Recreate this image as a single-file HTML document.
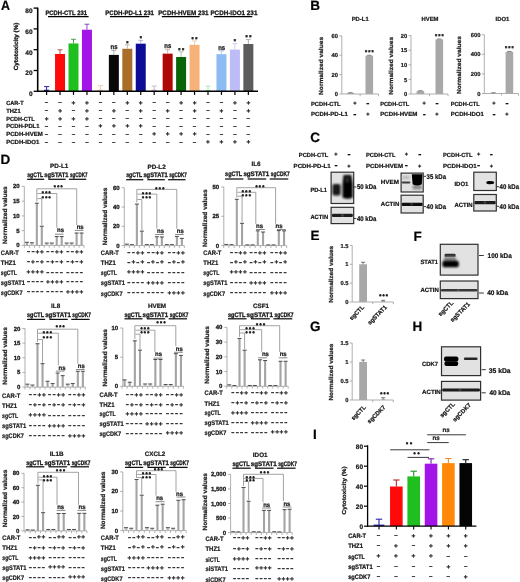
<!DOCTYPE html>
<html><head><meta charset="utf-8"><title>Figure</title>
<style>html,body{margin:0;padding:0;background:#fff;}svg{display:block;filter:blur(0.3px);}text{stroke:#1a1a1a;stroke-width:0.22px;}</style>
</head><body>
<svg width="520" height="582" viewBox="0 0 520 582" font-family="'Liberation Sans', Arial, sans-serif" font-weight="bold" fill="#1a1a1a" text-rendering="geometricPrecision">
<text x="0.96" y="9.80" font-size="13.5" fill="#000" textLength="9.00" lengthAdjust="spacingAndGlyphs">A</text>
<text x="310.30" y="9.80" font-size="13.5" fill="#000">B</text>
<text x="310.30" y="141.70" font-size="13.5" fill="#000">C</text>
<text x="0.60" y="164.30" font-size="13.5" fill="#000">D</text>
<text x="310.50" y="240.30" font-size="13.5" fill="#000">E</text>
<text x="413.50" y="240.50" font-size="13.5" fill="#000">F</text>
<text x="310.05" y="331.20" font-size="13.5" fill="#000">G</text>
<text x="412.40" y="331.00" font-size="13.5" fill="#000">H</text>
<text x="312.90" y="438.50" font-size="13.5" fill="#000">I</text>
<line x1="37.70" y1="7.60" x2="37.70" y2="92.00" stroke="#000" stroke-width="1.6"/>
<line x1="33.60" y1="91.30" x2="37.70" y2="91.30" stroke="#000" stroke-width="1.3"/>
<text x="32.60" y="96.20" font-size="6.5" text-anchor="end" fill="#111">0</text>
<line x1="33.60" y1="70.50" x2="37.70" y2="70.50" stroke="#000" stroke-width="1.3"/>
<text x="32.60" y="75.40" font-size="6.5" text-anchor="end" fill="#111">20</text>
<line x1="33.60" y1="49.70" x2="37.70" y2="49.70" stroke="#000" stroke-width="1.3"/>
<text x="32.60" y="54.60" font-size="6.5" text-anchor="end" fill="#111">40</text>
<line x1="33.60" y1="28.90" x2="37.70" y2="28.90" stroke="#000" stroke-width="1.3"/>
<text x="32.60" y="33.80" font-size="6.5" text-anchor="end" fill="#111">60</text>
<line x1="33.60" y1="8.10" x2="37.70" y2="8.10" stroke="#000" stroke-width="1.3"/>
<text x="32.60" y="13.00" font-size="6.5" text-anchor="end" fill="#111">80</text>
<text x="18.50" y="46.40" font-size="6.0" text-anchor="middle" fill="#111" textLength="47.60" lengthAdjust="spacingAndGlyphs" transform="rotate(-90 18.50 46.40)" style="stroke-width:0.28px">Cytotoxicity (%)</text>
<line x1="46.60" y1="86.62" x2="46.60" y2="91.30" stroke="#2a2aa0" stroke-width="1.0"/>
<line x1="44.00" y1="86.62" x2="49.20" y2="86.62" stroke="#2a2aa0" stroke-width="1.0"/>
<rect x="44.00" y="89.70" width="5.20" height="1.60" fill="#2a2aa0"/>
<line x1="46.60" y1="91.30" x2="46.60" y2="94.90" stroke="#000" stroke-width="1.2"/>
<rect x="55.05" y="53.96" width="10.00" height="37.34" fill="#ff0a0a"/>
<line x1="60.05" y1="49.80" x2="60.05" y2="53.96" stroke="#b83a3a" stroke-width="0.9"/>
<line x1="57.65" y1="49.80" x2="62.45" y2="49.80" stroke="#b83a3a" stroke-width="0.9"/>
<line x1="60.05" y1="91.30" x2="60.05" y2="94.90" stroke="#000" stroke-width="1.2"/>
<rect x="68.50" y="43.46" width="10.00" height="47.84" fill="#1fbf1f"/>
<line x1="73.50" y1="39.30" x2="73.50" y2="43.46" stroke="#3a9a3a" stroke-width="0.9"/>
<line x1="71.10" y1="39.30" x2="75.90" y2="39.30" stroke="#3a9a3a" stroke-width="0.9"/>
<line x1="73.50" y1="91.30" x2="73.50" y2="94.90" stroke="#000" stroke-width="1.2"/>
<rect x="81.95" y="29.73" width="10.00" height="61.57" fill="#a214e8"/>
<line x1="86.95" y1="24.22" x2="86.95" y2="29.73" stroke="#7a3ab8" stroke-width="0.9"/>
<line x1="84.55" y1="24.22" x2="89.35" y2="24.22" stroke="#7a3ab8" stroke-width="0.9"/>
<line x1="86.95" y1="91.30" x2="86.95" y2="94.90" stroke="#000" stroke-width="1.2"/>
<line x1="100.40" y1="85.68" x2="100.40" y2="91.30" stroke="#f0cdb4" stroke-width="1.0"/>
<line x1="97.80" y1="85.68" x2="103.00" y2="85.68" stroke="#f0cdb4" stroke-width="1.0"/>
<rect x="97.80" y="89.70" width="5.20" height="1.60" fill="#f0cdb4"/>
<line x1="100.40" y1="91.30" x2="100.40" y2="94.90" stroke="#000" stroke-width="1.2"/>
<rect x="108.85" y="54.90" width="10.00" height="36.40" fill="#080808"/>
<line x1="113.85" y1="50.43" x2="113.85" y2="54.90" stroke="#a8a8a8" stroke-width="0.9"/>
<line x1="111.45" y1="50.43" x2="116.25" y2="50.43" stroke="#a8a8a8" stroke-width="0.9"/>
<line x1="113.85" y1="91.30" x2="113.85" y2="94.90" stroke="#000" stroke-width="1.2"/>
<text x="114.05" y="48.93" font-size="6.9" text-anchor="middle" fill="#111" textLength="7.00" lengthAdjust="spacingAndGlyphs" style="stroke-width:0.25px">ns</text>
<rect x="122.30" y="48.76" width="10.00" height="42.54" fill="#a86e2a"/>
<line x1="127.30" y1="44.81" x2="127.30" y2="48.76" stroke="#c0b0a0" stroke-width="0.9"/>
<line x1="124.90" y1="44.81" x2="129.70" y2="44.81" stroke="#c0b0a0" stroke-width="0.9"/>
<line x1="127.30" y1="91.30" x2="127.30" y2="94.90" stroke="#000" stroke-width="1.2"/>
<text x="127.30" y="44.61" font-size="5.6" text-anchor="middle" style="stroke-width:0.42px">*</text>
<rect x="135.75" y="43.67" width="10.00" height="47.63" fill="#0c0c96"/>
<line x1="140.75" y1="40.34" x2="140.75" y2="43.67" stroke="#a8a8c8" stroke-width="0.9"/>
<line x1="138.35" y1="40.34" x2="143.15" y2="40.34" stroke="#a8a8c8" stroke-width="0.9"/>
<line x1="140.75" y1="91.30" x2="140.75" y2="94.90" stroke="#000" stroke-width="1.2"/>
<text x="140.75" y="40.14" font-size="5.6" text-anchor="middle" style="stroke-width:0.42px">*</text>
<line x1="154.20" y1="86.10" x2="154.20" y2="91.30" stroke="#cbbcc8" stroke-width="1.0"/>
<line x1="151.60" y1="86.10" x2="156.80" y2="86.10" stroke="#cbbcc8" stroke-width="1.0"/>
<rect x="151.60" y="89.70" width="5.20" height="1.60" fill="#cbbcc8"/>
<line x1="154.20" y1="91.30" x2="154.20" y2="94.90" stroke="#000" stroke-width="1.2"/>
<rect x="162.65" y="53.65" width="10.00" height="37.65" fill="#b00606"/>
<line x1="167.65" y1="49.70" x2="167.65" y2="53.65" stroke="#c8a8a8" stroke-width="0.9"/>
<line x1="165.25" y1="49.70" x2="170.05" y2="49.70" stroke="#c8a8a8" stroke-width="0.9"/>
<line x1="167.65" y1="91.30" x2="167.65" y2="94.90" stroke="#000" stroke-width="1.2"/>
<text x="167.85" y="48.20" font-size="6.9" text-anchor="middle" fill="#111" textLength="7.00" lengthAdjust="spacingAndGlyphs" style="stroke-width:0.25px">ns</text>
<rect x="176.10" y="56.98" width="10.00" height="34.32" fill="#0a640a"/>
<line x1="181.10" y1="51.78" x2="181.10" y2="56.98" stroke="#a8c0a8" stroke-width="0.9"/>
<line x1="178.70" y1="51.78" x2="183.50" y2="51.78" stroke="#a8c0a8" stroke-width="0.9"/>
<line x1="181.10" y1="91.30" x2="181.10" y2="94.90" stroke="#000" stroke-width="1.2"/>
<text x="181.10" y="51.58" font-size="5.6" text-anchor="middle" textLength="5.93" lengthAdjust="spacing" style="stroke-width:0.42px">**</text>
<rect x="189.55" y="44.81" width="10.00" height="46.49" fill="#f6b278"/>
<line x1="194.55" y1="40.96" x2="194.55" y2="44.81" stroke="#e8c8b0" stroke-width="0.9"/>
<line x1="192.15" y1="40.96" x2="196.95" y2="40.96" stroke="#e8c8b0" stroke-width="0.9"/>
<line x1="194.55" y1="91.30" x2="194.55" y2="94.90" stroke="#000" stroke-width="1.2"/>
<text x="194.55" y="40.76" font-size="5.6" text-anchor="middle" textLength="5.93" lengthAdjust="spacing" style="stroke-width:0.42px">**</text>
<line x1="208.00" y1="86.10" x2="208.00" y2="91.30" stroke="#b4e6b4" stroke-width="1.0"/>
<line x1="205.40" y1="86.10" x2="210.60" y2="86.10" stroke="#b4e6b4" stroke-width="1.0"/>
<rect x="205.40" y="89.70" width="5.20" height="1.60" fill="#b4e6b4"/>
<line x1="208.00" y1="91.30" x2="208.00" y2="94.90" stroke="#000" stroke-width="1.2"/>
<rect x="216.45" y="54.17" width="10.00" height="37.13" fill="#8cbcf2"/>
<line x1="221.45" y1="51.05" x2="221.45" y2="54.17" stroke="#b8c8e8" stroke-width="0.9"/>
<line x1="219.05" y1="51.05" x2="223.85" y2="51.05" stroke="#b8c8e8" stroke-width="0.9"/>
<line x1="221.45" y1="91.30" x2="221.45" y2="94.90" stroke="#000" stroke-width="1.2"/>
<text x="221.65" y="49.55" font-size="6.9" text-anchor="middle" fill="#111" textLength="7.00" lengthAdjust="spacingAndGlyphs" style="stroke-width:0.25px">ns</text>
<rect x="229.90" y="49.60" width="10.00" height="41.70" fill="#bcbcf6"/>
<line x1="234.90" y1="43.67" x2="234.90" y2="49.60" stroke="#c8c8f0" stroke-width="0.9"/>
<line x1="232.50" y1="43.67" x2="237.30" y2="43.67" stroke="#c8c8f0" stroke-width="0.9"/>
<line x1="234.90" y1="91.30" x2="234.90" y2="94.90" stroke="#000" stroke-width="1.2"/>
<text x="234.90" y="43.47" font-size="5.6" text-anchor="middle" style="stroke-width:0.42px">*</text>
<rect x="243.35" y="43.98" width="10.00" height="47.32" fill="#5c5c5c"/>
<line x1="248.35" y1="39.40" x2="248.35" y2="43.98" stroke="#a8a8a8" stroke-width="0.9"/>
<line x1="245.95" y1="39.40" x2="250.75" y2="39.40" stroke="#a8a8a8" stroke-width="0.9"/>
<line x1="248.35" y1="91.30" x2="248.35" y2="94.90" stroke="#000" stroke-width="1.2"/>
<text x="248.35" y="39.20" font-size="5.6" text-anchor="middle" textLength="5.93" lengthAdjust="spacing" style="stroke-width:0.42px">**</text>
<line x1="37.00" y1="91.30" x2="258.00" y2="91.30" stroke="#000" stroke-width="1.4"/>
<text x="45.40" y="14.60" font-size="6.4" fill="#111" textLength="41.60" lengthAdjust="spacingAndGlyphs" style="stroke-width:0.26px">PCDH-CTL 231</text>
<line x1="48.00" y1="16.70" x2="88.60" y2="16.70" stroke="#000" stroke-width="1.2"/>
<text x="105.20" y="14.60" font-size="6.4" fill="#111" textLength="48.80" lengthAdjust="spacingAndGlyphs" style="stroke-width:0.26px">PCDH-PD-L1 231</text>
<line x1="110.00" y1="16.70" x2="149.20" y2="16.70" stroke="#000" stroke-width="1.2"/>
<text x="158.20" y="14.60" font-size="6.4" fill="#111" textLength="50.20" lengthAdjust="spacingAndGlyphs" style="stroke-width:0.26px">PCDH-HVEM 231</text>
<line x1="161.80" y1="16.70" x2="199.60" y2="16.70" stroke="#000" stroke-width="1.2"/>
<text x="210.40" y="14.60" font-size="6.4" fill="#111" textLength="47.00" lengthAdjust="spacingAndGlyphs" style="stroke-width:0.26px">PCDH-IDO1 231</text>
<line x1="213.80" y1="16.70" x2="252.30" y2="16.70" stroke="#000" stroke-width="1.2"/>
<text x="6.20" y="105.00" font-size="5.9" fill="#111" textLength="17.40" lengthAdjust="spacingAndGlyphs">CAR-T</text>
<text x="46.60" y="104.45" font-size="6.2" text-anchor="middle" fill="#111">–</text>
<text x="60.05" y="104.45" font-size="6.2" text-anchor="middle" fill="#111">–</text>
<text x="73.50" y="105.00" font-size="6.5" text-anchor="middle" fill="#111">+</text>
<text x="86.95" y="105.00" font-size="6.5" text-anchor="middle" fill="#111">+</text>
<text x="100.40" y="104.45" font-size="6.2" text-anchor="middle" fill="#111">–</text>
<text x="113.85" y="104.45" font-size="6.2" text-anchor="middle" fill="#111">–</text>
<text x="127.30" y="105.00" font-size="6.5" text-anchor="middle" fill="#111">+</text>
<text x="140.75" y="105.00" font-size="6.5" text-anchor="middle" fill="#111">+</text>
<text x="154.20" y="104.45" font-size="6.2" text-anchor="middle" fill="#111">–</text>
<text x="167.65" y="104.45" font-size="6.2" text-anchor="middle" fill="#111">–</text>
<text x="181.10" y="105.00" font-size="6.5" text-anchor="middle" fill="#111">+</text>
<text x="194.55" y="105.00" font-size="6.5" text-anchor="middle" fill="#111">+</text>
<text x="208.00" y="104.45" font-size="6.2" text-anchor="middle" fill="#111">–</text>
<text x="221.45" y="104.45" font-size="6.2" text-anchor="middle" fill="#111">–</text>
<text x="234.90" y="105.00" font-size="6.5" text-anchor="middle" fill="#111">+</text>
<text x="248.35" y="105.00" font-size="6.5" text-anchor="middle" fill="#111">+</text>
<text x="6.20" y="112.82" font-size="5.9" fill="#111" textLength="14.40" lengthAdjust="spacingAndGlyphs">THZ1</text>
<text x="46.60" y="112.27" font-size="6.2" text-anchor="middle" fill="#111">–</text>
<text x="60.05" y="112.82" font-size="6.5" text-anchor="middle" fill="#111">+</text>
<text x="73.50" y="112.27" font-size="6.2" text-anchor="middle" fill="#111">–</text>
<text x="86.95" y="112.82" font-size="6.5" text-anchor="middle" fill="#111">+</text>
<text x="100.40" y="112.27" font-size="6.2" text-anchor="middle" fill="#111">–</text>
<text x="113.85" y="112.82" font-size="6.5" text-anchor="middle" fill="#111">+</text>
<text x="127.30" y="112.27" font-size="6.2" text-anchor="middle" fill="#111">–</text>
<text x="140.75" y="112.82" font-size="6.5" text-anchor="middle" fill="#111">+</text>
<text x="154.20" y="112.27" font-size="6.2" text-anchor="middle" fill="#111">–</text>
<text x="167.65" y="112.82" font-size="6.5" text-anchor="middle" fill="#111">+</text>
<text x="181.10" y="112.27" font-size="6.2" text-anchor="middle" fill="#111">–</text>
<text x="194.55" y="112.82" font-size="6.5" text-anchor="middle" fill="#111">+</text>
<text x="208.00" y="112.27" font-size="6.2" text-anchor="middle" fill="#111">–</text>
<text x="221.45" y="112.82" font-size="6.5" text-anchor="middle" fill="#111">+</text>
<text x="234.90" y="112.27" font-size="6.2" text-anchor="middle" fill="#111">–</text>
<text x="248.35" y="112.82" font-size="6.5" text-anchor="middle" fill="#111">+</text>
<text x="6.20" y="120.64" font-size="5.9" fill="#111" textLength="28.40" lengthAdjust="spacingAndGlyphs">PCDH-CTL</text>
<text x="46.60" y="120.64" font-size="6.5" text-anchor="middle" fill="#111">+</text>
<text x="60.05" y="120.64" font-size="6.5" text-anchor="middle" fill="#111">+</text>
<text x="73.50" y="120.64" font-size="6.5" text-anchor="middle" fill="#111">+</text>
<text x="86.95" y="120.64" font-size="6.5" text-anchor="middle" fill="#111">+</text>
<text x="100.40" y="120.09" font-size="6.2" text-anchor="middle" fill="#111">–</text>
<text x="113.85" y="120.09" font-size="6.2" text-anchor="middle" fill="#111">–</text>
<text x="127.30" y="120.09" font-size="6.2" text-anchor="middle" fill="#111">–</text>
<text x="140.75" y="120.09" font-size="6.2" text-anchor="middle" fill="#111">–</text>
<text x="154.20" y="120.09" font-size="6.2" text-anchor="middle" fill="#111">–</text>
<text x="167.65" y="120.09" font-size="6.2" text-anchor="middle" fill="#111">–</text>
<text x="181.10" y="120.09" font-size="6.2" text-anchor="middle" fill="#111">–</text>
<text x="194.55" y="120.09" font-size="6.2" text-anchor="middle" fill="#111">–</text>
<text x="208.00" y="120.09" font-size="6.2" text-anchor="middle" fill="#111">–</text>
<text x="221.45" y="120.09" font-size="6.2" text-anchor="middle" fill="#111">–</text>
<text x="234.90" y="120.09" font-size="6.2" text-anchor="middle" fill="#111">–</text>
<text x="248.35" y="120.09" font-size="6.2" text-anchor="middle" fill="#111">–</text>
<text x="6.20" y="128.46" font-size="5.9" fill="#111" textLength="33.20" lengthAdjust="spacingAndGlyphs">PCDH-PDL1</text>
<text x="46.60" y="127.91" font-size="6.2" text-anchor="middle" fill="#111">–</text>
<text x="60.05" y="127.91" font-size="6.2" text-anchor="middle" fill="#111">–</text>
<text x="73.50" y="127.91" font-size="6.2" text-anchor="middle" fill="#111">–</text>
<text x="86.95" y="127.91" font-size="6.2" text-anchor="middle" fill="#111">–</text>
<text x="100.40" y="128.46" font-size="6.5" text-anchor="middle" fill="#111">+</text>
<text x="113.85" y="128.46" font-size="6.5" text-anchor="middle" fill="#111">+</text>
<text x="127.30" y="128.46" font-size="6.5" text-anchor="middle" fill="#111">+</text>
<text x="140.75" y="128.46" font-size="6.5" text-anchor="middle" fill="#111">+</text>
<text x="154.20" y="127.91" font-size="6.2" text-anchor="middle" fill="#111">–</text>
<text x="167.65" y="127.91" font-size="6.2" text-anchor="middle" fill="#111">–</text>
<text x="181.10" y="127.91" font-size="6.2" text-anchor="middle" fill="#111">–</text>
<text x="194.55" y="127.91" font-size="6.2" text-anchor="middle" fill="#111">–</text>
<text x="208.00" y="127.91" font-size="6.2" text-anchor="middle" fill="#111">–</text>
<text x="221.45" y="127.91" font-size="6.2" text-anchor="middle" fill="#111">–</text>
<text x="234.90" y="127.91" font-size="6.2" text-anchor="middle" fill="#111">–</text>
<text x="248.35" y="127.91" font-size="6.2" text-anchor="middle" fill="#111">–</text>
<text x="6.20" y="136.28" font-size="5.9" fill="#111" textLength="36.60" lengthAdjust="spacingAndGlyphs">PCDH-HVEM</text>
<text x="46.60" y="135.73" font-size="6.2" text-anchor="middle" fill="#111">–</text>
<text x="60.05" y="135.73" font-size="6.2" text-anchor="middle" fill="#111">–</text>
<text x="73.50" y="135.73" font-size="6.2" text-anchor="middle" fill="#111">–</text>
<text x="86.95" y="135.73" font-size="6.2" text-anchor="middle" fill="#111">–</text>
<text x="100.40" y="135.73" font-size="6.2" text-anchor="middle" fill="#111">–</text>
<text x="113.85" y="135.73" font-size="6.2" text-anchor="middle" fill="#111">–</text>
<text x="127.30" y="135.73" font-size="6.2" text-anchor="middle" fill="#111">–</text>
<text x="140.75" y="135.73" font-size="6.2" text-anchor="middle" fill="#111">–</text>
<text x="154.20" y="136.28" font-size="6.5" text-anchor="middle" fill="#111">+</text>
<text x="167.65" y="136.28" font-size="6.5" text-anchor="middle" fill="#111">+</text>
<text x="181.10" y="136.28" font-size="6.5" text-anchor="middle" fill="#111">+</text>
<text x="194.55" y="136.28" font-size="6.5" text-anchor="middle" fill="#111">+</text>
<text x="208.00" y="135.73" font-size="6.2" text-anchor="middle" fill="#111">–</text>
<text x="221.45" y="135.73" font-size="6.2" text-anchor="middle" fill="#111">–</text>
<text x="234.90" y="135.73" font-size="6.2" text-anchor="middle" fill="#111">–</text>
<text x="248.35" y="135.73" font-size="6.2" text-anchor="middle" fill="#111">–</text>
<text x="6.20" y="144.10" font-size="5.9" fill="#111" textLength="33.20" lengthAdjust="spacingAndGlyphs">PCDH-IDO1</text>
<text x="46.60" y="143.55" font-size="6.2" text-anchor="middle" fill="#111">–</text>
<text x="60.05" y="143.55" font-size="6.2" text-anchor="middle" fill="#111">–</text>
<text x="73.50" y="143.55" font-size="6.2" text-anchor="middle" fill="#111">–</text>
<text x="86.95" y="143.55" font-size="6.2" text-anchor="middle" fill="#111">–</text>
<text x="100.40" y="143.55" font-size="6.2" text-anchor="middle" fill="#111">–</text>
<text x="113.85" y="143.55" font-size="6.2" text-anchor="middle" fill="#111">–</text>
<text x="127.30" y="143.55" font-size="6.2" text-anchor="middle" fill="#111">–</text>
<text x="140.75" y="143.55" font-size="6.2" text-anchor="middle" fill="#111">–</text>
<text x="154.20" y="143.55" font-size="6.2" text-anchor="middle" fill="#111">–</text>
<text x="167.65" y="143.55" font-size="6.2" text-anchor="middle" fill="#111">–</text>
<text x="181.10" y="143.55" font-size="6.2" text-anchor="middle" fill="#111">–</text>
<text x="194.55" y="143.55" font-size="6.2" text-anchor="middle" fill="#111">–</text>
<text x="208.00" y="144.10" font-size="6.5" text-anchor="middle" fill="#111">+</text>
<text x="221.45" y="144.10" font-size="6.5" text-anchor="middle" fill="#111">+</text>
<text x="234.90" y="144.10" font-size="6.5" text-anchor="middle" fill="#111">+</text>
<text x="248.35" y="144.10" font-size="6.5" text-anchor="middle" fill="#111">+</text>
<line x1="341.80" y1="35.80" x2="341.80" y2="94.00" stroke="#9a9a9a" stroke-width="0.8"/>
<line x1="339.40" y1="94.00" x2="341.80" y2="94.00" stroke="#9a9a9a" stroke-width="0.8"/>
<text x="338.00" y="96.10" font-size="5.8" text-anchor="end" fill="#222">0</text>
<line x1="339.40" y1="74.60" x2="341.80" y2="74.60" stroke="#9a9a9a" stroke-width="0.8"/>
<text x="338.00" y="76.70" font-size="5.8" text-anchor="end" fill="#222">20</text>
<line x1="339.40" y1="55.20" x2="341.80" y2="55.20" stroke="#9a9a9a" stroke-width="0.8"/>
<text x="338.00" y="57.30" font-size="5.8" text-anchor="end" fill="#222">40</text>
<line x1="339.40" y1="35.80" x2="341.80" y2="35.80" stroke="#9a9a9a" stroke-width="0.8"/>
<text x="338.00" y="37.90" font-size="5.8" text-anchor="end" fill="#222">60</text>
<line x1="341.80" y1="94.00" x2="378.50" y2="94.00" stroke="#9a9a9a" stroke-width="0.8"/>
<line x1="360.15" y1="94.00" x2="360.15" y2="96.20" stroke="#9a9a9a" stroke-width="0.8"/>
<line x1="378.50" y1="94.00" x2="378.50" y2="96.20" stroke="#9a9a9a" stroke-width="0.8"/>
<rect x="346.70" y="93.03" width="7.60" height="0.97" fill="#a8a8a8"/>
<line x1="348.30" y1="92.63" x2="352.70" y2="92.63" stroke="#666" stroke-width="0.8"/>
<rect x="365.50" y="55.68" width="7.60" height="38.32" fill="#a8a8a8"/>
<line x1="367.10" y1="55.28" x2="371.50" y2="55.28" stroke="#666" stroke-width="0.8"/>
<text x="369.30" y="53.88" font-size="5.6" text-anchor="middle" textLength="8.78" lengthAdjust="spacing" style="stroke-width:0.35px">***</text>
<text x="360.20" y="20.80" font-size="5.9" text-anchor="middle" fill="#222">PD-L1</text>
<text x="323.20" y="65.90" font-size="5.9" text-anchor="middle" fill="#222" textLength="58.00" lengthAdjust="spacingAndGlyphs" transform="rotate(-90 323.20 65.90)">Normalized values</text>
<text x="311.00" y="105.60" font-size="5.9" fill="#111" textLength="29.60" lengthAdjust="spacingAndGlyphs">PCDH-CTL</text>
<text x="311.00" y="116.30" font-size="5.9" fill="#111" textLength="36.80" lengthAdjust="spacingAndGlyphs">PCDH-PD-L1</text>
<text x="354.80" y="105.45" font-size="5.6" text-anchor="middle" fill="#111">+</text>
<text x="367.80" y="106.05" font-size="9.4" text-anchor="middle" fill="#111">-</text>
<text x="354.80" y="116.85" font-size="9.4" text-anchor="middle" fill="#111">-</text>
<text x="367.80" y="116.25" font-size="5.6" text-anchor="middle" fill="#111">+</text>
<line x1="411.00" y1="35.60" x2="411.00" y2="94.00" stroke="#9a9a9a" stroke-width="0.8"/>
<line x1="408.60" y1="94.00" x2="411.00" y2="94.00" stroke="#9a9a9a" stroke-width="0.8"/>
<text x="407.20" y="96.10" font-size="5.8" text-anchor="end" fill="#222">0</text>
<line x1="408.60" y1="79.40" x2="411.00" y2="79.40" stroke="#9a9a9a" stroke-width="0.8"/>
<text x="407.20" y="81.50" font-size="5.8" text-anchor="end" fill="#222">5</text>
<line x1="408.60" y1="64.80" x2="411.00" y2="64.80" stroke="#9a9a9a" stroke-width="0.8"/>
<text x="407.20" y="66.90" font-size="5.8" text-anchor="end" fill="#222">10</text>
<line x1="408.60" y1="50.20" x2="411.00" y2="50.20" stroke="#9a9a9a" stroke-width="0.8"/>
<text x="407.20" y="52.30" font-size="5.8" text-anchor="end" fill="#222">15</text>
<line x1="408.60" y1="35.60" x2="411.00" y2="35.60" stroke="#9a9a9a" stroke-width="0.8"/>
<text x="407.20" y="37.70" font-size="5.8" text-anchor="end" fill="#222">20</text>
<line x1="411.00" y1="94.00" x2="448.00" y2="94.00" stroke="#9a9a9a" stroke-width="0.8"/>
<line x1="429.50" y1="94.00" x2="429.50" y2="96.20" stroke="#9a9a9a" stroke-width="0.8"/>
<line x1="448.00" y1="94.00" x2="448.00" y2="96.20" stroke="#9a9a9a" stroke-width="0.8"/>
<rect x="416.60" y="91.08" width="7.60" height="2.92" fill="#a8a8a8"/>
<line x1="418.20" y1="90.68" x2="422.60" y2="90.68" stroke="#666" stroke-width="0.8"/>
<rect x="435.50" y="39.40" width="7.60" height="54.60" fill="#a8a8a8"/>
<line x1="437.10" y1="39.00" x2="441.50" y2="39.00" stroke="#666" stroke-width="0.8"/>
<text x="439.30" y="37.60" font-size="5.6" text-anchor="middle" textLength="8.78" lengthAdjust="spacing" style="stroke-width:0.35px">***</text>
<text x="430.00" y="20.80" font-size="5.9" text-anchor="middle" fill="#222">HVEM</text>
<text x="392.60" y="65.80" font-size="5.9" text-anchor="middle" fill="#222" textLength="58.00" lengthAdjust="spacingAndGlyphs" transform="rotate(-90 392.60 65.80)">Normalized values</text>
<text x="380.20" y="105.60" font-size="5.9" fill="#111" textLength="29.00" lengthAdjust="spacingAndGlyphs">PCDH-CTL</text>
<text x="380.20" y="116.30" font-size="5.9" fill="#111" textLength="37.20" lengthAdjust="spacingAndGlyphs">PCDH-HVEM</text>
<text x="424.20" y="105.45" font-size="5.6" text-anchor="middle" fill="#111">+</text>
<text x="437.00" y="106.05" font-size="9.4" text-anchor="middle" fill="#111">-</text>
<text x="424.20" y="116.85" font-size="9.4" text-anchor="middle" fill="#111">-</text>
<text x="437.00" y="116.25" font-size="5.6" text-anchor="middle" fill="#111">+</text>
<line x1="484.30" y1="34.70" x2="484.30" y2="93.50" stroke="#9a9a9a" stroke-width="0.8"/>
<line x1="481.90" y1="93.50" x2="484.30" y2="93.50" stroke="#9a9a9a" stroke-width="0.8"/>
<text x="480.50" y="95.60" font-size="5.8" text-anchor="end" fill="#222">0</text>
<line x1="481.90" y1="73.90" x2="484.30" y2="73.90" stroke="#9a9a9a" stroke-width="0.8"/>
<text x="480.50" y="76.00" font-size="5.8" text-anchor="end" fill="#222">200</text>
<line x1="481.90" y1="54.30" x2="484.30" y2="54.30" stroke="#9a9a9a" stroke-width="0.8"/>
<text x="480.50" y="56.40" font-size="5.8" text-anchor="end" fill="#222">400</text>
<line x1="481.90" y1="34.70" x2="484.30" y2="34.70" stroke="#9a9a9a" stroke-width="0.8"/>
<text x="480.50" y="36.80" font-size="5.8" text-anchor="end" fill="#222">600</text>
<line x1="484.30" y1="93.50" x2="518.50" y2="93.50" stroke="#9a9a9a" stroke-width="0.8"/>
<line x1="501.40" y1="93.50" x2="501.40" y2="95.70" stroke="#9a9a9a" stroke-width="0.8"/>
<line x1="518.50" y1="93.50" x2="518.50" y2="95.70" stroke="#9a9a9a" stroke-width="0.8"/>
<rect x="489.70" y="93.11" width="7.60" height="0.39" fill="#a8a8a8"/>
<line x1="491.30" y1="92.71" x2="495.70" y2="92.71" stroke="#666" stroke-width="0.8"/>
<rect x="505.60" y="51.85" width="7.60" height="41.65" fill="#a8a8a8"/>
<line x1="507.20" y1="51.45" x2="511.60" y2="51.45" stroke="#666" stroke-width="0.8"/>
<text x="509.40" y="50.05" font-size="5.6" text-anchor="middle" textLength="8.78" lengthAdjust="spacing" style="stroke-width:0.35px">***</text>
<text x="502.40" y="20.80" font-size="5.9" text-anchor="middle" fill="#222">IDO1</text>
<text x="461.00" y="65.10" font-size="5.9" text-anchor="middle" fill="#222" textLength="58.00" lengthAdjust="spacingAndGlyphs" transform="rotate(-90 461.00 65.10)">Normalized values</text>
<text x="450.80" y="105.60" font-size="5.9" fill="#111" textLength="28.80" lengthAdjust="spacingAndGlyphs">PCDH-CTL</text>
<text x="450.80" y="116.30" font-size="5.9" fill="#111" textLength="33.00" lengthAdjust="spacingAndGlyphs">PCDH-IDO1</text>
<text x="494.00" y="105.45" font-size="5.6" text-anchor="middle" fill="#111">+</text>
<text x="507.00" y="106.05" font-size="9.4" text-anchor="middle" fill="#111">-</text>
<text x="494.00" y="116.85" font-size="9.4" text-anchor="middle" fill="#111">-</text>
<text x="507.00" y="116.25" font-size="5.6" text-anchor="middle" fill="#111">+</text>
<text x="298.80" y="156.80" font-size="5.9" fill="#111" textLength="29.40" lengthAdjust="spacingAndGlyphs">PCDH-CTL</text>
<text x="293.60" y="168.20" font-size="5.9" fill="#111" textLength="37.00" lengthAdjust="spacingAndGlyphs">PCDH-PD-L1</text>
<text x="336.00" y="156.45" font-size="5.6" text-anchor="middle" fill="#111">+</text>
<text x="349.00" y="157.05" font-size="9.4" text-anchor="middle" fill="#111">-</text>
<text x="336.00" y="168.45" font-size="9.4" text-anchor="middle" fill="#111">-</text>
<text x="349.00" y="167.85" font-size="5.6" text-anchor="middle" fill="#111">+</text>
<text x="366.00" y="156.80" font-size="5.9" fill="#111" textLength="29.40" lengthAdjust="spacingAndGlyphs">PCDH-CTL</text>
<text x="366.00" y="168.20" font-size="5.9" fill="#111" textLength="37.00" lengthAdjust="spacingAndGlyphs">PCDH-HVEM</text>
<text x="406.40" y="156.45" font-size="5.6" text-anchor="middle" fill="#111">+</text>
<text x="419.70" y="157.05" font-size="9.4" text-anchor="middle" fill="#111">-</text>
<text x="406.40" y="168.45" font-size="9.4" text-anchor="middle" fill="#111">-</text>
<text x="419.70" y="167.85" font-size="5.6" text-anchor="middle" fill="#111">+</text>
<text x="443.00" y="156.80" font-size="5.9" fill="#111" textLength="29.40" lengthAdjust="spacingAndGlyphs">PCDH-CTL</text>
<text x="443.00" y="168.20" font-size="5.9" fill="#111" textLength="33.60" lengthAdjust="spacingAndGlyphs">PCDH-IDO1</text>
<text x="478.60" y="156.45" font-size="5.6" text-anchor="middle" fill="#111">+</text>
<text x="491.40" y="157.05" font-size="9.4" text-anchor="middle" fill="#111">-</text>
<text x="478.60" y="168.45" font-size="9.4" text-anchor="middle" fill="#111">-</text>
<text x="491.40" y="167.85" font-size="5.6" text-anchor="middle" fill="#111">+</text>
<defs>
<filter id="bl1" x="-40%" y="-40%" width="180%" height="180%"><feGaussianBlur stdDeviation="0.8"/></filter>
<filter id="bl2" x="-40%" y="-40%" width="180%" height="180%"><feGaussianBlur stdDeviation="0.75"/></filter>
<filter id="bl3" x="-40%" y="-40%" width="180%" height="180%"><feGaussianBlur stdDeviation="1.2"/></filter>
</defs>
<rect x="331.10" y="172.20" width="22.60" height="31.30" fill="#e2e2e2" stroke="#303030" stroke-width="1.2"/>
<rect x="332.40" y="184.00" width="8.20" height="11.40" rx="1.8" fill="#121212" filter="url(#bl1)"/>
<path d="M343.6,175.0 L351.2,175.0 L352.7,184 L352.7,197.4 Q347.6,200.0 342.5,197.4 L342.5,184 Z" fill="#060606" filter="url(#bl1)"/>
<ellipse cx="347.4" cy="179.5" rx="2.4" ry="3.6" fill="#5a5a5a" opacity="0.45" filter="url(#bl1)"/>
<text x="310.40" y="192.40" font-size="6.2" fill="#111" textLength="16.60" lengthAdjust="spacingAndGlyphs">PD-L1</text>
<line x1="354.00" y1="187.00" x2="356.40" y2="187.00" stroke="#222" stroke-width="0.9"/>
<text x="357.00" y="189.30" font-size="6.8" fill="#111" textLength="19.40" lengthAdjust="spacingAndGlyphs">50 kDa</text>
<rect x="331.10" y="207.30" width="22.60" height="16.30" fill="#e2e2e2" stroke="#303030" stroke-width="1.2"/>
<rect x="332.00" y="213.70" width="20.80" height="3.40" rx="1.0" fill="#1c1c1c" filter="url(#bl2)"/>
<ellipse cx="342.40" cy="215.40" rx="1.4" ry="1.53" fill="#d8d8d8" opacity="0.18" filter="url(#bl2)"/>
<text x="310.40" y="218.60" font-size="6.2" fill="#111" textLength="17.80" lengthAdjust="spacingAndGlyphs">ACTIN</text>
<line x1="354.00" y1="218.50" x2="356.40" y2="218.50" stroke="#222" stroke-width="0.9"/>
<text x="357.00" y="220.80" font-size="6.8" fill="#111" textLength="19.40" lengthAdjust="spacingAndGlyphs">40 kDa</text>
<rect x="401.10" y="173.10" width="22.10" height="18.90" fill="#e2e2e2" stroke="#303030" stroke-width="1.2"/>
<rect x="402.20" y="176.00" width="7.60" height="3.00" rx="1.0" fill="#b8b8b8" filter="url(#bl3)"/>
<rect x="401.90" y="181.50" width="8.40" height="2.10" rx="0.8" fill="#3c3c3c" filter="url(#bl2)"/>
<rect x="412.60" y="185.00" width="9.20" height="4.60" rx="1.2" fill="#8a8a8a" filter="url(#bl3)"/>
<path d="M411.8,174.2 L422.4,174.2 L421.8,184.2 Q417.2,187.0 412.6,184.2 Z" fill="#000" filter="url(#bl2)"/>
<text x="380.80" y="184.20" font-size="6.2" fill="#111" textLength="18.20" lengthAdjust="spacingAndGlyphs">HVEM</text>
<line x1="423.60" y1="176.30" x2="426.00" y2="176.30" stroke="#222" stroke-width="0.9"/>
<text x="426.60" y="178.60" font-size="6.8" fill="#111" textLength="19.40" lengthAdjust="spacingAndGlyphs">35 kDa</text>
<rect x="401.10" y="195.20" width="22.10" height="17.80" fill="#e2e2e2" stroke="#303030" stroke-width="1.2"/>
<rect x="401.80" y="202.70" width="20.80" height="3.30" rx="1.0" fill="#111" filter="url(#bl2)"/>
<ellipse cx="411.60" cy="204.35" rx="1.4" ry="1.48" fill="#d8d8d8" opacity="0.18" filter="url(#bl2)"/>
<text x="380.80" y="206.40" font-size="6.2" fill="#111" textLength="18.60" lengthAdjust="spacingAndGlyphs">ACTIN</text>
<line x1="423.60" y1="206.60" x2="426.00" y2="206.60" stroke="#222" stroke-width="0.9"/>
<text x="426.60" y="208.90" font-size="6.8" fill="#111" textLength="19.40" lengthAdjust="spacingAndGlyphs">40 kDa</text>
<rect x="473.80" y="172.20" width="22.50" height="18.30" fill="#e2e2e2" stroke="#303030" stroke-width="1.2"/>
<path d="M486.2,182.6 Q486.2,180.8 489.0,180.9 L492.6,181.2 Q494.2,181.6 494.2,182.6 Q494.2,183.8 492.6,184.0 L489.0,184.2 Q486.2,184.3 486.2,182.6 Z" fill="#000" filter="url(#bl2)"/>
<text x="454.40" y="185.80" font-size="6.2" fill="#111" textLength="14.00" lengthAdjust="spacingAndGlyphs">IDO1</text>
<line x1="496.60" y1="186.70" x2="499.00" y2="186.70" stroke="#222" stroke-width="0.9"/>
<text x="499.60" y="189.00" font-size="6.8" fill="#111" textLength="19.40" lengthAdjust="spacingAndGlyphs">40 kDa</text>
<rect x="473.80" y="194.50" width="22.50" height="16.50" fill="#e2e2e2" stroke="#303030" stroke-width="1.2"/>
<rect x="474.50" y="200.90" width="21.10" height="3.30" rx="1.0" fill="#1a1a1a" filter="url(#bl2)"/>
<ellipse cx="484.90" cy="202.55" rx="1.4" ry="1.48" fill="#d8d8d8" opacity="0.18" filter="url(#bl2)"/>
<text x="454.40" y="207.20" font-size="6.2" fill="#111" textLength="18.20" lengthAdjust="spacingAndGlyphs">ACTIN</text>
<line x1="496.60" y1="206.30" x2="499.00" y2="206.30" stroke="#222" stroke-width="0.9"/>
<text x="499.60" y="208.60" font-size="6.8" fill="#111" textLength="19.40" lengthAdjust="spacingAndGlyphs">40 kDa</text>
<line x1="352.20" y1="245.40" x2="352.20" y2="302.00" stroke="#9a9a9a" stroke-width="0.8"/>
<line x1="349.80" y1="302.00" x2="352.20" y2="302.00" stroke="#9a9a9a" stroke-width="0.8"/>
<text x="348.60" y="304.10" font-size="5.8" text-anchor="end" fill="#222">0</text>
<line x1="349.80" y1="283.13" x2="352.20" y2="283.13" stroke="#9a9a9a" stroke-width="0.8"/>
<text x="348.60" y="285.23" font-size="5.8" text-anchor="end" fill="#222">0.5</text>
<line x1="349.80" y1="264.27" x2="352.20" y2="264.27" stroke="#9a9a9a" stroke-width="0.8"/>
<text x="348.60" y="266.37" font-size="5.8" text-anchor="end" fill="#222">1</text>
<line x1="349.80" y1="245.40" x2="352.20" y2="245.40" stroke="#9a9a9a" stroke-width="0.8"/>
<text x="348.60" y="247.50" font-size="5.8" text-anchor="end" fill="#222">1.5</text>
<line x1="352.20" y1="302.00" x2="393.30" y2="302.00" stroke="#9a9a9a" stroke-width="0.8"/>
<line x1="372.80" y1="302.00" x2="372.80" y2="304.20" stroke="#9a9a9a" stroke-width="0.8"/>
<line x1="393.30" y1="302.00" x2="393.30" y2="304.20" stroke="#9a9a9a" stroke-width="0.8"/>
<rect x="359.20" y="264.27" width="7.80" height="37.73" fill="#a8a8a8"/>
<line x1="363.10" y1="262.27" x2="363.10" y2="264.27" stroke="#555" stroke-width="0.8"/>
<line x1="361.10" y1="262.27" x2="365.10" y2="262.27" stroke="#555" stroke-width="0.8"/>
<rect x="381.20" y="300.87" width="4.00" height="1.13" fill="#a8a8a8"/>
<line x1="383.20" y1="300.30" x2="383.20" y2="300.87" stroke="#555" stroke-width="0.8"/>
<line x1="381.20" y1="300.30" x2="385.20" y2="300.30" stroke="#555" stroke-width="0.8"/>
<text x="383.60" y="298.30" font-size="5.4" text-anchor="middle" textLength="8.70" lengthAdjust="spacing" style="stroke-width:0.4px">***</text>
<text x="333.10" y="274.30" font-size="5.9" text-anchor="middle" fill="#222" textLength="57.00" lengthAdjust="spacingAndGlyphs" transform="rotate(-90 333.10 274.30)">Normalized values</text>
<text x="364.60" y="307.60" font-size="5.9" text-anchor="end" fill="#111" transform="rotate(-45 364.60 307.60)">sgCTL</text>
<text x="387.40" y="307.60" font-size="5.9" text-anchor="end" fill="#111" transform="rotate(-45 387.40 307.60)">sgSTAT1</text>
<line x1="352.20" y1="343.00" x2="352.20" y2="400.00" stroke="#9a9a9a" stroke-width="0.8"/>
<line x1="349.80" y1="400.00" x2="352.20" y2="400.00" stroke="#9a9a9a" stroke-width="0.8"/>
<text x="348.60" y="402.10" font-size="5.8" text-anchor="end" fill="#222">0</text>
<line x1="349.80" y1="381.00" x2="352.20" y2="381.00" stroke="#9a9a9a" stroke-width="0.8"/>
<text x="348.60" y="383.10" font-size="5.8" text-anchor="end" fill="#222">0.5</text>
<line x1="349.80" y1="362.00" x2="352.20" y2="362.00" stroke="#9a9a9a" stroke-width="0.8"/>
<text x="348.60" y="364.10" font-size="5.8" text-anchor="end" fill="#222">1</text>
<line x1="349.80" y1="343.00" x2="352.20" y2="343.00" stroke="#9a9a9a" stroke-width="0.8"/>
<text x="348.60" y="345.10" font-size="5.8" text-anchor="end" fill="#222">1.5</text>
<line x1="352.20" y1="400.00" x2="393.30" y2="400.00" stroke="#9a9a9a" stroke-width="0.8"/>
<line x1="372.80" y1="400.00" x2="372.80" y2="402.20" stroke="#9a9a9a" stroke-width="0.8"/>
<line x1="393.30" y1="400.00" x2="393.30" y2="402.20" stroke="#9a9a9a" stroke-width="0.8"/>
<rect x="359.20" y="362.00" width="7.80" height="38.00" fill="#a8a8a8"/>
<line x1="363.10" y1="360.00" x2="363.10" y2="362.00" stroke="#555" stroke-width="0.8"/>
<line x1="361.10" y1="360.00" x2="365.10" y2="360.00" stroke="#555" stroke-width="0.8"/>
<rect x="381.20" y="399.24" width="4.00" height="0.76" fill="#a8a8a8"/>
<line x1="383.20" y1="397.72" x2="383.20" y2="399.24" stroke="#555" stroke-width="0.8"/>
<line x1="381.20" y1="397.72" x2="385.20" y2="397.72" stroke="#555" stroke-width="0.8"/>
<text x="384.60" y="395.50" font-size="5.4" text-anchor="middle" textLength="8.70" lengthAdjust="spacing" style="stroke-width:0.4px">***</text>
<text x="333.10" y="372.10" font-size="5.9" text-anchor="middle" fill="#222" textLength="57.00" lengthAdjust="spacingAndGlyphs" transform="rotate(-90 333.10 372.10)">Normalized values</text>
<text x="366.40" y="407.60" font-size="5.9" text-anchor="end" fill="#111" transform="rotate(-45 366.40 407.60)">sgCTL</text>
<text x="385.80" y="407.60" font-size="5.9" text-anchor="end" fill="#111" transform="rotate(-45 385.80 407.60)">sgCDK7</text>
<rect x="440.30" y="244.30" width="37.70" height="30.80" fill="#e2e2e2" stroke="#303030" stroke-width="1.2"/>
<rect x="444.60" y="253.80" width="11.00" height="3.20" rx="1.2" fill="#2a2a2a" filter="url(#bl2)"/>
<rect x="444.00" y="256.50" width="12.00" height="4.50" rx="1.2" fill="#8c8c8c" filter="url(#bl3)"/>
<rect x="442.40" y="260.50" width="16.40" height="6.80" rx="2.6" fill="#000" filter="url(#bl1)"/>
<text x="420.40" y="264.40" font-size="6.2" fill="#111" textLength="17.60" lengthAdjust="spacingAndGlyphs">STAT1</text>
<line x1="479.00" y1="255.50" x2="483.80" y2="255.50" stroke="#222" stroke-width="0.9"/>
<text x="487.60" y="257.70" font-size="6.8" fill="#111" textLength="24.20" lengthAdjust="spacingAndGlyphs">100 kDa</text>
<rect x="440.30" y="281.00" width="37.70" height="17.60" fill="#e2e2e2" stroke="#303030" stroke-width="1.2"/>
<rect x="441.00" y="289.10" width="36.30" height="2.50" rx="1.0" fill="#383838" filter="url(#bl2)"/>
<ellipse cx="458.30" cy="290.35" rx="1.4" ry="1.12" fill="#d8d8d8" opacity="0.18" filter="url(#bl2)"/>
<text x="420.40" y="291.80" font-size="6.2" fill="#111" textLength="18.40" lengthAdjust="spacingAndGlyphs">ACTIN</text>
<line x1="479.00" y1="293.00" x2="483.80" y2="293.00" stroke="#222" stroke-width="0.9"/>
<text x="487.20" y="295.40" font-size="6.8" fill="#111" textLength="21.00" lengthAdjust="spacingAndGlyphs">40 kDa</text>
<text x="453.80" y="303.40" font-size="6.0" text-anchor="end" fill="#111" transform="rotate(-45 453.80 303.40)">sgCTL</text>
<text x="470.40" y="304.60" font-size="6.0" text-anchor="end" fill="#111" transform="rotate(-45 470.40 304.60)">sgSTAT1</text>
<rect x="441.50" y="346.80" width="39.10" height="28.80" fill="#e2e2e2" stroke="#303030" stroke-width="1.2"/>
<rect x="444.00" y="356.60" width="14.40" height="4.80" rx="2.0" fill="#050505" filter="url(#bl2)"/>
<rect x="444.40" y="361.20" width="13.80" height="4.90" rx="2.0" fill="#050505" filter="url(#bl2)"/>
<rect x="463.90" y="357.60" width="13.70" height="2.40" rx="1.1" fill="#262626" filter="url(#bl2)"/>
<text x="422.00" y="365.60" font-size="6.2" fill="#111" textLength="16.00" lengthAdjust="spacingAndGlyphs">CDK7</text>
<line x1="481.60" y1="369.70" x2="485.80" y2="369.70" stroke="#222" stroke-width="0.9"/>
<text x="488.80" y="372.60" font-size="6.8" fill="#111" textLength="21.80" lengthAdjust="spacingAndGlyphs">35 kDa</text>
<rect x="441.50" y="381.40" width="39.10" height="18.70" fill="#e2e2e2" stroke="#303030" stroke-width="1.2"/>
<rect x="442.20" y="388.60" width="37.70" height="3.00" rx="1.0" fill="#1a1a1a" filter="url(#bl2)"/>
<ellipse cx="460.00" cy="390.10" rx="1.4" ry="1.35" fill="#d8d8d8" opacity="0.18" filter="url(#bl2)"/>
<text x="422.00" y="394.40" font-size="6.2" fill="#111" textLength="18.80" lengthAdjust="spacingAndGlyphs">ACTIN</text>
<line x1="481.60" y1="392.80" x2="485.80" y2="392.80" stroke="#222" stroke-width="0.9"/>
<text x="489.40" y="395.40" font-size="6.8" fill="#111" textLength="20.80" lengthAdjust="spacingAndGlyphs">40 kDa</text>
<text x="455.40" y="404.60" font-size="6.0" text-anchor="end" fill="#111" transform="rotate(-45 455.40 404.60)">sgCTL</text>
<text x="471.40" y="405.40" font-size="6.0" text-anchor="end" fill="#111" transform="rotate(-45 471.40 405.40)">sgCDK7</text>
<line x1="367.60" y1="445.20" x2="367.60" y2="526.80" stroke="#000" stroke-width="1.3"/>
<line x1="364.00" y1="526.20" x2="367.60" y2="526.20" stroke="#000" stroke-width="1.2"/>
<text x="363.00" y="528.70" font-size="6.5" text-anchor="end" fill="#111">0</text>
<line x1="364.00" y1="506.20" x2="367.60" y2="506.20" stroke="#000" stroke-width="1.2"/>
<text x="363.00" y="508.70" font-size="6.5" text-anchor="end" fill="#111">20</text>
<line x1="364.00" y1="486.20" x2="367.60" y2="486.20" stroke="#000" stroke-width="1.2"/>
<text x="363.00" y="488.70" font-size="6.5" text-anchor="end" fill="#111">40</text>
<line x1="364.00" y1="466.20" x2="367.60" y2="466.20" stroke="#000" stroke-width="1.2"/>
<text x="363.00" y="468.70" font-size="6.5" text-anchor="end" fill="#111">60</text>
<line x1="364.00" y1="446.20" x2="367.60" y2="446.20" stroke="#000" stroke-width="1.2"/>
<text x="363.00" y="448.70" font-size="6.5" text-anchor="end" fill="#111">80</text>
<text x="346.00" y="490.40" font-size="5.8" text-anchor="middle" fill="#111" textLength="48.00" lengthAdjust="spacingAndGlyphs" transform="rotate(-90 346.00 490.40)">Cytotoxicity (%)</text>
<line x1="379.00" y1="519.20" x2="379.00" y2="526.20" stroke="#2626b0" stroke-width="1.1"/>
<line x1="375.80" y1="519.20" x2="382.20" y2="519.20" stroke="#2626b0" stroke-width="1.1"/>
<rect x="373.60" y="524.60" width="10.80" height="1.60" fill="#2626b0"/>
<line x1="379.00" y1="526.20" x2="379.00" y2="529.60" stroke="#000" stroke-width="1.1"/>
<rect x="390.05" y="486.50" width="12.60" height="39.70" fill="#ff0a0a"/>
<line x1="396.35" y1="480.00" x2="396.35" y2="486.50" stroke="#c02424" stroke-width="1.1"/>
<line x1="393.15" y1="480.00" x2="399.55" y2="480.00" stroke="#c02424" stroke-width="1.1"/>
<line x1="396.35" y1="526.20" x2="396.35" y2="529.60" stroke="#000" stroke-width="1.1"/>
<rect x="407.40" y="476.40" width="12.60" height="49.80" fill="#1fbf1f"/>
<line x1="413.70" y1="471.20" x2="413.70" y2="476.40" stroke="#229222" stroke-width="1.1"/>
<line x1="410.50" y1="471.20" x2="416.90" y2="471.20" stroke="#229222" stroke-width="1.1"/>
<line x1="413.70" y1="526.20" x2="413.70" y2="529.60" stroke="#000" stroke-width="1.1"/>
<rect x="424.75" y="463.70" width="12.60" height="62.50" fill="#a214e8"/>
<line x1="431.05" y1="458.80" x2="431.05" y2="463.70" stroke="#7424b4" stroke-width="1.1"/>
<line x1="427.85" y1="458.80" x2="434.25" y2="458.80" stroke="#7424b4" stroke-width="1.1"/>
<line x1="431.05" y1="526.20" x2="431.05" y2="529.60" stroke="#000" stroke-width="1.1"/>
<rect x="442.10" y="463.10" width="12.60" height="63.10" fill="#ff8a0a"/>
<line x1="448.40" y1="458.50" x2="448.40" y2="463.10" stroke="#e88c3c" stroke-width="1.1"/>
<line x1="445.20" y1="458.50" x2="451.60" y2="458.50" stroke="#e88c3c" stroke-width="1.1"/>
<line x1="448.40" y1="526.20" x2="448.40" y2="529.60" stroke="#000" stroke-width="1.1"/>
<rect x="459.45" y="463.10" width="12.60" height="63.10" fill="#050505"/>
<line x1="465.75" y1="459.70" x2="465.75" y2="463.10" stroke="#1a1a1a" stroke-width="1.1"/>
<line x1="462.55" y1="459.70" x2="468.95" y2="459.70" stroke="#1a1a1a" stroke-width="1.1"/>
<line x1="465.75" y1="526.20" x2="465.75" y2="529.60" stroke="#000" stroke-width="1.1"/>
<line x1="367.00" y1="526.20" x2="476.40" y2="526.20" stroke="#000" stroke-width="1.3"/>
<line x1="390.20" y1="449.80" x2="429.40" y2="449.80" stroke="#222" stroke-width="0.9"/>
<text x="409.10" y="446.10" font-size="5.4" text-anchor="middle" textLength="6.20" lengthAdjust="spacing" style="stroke-width:0.4px">**</text>
<line x1="407.50" y1="457.40" x2="429.00" y2="457.40" stroke="#222" stroke-width="0.9"/>
<text x="416.50" y="455.90" font-size="5.4" text-anchor="middle" textLength="6.20" lengthAdjust="spacing" style="stroke-width:0.4px">**</text>
<line x1="427.20" y1="442.60" x2="448.70" y2="442.60" stroke="#222" stroke-width="0.9"/>
<text x="436.00" y="439.70" font-size="6.6" text-anchor="middle" textLength="7.20" lengthAdjust="spacingAndGlyphs" style="stroke-width:0.22px">ns</text>
<line x1="427.20" y1="434.80" x2="465.90" y2="434.80" stroke="#222" stroke-width="0.9"/>
<text x="446.00" y="432.40" font-size="6.6" text-anchor="middle" textLength="7.20" lengthAdjust="spacingAndGlyphs" style="stroke-width:0.22px">ns</text>
<text x="348.20" y="538.00" font-size="6.4" fill="#111" textLength="17.80" lengthAdjust="spacingAndGlyphs">CAR-T</text>
<text x="378.50" y="537.05" font-size="6.2" text-anchor="middle" fill="#111">–</text>
<text x="395.95" y="537.05" font-size="6.2" text-anchor="middle" fill="#111">–</text>
<text x="413.40" y="537.60" font-size="6.5" text-anchor="middle" fill="#111">+</text>
<text x="430.85" y="537.60" font-size="6.5" text-anchor="middle" fill="#111">+</text>
<text x="448.30" y="537.60" font-size="6.5" text-anchor="middle" fill="#111">+</text>
<text x="465.75" y="537.60" font-size="6.5" text-anchor="middle" fill="#111">+</text>
<text x="348.20" y="548.35" font-size="6.4" fill="#111" textLength="14.80" lengthAdjust="spacingAndGlyphs">THZ1</text>
<text x="378.50" y="547.40" font-size="6.2" text-anchor="middle" fill="#111">–</text>
<text x="395.95" y="547.95" font-size="6.5" text-anchor="middle" fill="#111">+</text>
<text x="413.40" y="547.40" font-size="6.2" text-anchor="middle" fill="#111">–</text>
<text x="430.85" y="547.95" font-size="6.5" text-anchor="middle" fill="#111">+</text>
<text x="448.30" y="547.95" font-size="6.5" text-anchor="middle" fill="#111">+</text>
<text x="465.75" y="547.95" font-size="6.5" text-anchor="middle" fill="#111">+</text>
<text x="348.20" y="558.70" font-size="6.4" fill="#111" textLength="16.60" lengthAdjust="spacingAndGlyphs">sgCTL</text>
<text x="378.50" y="558.30" font-size="6.5" text-anchor="middle" fill="#111">+</text>
<text x="395.95" y="558.30" font-size="6.5" text-anchor="middle" fill="#111">+</text>
<text x="413.40" y="558.30" font-size="6.5" text-anchor="middle" fill="#111">+</text>
<text x="430.85" y="558.30" font-size="6.5" text-anchor="middle" fill="#111">+</text>
<text x="448.30" y="557.75" font-size="6.2" text-anchor="middle" fill="#111">–</text>
<text x="465.75" y="557.75" font-size="6.2" text-anchor="middle" fill="#111">–</text>
<text x="348.20" y="569.05" font-size="6.4" fill="#111" textLength="24.50" lengthAdjust="spacingAndGlyphs">sgSTAT1</text>
<text x="378.50" y="568.10" font-size="6.2" text-anchor="middle" fill="#111">–</text>
<text x="395.95" y="568.10" font-size="6.2" text-anchor="middle" fill="#111">–</text>
<text x="413.40" y="568.10" font-size="6.2" text-anchor="middle" fill="#111">–</text>
<text x="430.85" y="568.10" font-size="6.2" text-anchor="middle" fill="#111">–</text>
<text x="448.30" y="568.65" font-size="6.5" text-anchor="middle" fill="#111">+</text>
<text x="465.75" y="568.10" font-size="6.2" text-anchor="middle" fill="#111">–</text>
<text x="348.20" y="579.40" font-size="6.4" fill="#111" textLength="22.10" lengthAdjust="spacingAndGlyphs">sgCDK7</text>
<text x="378.50" y="578.45" font-size="6.2" text-anchor="middle" fill="#111">–</text>
<text x="395.95" y="578.45" font-size="6.2" text-anchor="middle" fill="#111">–</text>
<text x="413.40" y="578.45" font-size="6.2" text-anchor="middle" fill="#111">–</text>
<text x="430.85" y="578.45" font-size="6.2" text-anchor="middle" fill="#111">–</text>
<text x="448.30" y="578.45" font-size="6.2" text-anchor="middle" fill="#111">–</text>
<text x="465.75" y="579.00" font-size="6.5" text-anchor="middle" fill="#111">+</text>
<line x1="24.30" y1="186.40" x2="24.30" y2="245.40" stroke="#9a9a9a" stroke-width="0.8"/>
<line x1="21.70" y1="245.40" x2="24.30" y2="245.40" stroke="#9a9a9a" stroke-width="0.8"/>
<text x="19.70" y="247.40" font-size="6.0" text-anchor="end" fill="#1c1c1c" style="stroke-width:0.3px">0</text>
<line x1="21.70" y1="230.65" x2="24.30" y2="230.65" stroke="#9a9a9a" stroke-width="0.8"/>
<text x="19.70" y="232.65" font-size="6.0" text-anchor="end" fill="#1c1c1c" style="stroke-width:0.3px">5</text>
<line x1="21.70" y1="215.90" x2="24.30" y2="215.90" stroke="#9a9a9a" stroke-width="0.8"/>
<text x="19.70" y="217.90" font-size="6.0" text-anchor="end" fill="#1c1c1c" style="stroke-width:0.3px">10</text>
<line x1="21.70" y1="201.15" x2="24.30" y2="201.15" stroke="#9a9a9a" stroke-width="0.8"/>
<text x="19.70" y="203.15" font-size="6.0" text-anchor="end" fill="#1c1c1c" style="stroke-width:0.3px">15</text>
<line x1="21.70" y1="186.40" x2="24.30" y2="186.40" stroke="#9a9a9a" stroke-width="0.8"/>
<text x="19.70" y="188.40" font-size="6.0" text-anchor="end" fill="#1c1c1c" style="stroke-width:0.3px">20</text>
<line x1="24.30" y1="245.40" x2="84.05" y2="245.40" stroke="#9a9a9a" stroke-width="0.8"/>
<line x1="24.42" y1="245.40" x2="24.42" y2="247.80" stroke="#9a9a9a" stroke-width="0.7"/>
<line x1="29.39" y1="245.40" x2="29.39" y2="247.80" stroke="#9a9a9a" stroke-width="0.7"/>
<line x1="34.36" y1="245.40" x2="34.36" y2="247.80" stroke="#9a9a9a" stroke-width="0.7"/>
<line x1="39.33" y1="245.40" x2="39.33" y2="247.80" stroke="#9a9a9a" stroke-width="0.7"/>
<line x1="44.30" y1="245.40" x2="44.30" y2="247.80" stroke="#9a9a9a" stroke-width="0.7"/>
<line x1="49.27" y1="245.40" x2="49.27" y2="247.80" stroke="#9a9a9a" stroke-width="0.7"/>
<line x1="54.23" y1="245.40" x2="54.23" y2="247.80" stroke="#9a9a9a" stroke-width="0.7"/>
<line x1="59.20" y1="245.40" x2="59.20" y2="247.80" stroke="#9a9a9a" stroke-width="0.7"/>
<line x1="64.17" y1="245.40" x2="64.17" y2="247.80" stroke="#9a9a9a" stroke-width="0.7"/>
<line x1="69.14" y1="245.40" x2="69.14" y2="247.80" stroke="#9a9a9a" stroke-width="0.7"/>
<line x1="74.11" y1="245.40" x2="74.11" y2="247.80" stroke="#9a9a9a" stroke-width="0.7"/>
<line x1="79.08" y1="245.40" x2="79.08" y2="247.80" stroke="#9a9a9a" stroke-width="0.7"/>
<line x1="84.06" y1="245.40" x2="84.06" y2="247.80" stroke="#9a9a9a" stroke-width="0.7"/>
<rect x="25.85" y="242.30" width="2.10" height="3.10" fill="#a4a4a4"/>
<line x1="24.90" y1="242.30" x2="28.90" y2="242.30" stroke="#3a3a3a" stroke-width="0.9"/>
<rect x="30.27" y="243.15" width="3.20" height="2.26" fill="#cfcfcf"/>
<line x1="31.87" y1="242.75" x2="31.87" y2="245.40" stroke="#a4a4a4" stroke-width="0.8"/>
<line x1="29.87" y1="242.75" x2="33.87" y2="242.75" stroke="#3a3a3a" stroke-width="0.9"/>
<rect x="35.79" y="203.22" width="2.10" height="42.19" fill="#a4a4a4"/>
<line x1="34.84" y1="203.22" x2="38.84" y2="203.22" stroke="#3a3a3a" stroke-width="0.9"/>
<rect x="40.76" y="226.22" width="2.10" height="19.18" fill="#a4a4a4"/>
<line x1="39.81" y1="226.22" x2="43.81" y2="226.22" stroke="#3a3a3a" stroke-width="0.9"/>
<rect x="45.18" y="243.44" width="3.20" height="1.96" fill="#cfcfcf"/>
<line x1="46.78" y1="243.04" x2="46.78" y2="245.40" stroke="#a4a4a4" stroke-width="0.8"/>
<line x1="44.78" y1="243.04" x2="48.78" y2="243.04" stroke="#3a3a3a" stroke-width="0.9"/>
<rect x="50.15" y="243.44" width="3.20" height="1.96" fill="#cfcfcf"/>
<line x1="51.75" y1="243.04" x2="51.75" y2="245.40" stroke="#a4a4a4" stroke-width="0.8"/>
<line x1="49.75" y1="243.04" x2="53.75" y2="243.04" stroke="#3a3a3a" stroke-width="0.9"/>
<rect x="55.67" y="236.55" width="2.10" height="8.85" fill="#a4a4a4"/>
<line x1="54.72" y1="236.55" x2="58.72" y2="236.55" stroke="#3a3a3a" stroke-width="0.9"/>
<rect x="60.64" y="236.55" width="2.10" height="8.85" fill="#a4a4a4"/>
<line x1="59.69" y1="236.55" x2="63.69" y2="236.55" stroke="#3a3a3a" stroke-width="0.9"/>
<rect x="65.06" y="243.44" width="3.20" height="1.96" fill="#cfcfcf"/>
<line x1="66.66" y1="243.04" x2="66.66" y2="245.40" stroke="#a4a4a4" stroke-width="0.8"/>
<line x1="64.66" y1="243.04" x2="68.66" y2="243.04" stroke="#3a3a3a" stroke-width="0.9"/>
<rect x="70.03" y="243.44" width="3.20" height="1.96" fill="#cfcfcf"/>
<line x1="71.63" y1="243.04" x2="71.63" y2="245.40" stroke="#a4a4a4" stroke-width="0.8"/>
<line x1="69.63" y1="243.04" x2="73.63" y2="243.04" stroke="#3a3a3a" stroke-width="0.9"/>
<rect x="75.55" y="233.01" width="2.10" height="12.39" fill="#a4a4a4"/>
<line x1="74.60" y1="233.01" x2="78.60" y2="233.01" stroke="#3a3a3a" stroke-width="0.9"/>
<rect x="80.52" y="233.01" width="2.10" height="12.39" fill="#a4a4a4"/>
<line x1="79.57" y1="233.01" x2="83.57" y2="233.01" stroke="#3a3a3a" stroke-width="0.9"/>
<polyline points="36.84,201.62 36.84,188.80 76.70,188.80 76.70,225.00" fill="none" stroke="#8a8a8a" stroke-width="0.8"/>
<polyline points="37.44,193.50 56.80,193.50 56.80,227.90" fill="none" stroke="#8a8a8a" stroke-width="0.8"/>
<polyline points="37.44,198.60 41.81,198.60 41.81,225.22" fill="none" stroke="#8a8a8a" stroke-width="0.8"/>
<text x="46.21" y="199.80" font-size="5.4" text-anchor="middle" textLength="9.00" lengthAdjust="spacing" style="stroke-width:0.4px">***</text>
<text x="46.21" y="194.60" font-size="5.4" text-anchor="middle" textLength="9.00" lengthAdjust="spacing" style="stroke-width:0.4px">***</text>
<text x="58.21" y="189.20" font-size="5.4" text-anchor="middle" textLength="9.00" lengthAdjust="spacing" style="stroke-width:0.4px">***</text>
<text x="60.50" y="232.30" font-size="6.5" text-anchor="middle" fill="#1a1a1a" textLength="7.00" lengthAdjust="spacingAndGlyphs" style="stroke-width:0.24px">ns</text>
<line x1="54.92" y1="234.20" x2="63.49" y2="234.20" stroke="#555" stroke-width="0.7"/>
<text x="80.20" y="229.40" font-size="6.5" text-anchor="middle" fill="#1a1a1a" textLength="7.00" lengthAdjust="spacingAndGlyphs" style="stroke-width:0.24px">ns</text>
<line x1="74.80" y1="230.40" x2="83.37" y2="230.40" stroke="#555" stroke-width="0.7"/>
<text x="59.15" y="167.50" font-size="6.3" text-anchor="middle" fill="#1a1a1a">PD-L1</text>
<text x="27.20" y="176.70" font-size="6.6" fill="#111" textLength="15.96" lengthAdjust="spacingAndGlyphs" style="stroke-width:0.3px">sgCTL</text>
<line x1="27.14" y1="179.30" x2="44.26" y2="179.30" stroke="#111" stroke-width="1.25"/>
<text x="44.31" y="176.70" font-size="6.6" fill="#111" textLength="24.19" lengthAdjust="spacingAndGlyphs" style="stroke-width:0.3px">sgSTAT1</text>
<line x1="48.34" y1="179.30" x2="65.63" y2="179.30" stroke="#111" stroke-width="1.25"/>
<text x="70.01" y="176.70" font-size="6.6" fill="#111" textLength="17.49" lengthAdjust="spacingAndGlyphs" style="stroke-width:0.3px">sgCDK7</text>
<line x1="68.92" y1="179.30" x2="86.28" y2="179.30" stroke="#111" stroke-width="1.25"/>
<text x="6.70" y="215.10" font-size="6.2" text-anchor="middle" fill="#1a1a1a" textLength="57.60" lengthAdjust="spacingAndGlyphs" transform="rotate(-90 6.70 215.10)">Normalized values</text>
<text x="0.80" y="254.60" font-size="6.6" fill="#1a1a1a" textLength="18.10" lengthAdjust="spacingAndGlyphs">CAR-T</text>
<text x="28.50" y="253.25" font-size="4.8" text-anchor="middle" fill="#1a1a1a" style="stroke-width:0.5px">–</text>
<text x="32.97" y="253.25" font-size="4.8" text-anchor="middle" fill="#1a1a1a" style="stroke-width:0.5px">–</text>
<text x="37.44" y="254.05" font-size="6.5" text-anchor="middle" fill="#1a1a1a">+</text>
<text x="41.91" y="254.05" font-size="6.5" text-anchor="middle" fill="#1a1a1a">+</text>
<text x="47.90" y="253.25" font-size="4.8" text-anchor="middle" fill="#1a1a1a" style="stroke-width:0.5px">–</text>
<text x="52.37" y="253.25" font-size="4.8" text-anchor="middle" fill="#1a1a1a" style="stroke-width:0.5px">–</text>
<text x="56.84" y="254.05" font-size="6.5" text-anchor="middle" fill="#1a1a1a">+</text>
<text x="61.31" y="254.05" font-size="6.5" text-anchor="middle" fill="#1a1a1a">+</text>
<text x="67.90" y="253.25" font-size="4.8" text-anchor="middle" fill="#1a1a1a" style="stroke-width:0.5px">–</text>
<text x="72.37" y="253.25" font-size="4.8" text-anchor="middle" fill="#1a1a1a" style="stroke-width:0.5px">–</text>
<text x="76.84" y="254.05" font-size="6.5" text-anchor="middle" fill="#1a1a1a">+</text>
<text x="81.31" y="254.05" font-size="6.5" text-anchor="middle" fill="#1a1a1a">+</text>
<text x="0.80" y="264.80" font-size="6.6" fill="#1a1a1a" textLength="15.00" lengthAdjust="spacingAndGlyphs">THZ1</text>
<text x="28.50" y="263.45" font-size="4.8" text-anchor="middle" fill="#1a1a1a" style="stroke-width:0.5px">–</text>
<text x="32.97" y="264.25" font-size="6.5" text-anchor="middle" fill="#1a1a1a">+</text>
<text x="37.44" y="263.45" font-size="4.8" text-anchor="middle" fill="#1a1a1a" style="stroke-width:0.5px">–</text>
<text x="41.91" y="264.25" font-size="6.5" text-anchor="middle" fill="#1a1a1a">+</text>
<text x="47.90" y="263.45" font-size="4.8" text-anchor="middle" fill="#1a1a1a" style="stroke-width:0.5px">–</text>
<text x="52.37" y="264.25" font-size="6.5" text-anchor="middle" fill="#1a1a1a">+</text>
<text x="56.84" y="263.45" font-size="4.8" text-anchor="middle" fill="#1a1a1a" style="stroke-width:0.5px">–</text>
<text x="61.31" y="264.25" font-size="6.5" text-anchor="middle" fill="#1a1a1a">+</text>
<text x="67.90" y="263.45" font-size="4.8" text-anchor="middle" fill="#1a1a1a" style="stroke-width:0.5px">–</text>
<text x="72.37" y="264.25" font-size="6.5" text-anchor="middle" fill="#1a1a1a">+</text>
<text x="76.84" y="263.45" font-size="4.8" text-anchor="middle" fill="#1a1a1a" style="stroke-width:0.5px">–</text>
<text x="81.31" y="264.25" font-size="6.5" text-anchor="middle" fill="#1a1a1a">+</text>
<text x="0.80" y="275.00" font-size="6.6" fill="#1a1a1a" textLength="16.10" lengthAdjust="spacingAndGlyphs">sgCTL</text>
<text x="28.50" y="274.45" font-size="6.5" text-anchor="middle" fill="#1a1a1a">+</text>
<text x="32.97" y="274.45" font-size="6.5" text-anchor="middle" fill="#1a1a1a">+</text>
<text x="37.44" y="274.45" font-size="6.5" text-anchor="middle" fill="#1a1a1a">+</text>
<text x="41.91" y="274.45" font-size="6.5" text-anchor="middle" fill="#1a1a1a">+</text>
<text x="47.90" y="273.65" font-size="4.8" text-anchor="middle" fill="#1a1a1a" style="stroke-width:0.5px">–</text>
<text x="52.37" y="273.65" font-size="4.8" text-anchor="middle" fill="#1a1a1a" style="stroke-width:0.5px">–</text>
<text x="56.84" y="273.65" font-size="4.8" text-anchor="middle" fill="#1a1a1a" style="stroke-width:0.5px">–</text>
<text x="61.31" y="273.65" font-size="4.8" text-anchor="middle" fill="#1a1a1a" style="stroke-width:0.5px">–</text>
<text x="67.90" y="273.65" font-size="4.8" text-anchor="middle" fill="#1a1a1a" style="stroke-width:0.5px">–</text>
<text x="72.37" y="273.65" font-size="4.8" text-anchor="middle" fill="#1a1a1a" style="stroke-width:0.5px">–</text>
<text x="76.84" y="273.65" font-size="4.8" text-anchor="middle" fill="#1a1a1a" style="stroke-width:0.5px">–</text>
<text x="81.31" y="273.65" font-size="4.8" text-anchor="middle" fill="#1a1a1a" style="stroke-width:0.5px">–</text>
<text x="0.80" y="284.60" font-size="6.6" fill="#1a1a1a" textLength="24.20" lengthAdjust="spacingAndGlyphs">sgSTAT1</text>
<text x="28.50" y="283.25" font-size="4.8" text-anchor="middle" fill="#1a1a1a" style="stroke-width:0.5px">–</text>
<text x="32.97" y="283.25" font-size="4.8" text-anchor="middle" fill="#1a1a1a" style="stroke-width:0.5px">–</text>
<text x="37.44" y="283.25" font-size="4.8" text-anchor="middle" fill="#1a1a1a" style="stroke-width:0.5px">–</text>
<text x="41.91" y="283.25" font-size="4.8" text-anchor="middle" fill="#1a1a1a" style="stroke-width:0.5px">–</text>
<text x="47.90" y="284.05" font-size="6.5" text-anchor="middle" fill="#1a1a1a">+</text>
<text x="52.37" y="284.05" font-size="6.5" text-anchor="middle" fill="#1a1a1a">+</text>
<text x="56.84" y="284.05" font-size="6.5" text-anchor="middle" fill="#1a1a1a">+</text>
<text x="61.31" y="284.05" font-size="6.5" text-anchor="middle" fill="#1a1a1a">+</text>
<text x="67.90" y="283.25" font-size="4.8" text-anchor="middle" fill="#1a1a1a" style="stroke-width:0.5px">–</text>
<text x="72.37" y="283.25" font-size="4.8" text-anchor="middle" fill="#1a1a1a" style="stroke-width:0.5px">–</text>
<text x="76.84" y="283.25" font-size="4.8" text-anchor="middle" fill="#1a1a1a" style="stroke-width:0.5px">–</text>
<text x="81.31" y="283.25" font-size="4.8" text-anchor="middle" fill="#1a1a1a" style="stroke-width:0.5px">–</text>
<text x="0.80" y="294.60" font-size="6.6" fill="#1a1a1a" textLength="21.70" lengthAdjust="spacingAndGlyphs">sgCDK7</text>
<text x="28.50" y="293.25" font-size="4.8" text-anchor="middle" fill="#1a1a1a" style="stroke-width:0.5px">–</text>
<text x="32.97" y="293.25" font-size="4.8" text-anchor="middle" fill="#1a1a1a" style="stroke-width:0.5px">–</text>
<text x="37.44" y="293.25" font-size="4.8" text-anchor="middle" fill="#1a1a1a" style="stroke-width:0.5px">–</text>
<text x="41.91" y="293.25" font-size="4.8" text-anchor="middle" fill="#1a1a1a" style="stroke-width:0.5px">–</text>
<text x="47.90" y="293.25" font-size="4.8" text-anchor="middle" fill="#1a1a1a" style="stroke-width:0.5px">–</text>
<text x="52.37" y="293.25" font-size="4.8" text-anchor="middle" fill="#1a1a1a" style="stroke-width:0.5px">–</text>
<text x="56.84" y="293.25" font-size="4.8" text-anchor="middle" fill="#1a1a1a" style="stroke-width:0.5px">–</text>
<text x="61.31" y="293.25" font-size="4.8" text-anchor="middle" fill="#1a1a1a" style="stroke-width:0.5px">–</text>
<text x="67.90" y="294.05" font-size="6.5" text-anchor="middle" fill="#1a1a1a">+</text>
<text x="72.37" y="294.05" font-size="6.5" text-anchor="middle" fill="#1a1a1a">+</text>
<text x="76.84" y="294.05" font-size="6.5" text-anchor="middle" fill="#1a1a1a">+</text>
<text x="81.31" y="294.05" font-size="6.5" text-anchor="middle" fill="#1a1a1a">+</text>
<line x1="124.30" y1="187.70" x2="124.30" y2="245.60" stroke="#9a9a9a" stroke-width="0.8"/>
<line x1="121.70" y1="245.60" x2="124.30" y2="245.60" stroke="#9a9a9a" stroke-width="0.8"/>
<text x="119.70" y="247.60" font-size="6.0" text-anchor="end" fill="#1c1c1c" style="stroke-width:0.3px">0</text>
<line x1="121.70" y1="226.30" x2="124.30" y2="226.30" stroke="#9a9a9a" stroke-width="0.8"/>
<text x="119.70" y="228.30" font-size="6.0" text-anchor="end" fill="#1c1c1c" style="stroke-width:0.3px">20</text>
<line x1="121.70" y1="207.00" x2="124.30" y2="207.00" stroke="#9a9a9a" stroke-width="0.8"/>
<text x="119.70" y="209.00" font-size="6.0" text-anchor="end" fill="#1c1c1c" style="stroke-width:0.3px">40</text>
<line x1="121.70" y1="187.70" x2="124.30" y2="187.70" stroke="#9a9a9a" stroke-width="0.8"/>
<text x="119.70" y="189.70" font-size="6.0" text-anchor="end" fill="#1c1c1c" style="stroke-width:0.3px">60</text>
<line x1="124.30" y1="245.60" x2="184.36" y2="245.60" stroke="#9a9a9a" stroke-width="0.8"/>
<line x1="124.36" y1="245.60" x2="124.36" y2="248.00" stroke="#9a9a9a" stroke-width="0.7"/>
<line x1="129.36" y1="245.60" x2="129.36" y2="248.00" stroke="#9a9a9a" stroke-width="0.7"/>
<line x1="134.36" y1="245.60" x2="134.36" y2="248.00" stroke="#9a9a9a" stroke-width="0.7"/>
<line x1="139.36" y1="245.60" x2="139.36" y2="248.00" stroke="#9a9a9a" stroke-width="0.7"/>
<line x1="144.36" y1="245.60" x2="144.36" y2="248.00" stroke="#9a9a9a" stroke-width="0.7"/>
<line x1="149.36" y1="245.60" x2="149.36" y2="248.00" stroke="#9a9a9a" stroke-width="0.7"/>
<line x1="154.36" y1="245.60" x2="154.36" y2="248.00" stroke="#9a9a9a" stroke-width="0.7"/>
<line x1="159.36" y1="245.60" x2="159.36" y2="248.00" stroke="#9a9a9a" stroke-width="0.7"/>
<line x1="164.36" y1="245.60" x2="164.36" y2="248.00" stroke="#9a9a9a" stroke-width="0.7"/>
<line x1="169.36" y1="245.60" x2="169.36" y2="248.00" stroke="#9a9a9a" stroke-width="0.7"/>
<line x1="174.36" y1="245.60" x2="174.36" y2="248.00" stroke="#9a9a9a" stroke-width="0.7"/>
<line x1="179.36" y1="245.60" x2="179.36" y2="248.00" stroke="#9a9a9a" stroke-width="0.7"/>
<line x1="184.36" y1="245.60" x2="184.36" y2="248.00" stroke="#9a9a9a" stroke-width="0.7"/>
<rect x="125.26" y="244.55" width="3.20" height="1.05" fill="#cfcfcf"/>
<line x1="126.86" y1="244.15" x2="126.86" y2="245.60" stroke="#a4a4a4" stroke-width="0.8"/>
<line x1="124.86" y1="244.15" x2="128.86" y2="244.15" stroke="#3a3a3a" stroke-width="0.9"/>
<rect x="130.26" y="245.03" width="3.20" height="0.57" fill="#cfcfcf"/>
<line x1="131.86" y1="244.63" x2="131.86" y2="245.60" stroke="#a4a4a4" stroke-width="0.8"/>
<line x1="129.86" y1="244.63" x2="133.86" y2="244.63" stroke="#3a3a3a" stroke-width="0.9"/>
<rect x="135.81" y="204.10" width="2.10" height="41.50" fill="#a4a4a4"/>
<line x1="134.86" y1="204.10" x2="138.86" y2="204.10" stroke="#3a3a3a" stroke-width="0.9"/>
<rect x="140.81" y="231.12" width="2.10" height="14.47" fill="#a4a4a4"/>
<line x1="139.86" y1="231.12" x2="143.86" y2="231.12" stroke="#3a3a3a" stroke-width="0.9"/>
<rect x="145.26" y="245.03" width="3.20" height="0.57" fill="#cfcfcf"/>
<line x1="146.86" y1="244.63" x2="146.86" y2="245.60" stroke="#a4a4a4" stroke-width="0.8"/>
<line x1="144.86" y1="244.63" x2="148.86" y2="244.63" stroke="#3a3a3a" stroke-width="0.9"/>
<rect x="150.26" y="245.03" width="3.20" height="0.57" fill="#cfcfcf"/>
<line x1="151.86" y1="244.63" x2="151.86" y2="245.60" stroke="#a4a4a4" stroke-width="0.8"/>
<line x1="149.86" y1="244.63" x2="153.86" y2="244.63" stroke="#3a3a3a" stroke-width="0.9"/>
<rect x="155.81" y="236.72" width="2.10" height="8.88" fill="#a4a4a4"/>
<line x1="154.86" y1="236.72" x2="158.86" y2="236.72" stroke="#3a3a3a" stroke-width="0.9"/>
<rect x="160.81" y="236.91" width="2.10" height="8.69" fill="#a4a4a4"/>
<line x1="159.86" y1="236.91" x2="163.86" y2="236.91" stroke="#3a3a3a" stroke-width="0.9"/>
<rect x="165.26" y="245.03" width="3.20" height="0.57" fill="#cfcfcf"/>
<line x1="166.86" y1="244.63" x2="166.86" y2="245.60" stroke="#a4a4a4" stroke-width="0.8"/>
<line x1="164.86" y1="244.63" x2="168.86" y2="244.63" stroke="#3a3a3a" stroke-width="0.9"/>
<rect x="170.26" y="245.03" width="3.20" height="0.57" fill="#cfcfcf"/>
<line x1="171.86" y1="244.63" x2="171.86" y2="245.60" stroke="#a4a4a4" stroke-width="0.8"/>
<line x1="169.86" y1="244.63" x2="173.86" y2="244.63" stroke="#3a3a3a" stroke-width="0.9"/>
<rect x="175.81" y="236.43" width="2.10" height="9.17" fill="#a4a4a4"/>
<line x1="174.86" y1="236.43" x2="178.86" y2="236.43" stroke="#3a3a3a" stroke-width="0.9"/>
<rect x="180.81" y="238.36" width="2.10" height="7.24" fill="#a4a4a4"/>
<line x1="179.86" y1="238.36" x2="183.86" y2="238.36" stroke="#3a3a3a" stroke-width="0.9"/>
<polyline points="136.86,202.50 136.86,189.40 176.80,189.40 176.80,228.80" fill="none" stroke="#8a8a8a" stroke-width="0.8"/>
<polyline points="137.46,194.10 156.80,194.10 156.80,228.80" fill="none" stroke="#8a8a8a" stroke-width="0.8"/>
<polyline points="137.46,199.50 141.86,199.50 141.86,230.12" fill="none" stroke="#8a8a8a" stroke-width="0.8"/>
<text x="146.46" y="199.90" font-size="5.4" text-anchor="middle" textLength="9.00" lengthAdjust="spacing" style="stroke-width:0.4px">***</text>
<text x="146.46" y="195.50" font-size="5.4" text-anchor="middle" textLength="9.00" lengthAdjust="spacing" style="stroke-width:0.4px">***</text>
<text x="159.86" y="191.00" font-size="5.4" text-anchor="middle" textLength="9.00" lengthAdjust="spacing" style="stroke-width:0.4px">***</text>
<text x="160.50" y="233.20" font-size="6.5" text-anchor="middle" fill="#1a1a1a" textLength="7.00" lengthAdjust="spacingAndGlyphs" style="stroke-width:0.24px">ns</text>
<line x1="155.06" y1="234.50" x2="163.66" y2="234.50" stroke="#555" stroke-width="0.7"/>
<text x="180.30" y="233.20" font-size="6.5" text-anchor="middle" fill="#1a1a1a" textLength="7.00" lengthAdjust="spacingAndGlyphs" style="stroke-width:0.24px">ns</text>
<line x1="175.06" y1="234.50" x2="183.66" y2="234.50" stroke="#555" stroke-width="0.7"/>
<text x="156.60" y="169.40" font-size="6.3" text-anchor="middle" fill="#1a1a1a">PD-L2</text>
<text x="126.20" y="177.20" font-size="6.6" fill="#111" textLength="16.05" lengthAdjust="spacingAndGlyphs" style="stroke-width:0.3px">sgCTL</text>
<line x1="126.14" y1="179.70" x2="143.34" y2="179.70" stroke="#111" stroke-width="1.25"/>
<text x="143.40" y="177.20" font-size="6.6" fill="#111" textLength="24.31" lengthAdjust="spacingAndGlyphs" style="stroke-width:0.3px">sgSTAT1</text>
<line x1="147.44" y1="179.70" x2="164.82" y2="179.70" stroke="#111" stroke-width="1.25"/>
<text x="169.22" y="177.20" font-size="6.6" fill="#111" textLength="17.58" lengthAdjust="spacingAndGlyphs" style="stroke-width:0.3px">sgCDK7</text>
<line x1="168.13" y1="179.70" x2="185.57" y2="179.70" stroke="#111" stroke-width="1.25"/>
<text x="107.00" y="216.40" font-size="6.2" text-anchor="middle" fill="#1a1a1a" textLength="57.60" lengthAdjust="spacingAndGlyphs" transform="rotate(-90 107.00 216.40)">Normalized values</text>
<text x="100.80" y="255.20" font-size="6.6" fill="#1a1a1a" textLength="18.10" lengthAdjust="spacingAndGlyphs">CAR-T</text>
<text x="128.90" y="253.85" font-size="4.8" text-anchor="middle" fill="#1a1a1a" style="stroke-width:0.5px">–</text>
<text x="133.40" y="253.85" font-size="4.8" text-anchor="middle" fill="#1a1a1a" style="stroke-width:0.5px">–</text>
<text x="137.90" y="254.65" font-size="6.5" text-anchor="middle" fill="#1a1a1a">+</text>
<text x="142.40" y="254.65" font-size="6.5" text-anchor="middle" fill="#1a1a1a">+</text>
<text x="148.50" y="253.85" font-size="4.8" text-anchor="middle" fill="#1a1a1a" style="stroke-width:0.5px">–</text>
<text x="153.00" y="253.85" font-size="4.8" text-anchor="middle" fill="#1a1a1a" style="stroke-width:0.5px">–</text>
<text x="157.50" y="254.65" font-size="6.5" text-anchor="middle" fill="#1a1a1a">+</text>
<text x="162.00" y="254.65" font-size="6.5" text-anchor="middle" fill="#1a1a1a">+</text>
<text x="169.30" y="253.85" font-size="4.8" text-anchor="middle" fill="#1a1a1a" style="stroke-width:0.5px">–</text>
<text x="173.80" y="253.85" font-size="4.8" text-anchor="middle" fill="#1a1a1a" style="stroke-width:0.5px">–</text>
<text x="178.30" y="254.65" font-size="6.5" text-anchor="middle" fill="#1a1a1a">+</text>
<text x="182.80" y="254.65" font-size="6.5" text-anchor="middle" fill="#1a1a1a">+</text>
<text x="100.80" y="264.90" font-size="6.6" fill="#1a1a1a" textLength="15.00" lengthAdjust="spacingAndGlyphs">THZ1</text>
<text x="128.90" y="263.55" font-size="4.8" text-anchor="middle" fill="#1a1a1a" style="stroke-width:0.5px">–</text>
<text x="133.40" y="264.35" font-size="6.5" text-anchor="middle" fill="#1a1a1a">+</text>
<text x="137.90" y="263.55" font-size="4.8" text-anchor="middle" fill="#1a1a1a" style="stroke-width:0.5px">–</text>
<text x="142.40" y="264.35" font-size="6.5" text-anchor="middle" fill="#1a1a1a">+</text>
<text x="148.50" y="263.55" font-size="4.8" text-anchor="middle" fill="#1a1a1a" style="stroke-width:0.5px">–</text>
<text x="153.00" y="264.35" font-size="6.5" text-anchor="middle" fill="#1a1a1a">+</text>
<text x="157.50" y="263.55" font-size="4.8" text-anchor="middle" fill="#1a1a1a" style="stroke-width:0.5px">–</text>
<text x="162.00" y="264.35" font-size="6.5" text-anchor="middle" fill="#1a1a1a">+</text>
<text x="169.30" y="263.55" font-size="4.8" text-anchor="middle" fill="#1a1a1a" style="stroke-width:0.5px">–</text>
<text x="173.80" y="264.35" font-size="6.5" text-anchor="middle" fill="#1a1a1a">+</text>
<text x="178.30" y="263.55" font-size="4.8" text-anchor="middle" fill="#1a1a1a" style="stroke-width:0.5px">–</text>
<text x="182.80" y="264.35" font-size="6.5" text-anchor="middle" fill="#1a1a1a">+</text>
<text x="100.80" y="275.00" font-size="6.6" fill="#1a1a1a" textLength="16.10" lengthAdjust="spacingAndGlyphs">sgCTL</text>
<text x="128.90" y="274.45" font-size="6.5" text-anchor="middle" fill="#1a1a1a">+</text>
<text x="133.40" y="274.45" font-size="6.5" text-anchor="middle" fill="#1a1a1a">+</text>
<text x="137.90" y="274.45" font-size="6.5" text-anchor="middle" fill="#1a1a1a">+</text>
<text x="142.40" y="274.45" font-size="6.5" text-anchor="middle" fill="#1a1a1a">+</text>
<text x="148.50" y="273.65" font-size="4.8" text-anchor="middle" fill="#1a1a1a" style="stroke-width:0.5px">–</text>
<text x="153.00" y="273.65" font-size="4.8" text-anchor="middle" fill="#1a1a1a" style="stroke-width:0.5px">–</text>
<text x="157.50" y="273.65" font-size="4.8" text-anchor="middle" fill="#1a1a1a" style="stroke-width:0.5px">–</text>
<text x="162.00" y="273.65" font-size="4.8" text-anchor="middle" fill="#1a1a1a" style="stroke-width:0.5px">–</text>
<text x="169.30" y="273.65" font-size="4.8" text-anchor="middle" fill="#1a1a1a" style="stroke-width:0.5px">–</text>
<text x="173.80" y="273.65" font-size="4.8" text-anchor="middle" fill="#1a1a1a" style="stroke-width:0.5px">–</text>
<text x="178.30" y="273.65" font-size="4.8" text-anchor="middle" fill="#1a1a1a" style="stroke-width:0.5px">–</text>
<text x="182.80" y="273.65" font-size="4.8" text-anchor="middle" fill="#1a1a1a" style="stroke-width:0.5px">–</text>
<text x="100.80" y="285.10" font-size="6.6" fill="#1a1a1a" textLength="24.20" lengthAdjust="spacingAndGlyphs">sgSTAT1</text>
<text x="128.90" y="283.75" font-size="4.8" text-anchor="middle" fill="#1a1a1a" style="stroke-width:0.5px">–</text>
<text x="133.40" y="283.75" font-size="4.8" text-anchor="middle" fill="#1a1a1a" style="stroke-width:0.5px">–</text>
<text x="137.90" y="283.75" font-size="4.8" text-anchor="middle" fill="#1a1a1a" style="stroke-width:0.5px">–</text>
<text x="142.40" y="283.75" font-size="4.8" text-anchor="middle" fill="#1a1a1a" style="stroke-width:0.5px">–</text>
<text x="148.50" y="284.55" font-size="6.5" text-anchor="middle" fill="#1a1a1a">+</text>
<text x="153.00" y="284.55" font-size="6.5" text-anchor="middle" fill="#1a1a1a">+</text>
<text x="157.50" y="284.55" font-size="6.5" text-anchor="middle" fill="#1a1a1a">+</text>
<text x="162.00" y="284.55" font-size="6.5" text-anchor="middle" fill="#1a1a1a">+</text>
<text x="169.30" y="283.75" font-size="4.8" text-anchor="middle" fill="#1a1a1a" style="stroke-width:0.5px">–</text>
<text x="173.80" y="283.75" font-size="4.8" text-anchor="middle" fill="#1a1a1a" style="stroke-width:0.5px">–</text>
<text x="178.30" y="283.75" font-size="4.8" text-anchor="middle" fill="#1a1a1a" style="stroke-width:0.5px">–</text>
<text x="182.80" y="283.75" font-size="4.8" text-anchor="middle" fill="#1a1a1a" style="stroke-width:0.5px">–</text>
<text x="100.80" y="295.60" font-size="6.6" fill="#1a1a1a" textLength="21.70" lengthAdjust="spacingAndGlyphs">sgCDK7</text>
<text x="128.90" y="294.25" font-size="4.8" text-anchor="middle" fill="#1a1a1a" style="stroke-width:0.5px">–</text>
<text x="133.40" y="294.25" font-size="4.8" text-anchor="middle" fill="#1a1a1a" style="stroke-width:0.5px">–</text>
<text x="137.90" y="294.25" font-size="4.8" text-anchor="middle" fill="#1a1a1a" style="stroke-width:0.5px">–</text>
<text x="142.40" y="294.25" font-size="4.8" text-anchor="middle" fill="#1a1a1a" style="stroke-width:0.5px">–</text>
<text x="148.50" y="294.25" font-size="4.8" text-anchor="middle" fill="#1a1a1a" style="stroke-width:0.5px">–</text>
<text x="153.00" y="294.25" font-size="4.8" text-anchor="middle" fill="#1a1a1a" style="stroke-width:0.5px">–</text>
<text x="157.50" y="294.25" font-size="4.8" text-anchor="middle" fill="#1a1a1a" style="stroke-width:0.5px">–</text>
<text x="162.00" y="294.25" font-size="4.8" text-anchor="middle" fill="#1a1a1a" style="stroke-width:0.5px">–</text>
<text x="169.30" y="295.05" font-size="6.5" text-anchor="middle" fill="#1a1a1a">+</text>
<text x="173.80" y="295.05" font-size="6.5" text-anchor="middle" fill="#1a1a1a">+</text>
<text x="178.30" y="295.05" font-size="6.5" text-anchor="middle" fill="#1a1a1a">+</text>
<text x="182.80" y="295.05" font-size="6.5" text-anchor="middle" fill="#1a1a1a">+</text>
<line x1="223.80" y1="187.00" x2="223.80" y2="245.60" stroke="#9a9a9a" stroke-width="0.8"/>
<line x1="221.20" y1="245.60" x2="223.80" y2="245.60" stroke="#9a9a9a" stroke-width="0.8"/>
<text x="219.20" y="247.60" font-size="6.0" text-anchor="end" fill="#1c1c1c" style="stroke-width:0.3px">0</text>
<line x1="221.20" y1="216.30" x2="223.80" y2="216.30" stroke="#9a9a9a" stroke-width="0.8"/>
<text x="219.20" y="218.30" font-size="6.0" text-anchor="end" fill="#1c1c1c" style="stroke-width:0.3px">25</text>
<line x1="221.20" y1="187.00" x2="223.80" y2="187.00" stroke="#9a9a9a" stroke-width="0.8"/>
<text x="219.20" y="189.00" font-size="6.0" text-anchor="end" fill="#1c1c1c" style="stroke-width:0.3px">50</text>
<line x1="223.80" y1="245.60" x2="286.68" y2="245.60" stroke="#9a9a9a" stroke-width="0.8"/>
<line x1="223.68" y1="245.60" x2="223.68" y2="248.00" stroke="#9a9a9a" stroke-width="0.7"/>
<line x1="228.93" y1="245.60" x2="228.93" y2="248.00" stroke="#9a9a9a" stroke-width="0.7"/>
<line x1="234.18" y1="245.60" x2="234.18" y2="248.00" stroke="#9a9a9a" stroke-width="0.7"/>
<line x1="239.43" y1="245.60" x2="239.43" y2="248.00" stroke="#9a9a9a" stroke-width="0.7"/>
<line x1="244.68" y1="245.60" x2="244.68" y2="248.00" stroke="#9a9a9a" stroke-width="0.7"/>
<line x1="249.93" y1="245.60" x2="249.93" y2="248.00" stroke="#9a9a9a" stroke-width="0.7"/>
<line x1="255.18" y1="245.60" x2="255.18" y2="248.00" stroke="#9a9a9a" stroke-width="0.7"/>
<line x1="260.43" y1="245.60" x2="260.43" y2="248.00" stroke="#9a9a9a" stroke-width="0.7"/>
<line x1="265.68" y1="245.60" x2="265.68" y2="248.00" stroke="#9a9a9a" stroke-width="0.7"/>
<line x1="270.93" y1="245.60" x2="270.93" y2="248.00" stroke="#9a9a9a" stroke-width="0.7"/>
<line x1="276.18" y1="245.60" x2="276.18" y2="248.00" stroke="#9a9a9a" stroke-width="0.7"/>
<line x1="281.43" y1="245.60" x2="281.43" y2="248.00" stroke="#9a9a9a" stroke-width="0.7"/>
<line x1="286.68" y1="245.60" x2="286.68" y2="248.00" stroke="#9a9a9a" stroke-width="0.7"/>
<rect x="224.70" y="244.83" width="3.20" height="0.77" fill="#cfcfcf"/>
<line x1="226.30" y1="244.43" x2="226.30" y2="245.60" stroke="#a4a4a4" stroke-width="0.8"/>
<line x1="224.30" y1="244.43" x2="228.30" y2="244.43" stroke="#3a3a3a" stroke-width="0.9"/>
<rect x="229.95" y="245.06" width="3.20" height="0.54" fill="#cfcfcf"/>
<line x1="231.55" y1="244.66" x2="231.55" y2="245.60" stroke="#a4a4a4" stroke-width="0.8"/>
<line x1="229.55" y1="244.66" x2="233.55" y2="244.66" stroke="#3a3a3a" stroke-width="0.9"/>
<rect x="235.75" y="199.31" width="2.10" height="46.29" fill="#a4a4a4"/>
<line x1="234.80" y1="199.31" x2="238.80" y2="199.31" stroke="#3a3a3a" stroke-width="0.9"/>
<rect x="241.00" y="223.33" width="2.10" height="22.27" fill="#a4a4a4"/>
<line x1="240.05" y1="223.33" x2="244.05" y2="223.33" stroke="#3a3a3a" stroke-width="0.9"/>
<rect x="245.70" y="245.30" width="3.20" height="0.30" fill="#cfcfcf"/>
<line x1="247.30" y1="244.90" x2="247.30" y2="245.60" stroke="#a4a4a4" stroke-width="0.8"/>
<line x1="245.30" y1="244.90" x2="249.30" y2="244.90" stroke="#3a3a3a" stroke-width="0.9"/>
<rect x="250.95" y="245.30" width="3.20" height="0.30" fill="#cfcfcf"/>
<line x1="252.55" y1="244.90" x2="252.55" y2="245.60" stroke="#a4a4a4" stroke-width="0.8"/>
<line x1="250.55" y1="244.90" x2="254.55" y2="244.90" stroke="#3a3a3a" stroke-width="0.9"/>
<rect x="256.75" y="230.83" width="2.10" height="14.77" fill="#a4a4a4"/>
<line x1="255.80" y1="230.83" x2="259.80" y2="230.83" stroke="#3a3a3a" stroke-width="0.9"/>
<rect x="262.00" y="232.00" width="2.10" height="13.60" fill="#a4a4a4"/>
<line x1="261.05" y1="232.00" x2="265.05" y2="232.00" stroke="#3a3a3a" stroke-width="0.9"/>
<rect x="266.70" y="245.30" width="3.20" height="0.30" fill="#cfcfcf"/>
<line x1="268.30" y1="244.90" x2="268.30" y2="245.60" stroke="#a4a4a4" stroke-width="0.8"/>
<line x1="266.30" y1="244.90" x2="270.30" y2="244.90" stroke="#3a3a3a" stroke-width="0.9"/>
<rect x="271.95" y="245.30" width="3.20" height="0.30" fill="#cfcfcf"/>
<line x1="273.55" y1="244.90" x2="273.55" y2="245.60" stroke="#a4a4a4" stroke-width="0.8"/>
<line x1="271.55" y1="244.90" x2="275.55" y2="244.90" stroke="#3a3a3a" stroke-width="0.9"/>
<rect x="277.75" y="230.60" width="2.10" height="15.00" fill="#a4a4a4"/>
<line x1="276.80" y1="230.60" x2="280.80" y2="230.60" stroke="#3a3a3a" stroke-width="0.9"/>
<rect x="283.00" y="230.83" width="2.10" height="14.77" fill="#a4a4a4"/>
<line x1="282.05" y1="230.83" x2="286.05" y2="230.83" stroke="#3a3a3a" stroke-width="0.9"/>
<polyline points="236.80,197.71 236.80,187.70 275.60,187.70 275.60,223.80" fill="none" stroke="#8a8a8a" stroke-width="0.8"/>
<polyline points="237.40,192.30 255.80,192.30 255.80,223.80" fill="none" stroke="#8a8a8a" stroke-width="0.8"/>
<polyline points="237.40,196.20 242.05,196.20 242.05,222.33" fill="none" stroke="#8a8a8a" stroke-width="0.8"/>
<text x="246.25" y="197.70" font-size="5.4" text-anchor="middle" textLength="9.00" lengthAdjust="spacing" style="stroke-width:0.4px">***</text>
<text x="246.25" y="193.60" font-size="5.4" text-anchor="middle" textLength="9.00" lengthAdjust="spacing" style="stroke-width:0.4px">***</text>
<text x="259.90" y="189.00" font-size="5.4" text-anchor="middle" textLength="9.00" lengthAdjust="spacing" style="stroke-width:0.4px">***</text>
<text x="259.50" y="228.20" font-size="6.5" text-anchor="middle" fill="#1a1a1a" textLength="7.00" lengthAdjust="spacingAndGlyphs" style="stroke-width:0.24px">ns</text>
<line x1="256.00" y1="229.50" x2="264.85" y2="229.50" stroke="#555" stroke-width="0.7"/>
<text x="279.10" y="228.20" font-size="6.5" text-anchor="middle" fill="#1a1a1a" textLength="7.00" lengthAdjust="spacingAndGlyphs" style="stroke-width:0.24px">ns</text>
<line x1="277.00" y1="229.50" x2="285.85" y2="229.50" stroke="#555" stroke-width="0.7"/>
<text x="256.00" y="165.70" font-size="6.3" text-anchor="middle" fill="#1a1a1a">IL6</text>
<text x="225.10" y="176.00" font-size="6.6" fill="#111" textLength="17.11" lengthAdjust="spacingAndGlyphs" style="stroke-width:0.3px">sgCTL</text>
<line x1="225.06" y1="179.00" x2="243.35" y2="179.00" stroke="#111" stroke-width="1.25"/>
<text x="243.39" y="176.00" font-size="6.6" fill="#111" textLength="25.90" lengthAdjust="spacingAndGlyphs" style="stroke-width:0.3px">sgSTAT1</text>
<line x1="247.72" y1="179.00" x2="266.20" y2="179.00" stroke="#111" stroke-width="1.25"/>
<text x="270.87" y="176.00" font-size="6.6" fill="#111" textLength="18.73" lengthAdjust="spacingAndGlyphs" style="stroke-width:0.3px">sgCDK7</text>
<line x1="269.72" y1="179.00" x2="288.27" y2="179.00" stroke="#111" stroke-width="1.25"/>
<text x="206.60" y="218.20" font-size="6.2" text-anchor="middle" fill="#1a1a1a" textLength="57.60" lengthAdjust="spacingAndGlyphs" transform="rotate(-90 206.60 218.20)">Normalized values</text>
<text x="203.30" y="255.20" font-size="6.6" fill="#1a1a1a" textLength="18.10" lengthAdjust="spacingAndGlyphs">CAR-T</text>
<text x="231.60" y="253.85" font-size="4.8" text-anchor="middle" fill="#1a1a1a" style="stroke-width:0.5px">–</text>
<text x="236.00" y="253.85" font-size="4.8" text-anchor="middle" fill="#1a1a1a" style="stroke-width:0.5px">–</text>
<text x="240.40" y="254.65" font-size="6.5" text-anchor="middle" fill="#1a1a1a">+</text>
<text x="244.80" y="254.65" font-size="6.5" text-anchor="middle" fill="#1a1a1a">+</text>
<text x="251.10" y="253.85" font-size="4.8" text-anchor="middle" fill="#1a1a1a" style="stroke-width:0.5px">–</text>
<text x="255.50" y="253.85" font-size="4.8" text-anchor="middle" fill="#1a1a1a" style="stroke-width:0.5px">–</text>
<text x="259.90" y="254.65" font-size="6.5" text-anchor="middle" fill="#1a1a1a">+</text>
<text x="264.30" y="254.65" font-size="6.5" text-anchor="middle" fill="#1a1a1a">+</text>
<text x="271.90" y="253.85" font-size="4.8" text-anchor="middle" fill="#1a1a1a" style="stroke-width:0.5px">–</text>
<text x="276.30" y="253.85" font-size="4.8" text-anchor="middle" fill="#1a1a1a" style="stroke-width:0.5px">–</text>
<text x="280.70" y="254.65" font-size="6.5" text-anchor="middle" fill="#1a1a1a">+</text>
<text x="285.10" y="254.65" font-size="6.5" text-anchor="middle" fill="#1a1a1a">+</text>
<text x="203.30" y="264.90" font-size="6.6" fill="#1a1a1a" textLength="15.00" lengthAdjust="spacingAndGlyphs">THZ1</text>
<text x="231.60" y="263.55" font-size="4.8" text-anchor="middle" fill="#1a1a1a" style="stroke-width:0.5px">–</text>
<text x="236.00" y="264.35" font-size="6.5" text-anchor="middle" fill="#1a1a1a">+</text>
<text x="240.40" y="263.55" font-size="4.8" text-anchor="middle" fill="#1a1a1a" style="stroke-width:0.5px">–</text>
<text x="244.80" y="264.35" font-size="6.5" text-anchor="middle" fill="#1a1a1a">+</text>
<text x="251.10" y="263.55" font-size="4.8" text-anchor="middle" fill="#1a1a1a" style="stroke-width:0.5px">–</text>
<text x="255.50" y="264.35" font-size="6.5" text-anchor="middle" fill="#1a1a1a">+</text>
<text x="259.90" y="263.55" font-size="4.8" text-anchor="middle" fill="#1a1a1a" style="stroke-width:0.5px">–</text>
<text x="264.30" y="264.35" font-size="6.5" text-anchor="middle" fill="#1a1a1a">+</text>
<text x="271.90" y="263.55" font-size="4.8" text-anchor="middle" fill="#1a1a1a" style="stroke-width:0.5px">–</text>
<text x="276.30" y="264.35" font-size="6.5" text-anchor="middle" fill="#1a1a1a">+</text>
<text x="280.70" y="263.55" font-size="4.8" text-anchor="middle" fill="#1a1a1a" style="stroke-width:0.5px">–</text>
<text x="285.10" y="264.35" font-size="6.5" text-anchor="middle" fill="#1a1a1a">+</text>
<text x="203.30" y="275.00" font-size="6.6" fill="#1a1a1a" textLength="16.10" lengthAdjust="spacingAndGlyphs">sgCTL</text>
<text x="231.60" y="274.45" font-size="6.5" text-anchor="middle" fill="#1a1a1a">+</text>
<text x="236.00" y="274.45" font-size="6.5" text-anchor="middle" fill="#1a1a1a">+</text>
<text x="240.40" y="274.45" font-size="6.5" text-anchor="middle" fill="#1a1a1a">+</text>
<text x="244.80" y="274.45" font-size="6.5" text-anchor="middle" fill="#1a1a1a">+</text>
<text x="251.10" y="273.65" font-size="4.8" text-anchor="middle" fill="#1a1a1a" style="stroke-width:0.5px">–</text>
<text x="255.50" y="273.65" font-size="4.8" text-anchor="middle" fill="#1a1a1a" style="stroke-width:0.5px">–</text>
<text x="259.90" y="273.65" font-size="4.8" text-anchor="middle" fill="#1a1a1a" style="stroke-width:0.5px">–</text>
<text x="264.30" y="273.65" font-size="4.8" text-anchor="middle" fill="#1a1a1a" style="stroke-width:0.5px">–</text>
<text x="271.90" y="273.65" font-size="4.8" text-anchor="middle" fill="#1a1a1a" style="stroke-width:0.5px">–</text>
<text x="276.30" y="273.65" font-size="4.8" text-anchor="middle" fill="#1a1a1a" style="stroke-width:0.5px">–</text>
<text x="280.70" y="273.65" font-size="4.8" text-anchor="middle" fill="#1a1a1a" style="stroke-width:0.5px">–</text>
<text x="285.10" y="273.65" font-size="4.8" text-anchor="middle" fill="#1a1a1a" style="stroke-width:0.5px">–</text>
<text x="203.30" y="285.10" font-size="6.6" fill="#1a1a1a" textLength="24.20" lengthAdjust="spacingAndGlyphs">sgSTAT1</text>
<text x="231.60" y="283.75" font-size="4.8" text-anchor="middle" fill="#1a1a1a" style="stroke-width:0.5px">–</text>
<text x="236.00" y="283.75" font-size="4.8" text-anchor="middle" fill="#1a1a1a" style="stroke-width:0.5px">–</text>
<text x="240.40" y="283.75" font-size="4.8" text-anchor="middle" fill="#1a1a1a" style="stroke-width:0.5px">–</text>
<text x="244.80" y="283.75" font-size="4.8" text-anchor="middle" fill="#1a1a1a" style="stroke-width:0.5px">–</text>
<text x="251.10" y="284.55" font-size="6.5" text-anchor="middle" fill="#1a1a1a">+</text>
<text x="255.50" y="284.55" font-size="6.5" text-anchor="middle" fill="#1a1a1a">+</text>
<text x="259.90" y="284.55" font-size="6.5" text-anchor="middle" fill="#1a1a1a">+</text>
<text x="264.30" y="284.55" font-size="6.5" text-anchor="middle" fill="#1a1a1a">+</text>
<text x="271.90" y="283.75" font-size="4.8" text-anchor="middle" fill="#1a1a1a" style="stroke-width:0.5px">–</text>
<text x="276.30" y="283.75" font-size="4.8" text-anchor="middle" fill="#1a1a1a" style="stroke-width:0.5px">–</text>
<text x="280.70" y="283.75" font-size="4.8" text-anchor="middle" fill="#1a1a1a" style="stroke-width:0.5px">–</text>
<text x="285.10" y="283.75" font-size="4.8" text-anchor="middle" fill="#1a1a1a" style="stroke-width:0.5px">–</text>
<text x="203.30" y="295.60" font-size="6.6" fill="#1a1a1a" textLength="21.70" lengthAdjust="spacingAndGlyphs">sgCDK7</text>
<text x="231.60" y="294.25" font-size="4.8" text-anchor="middle" fill="#1a1a1a" style="stroke-width:0.5px">–</text>
<text x="236.00" y="294.25" font-size="4.8" text-anchor="middle" fill="#1a1a1a" style="stroke-width:0.5px">–</text>
<text x="240.40" y="294.25" font-size="4.8" text-anchor="middle" fill="#1a1a1a" style="stroke-width:0.5px">–</text>
<text x="244.80" y="294.25" font-size="4.8" text-anchor="middle" fill="#1a1a1a" style="stroke-width:0.5px">–</text>
<text x="251.10" y="294.25" font-size="4.8" text-anchor="middle" fill="#1a1a1a" style="stroke-width:0.5px">–</text>
<text x="255.50" y="294.25" font-size="4.8" text-anchor="middle" fill="#1a1a1a" style="stroke-width:0.5px">–</text>
<text x="259.90" y="294.25" font-size="4.8" text-anchor="middle" fill="#1a1a1a" style="stroke-width:0.5px">–</text>
<text x="264.30" y="294.25" font-size="4.8" text-anchor="middle" fill="#1a1a1a" style="stroke-width:0.5px">–</text>
<text x="271.90" y="295.05" font-size="6.5" text-anchor="middle" fill="#1a1a1a">+</text>
<text x="276.30" y="295.05" font-size="6.5" text-anchor="middle" fill="#1a1a1a">+</text>
<text x="280.70" y="295.05" font-size="6.5" text-anchor="middle" fill="#1a1a1a">+</text>
<text x="285.10" y="295.05" font-size="6.5" text-anchor="middle" fill="#1a1a1a">+</text>
<line x1="25.00" y1="328.50" x2="25.00" y2="387.10" stroke="#9a9a9a" stroke-width="0.8"/>
<line x1="22.40" y1="387.10" x2="25.00" y2="387.10" stroke="#9a9a9a" stroke-width="0.8"/>
<text x="20.40" y="389.10" font-size="6.0" text-anchor="end" fill="#1c1c1c" style="stroke-width:0.3px">0</text>
<line x1="22.40" y1="372.45" x2="25.00" y2="372.45" stroke="#9a9a9a" stroke-width="0.8"/>
<text x="20.40" y="374.45" font-size="6.0" text-anchor="end" fill="#1c1c1c" style="stroke-width:0.3px">5</text>
<line x1="22.40" y1="357.80" x2="25.00" y2="357.80" stroke="#9a9a9a" stroke-width="0.8"/>
<text x="20.40" y="359.80" font-size="6.0" text-anchor="end" fill="#1c1c1c" style="stroke-width:0.3px">10</text>
<line x1="22.40" y1="343.15" x2="25.00" y2="343.15" stroke="#9a9a9a" stroke-width="0.8"/>
<text x="20.40" y="345.15" font-size="6.0" text-anchor="end" fill="#1c1c1c" style="stroke-width:0.3px">15</text>
<line x1="22.40" y1="328.50" x2="25.00" y2="328.50" stroke="#9a9a9a" stroke-width="0.8"/>
<text x="20.40" y="330.50" font-size="6.0" text-anchor="end" fill="#1c1c1c" style="stroke-width:0.3px">20</text>
<line x1="25.00" y1="387.10" x2="85.38" y2="387.10" stroke="#9a9a9a" stroke-width="0.8"/>
<line x1="24.90" y1="387.10" x2="24.90" y2="389.50" stroke="#9a9a9a" stroke-width="0.7"/>
<line x1="29.94" y1="387.10" x2="29.94" y2="389.50" stroke="#9a9a9a" stroke-width="0.7"/>
<line x1="34.98" y1="387.10" x2="34.98" y2="389.50" stroke="#9a9a9a" stroke-width="0.7"/>
<line x1="40.02" y1="387.10" x2="40.02" y2="389.50" stroke="#9a9a9a" stroke-width="0.7"/>
<line x1="45.06" y1="387.10" x2="45.06" y2="389.50" stroke="#9a9a9a" stroke-width="0.7"/>
<line x1="50.10" y1="387.10" x2="50.10" y2="389.50" stroke="#9a9a9a" stroke-width="0.7"/>
<line x1="55.14" y1="387.10" x2="55.14" y2="389.50" stroke="#9a9a9a" stroke-width="0.7"/>
<line x1="60.18" y1="387.10" x2="60.18" y2="389.50" stroke="#9a9a9a" stroke-width="0.7"/>
<line x1="65.22" y1="387.10" x2="65.22" y2="389.50" stroke="#9a9a9a" stroke-width="0.7"/>
<line x1="70.26" y1="387.10" x2="70.26" y2="389.50" stroke="#9a9a9a" stroke-width="0.7"/>
<line x1="75.30" y1="387.10" x2="75.30" y2="389.50" stroke="#9a9a9a" stroke-width="0.7"/>
<line x1="80.34" y1="387.10" x2="80.34" y2="389.50" stroke="#9a9a9a" stroke-width="0.7"/>
<line x1="85.38" y1="387.10" x2="85.38" y2="389.50" stroke="#9a9a9a" stroke-width="0.7"/>
<rect x="25.82" y="384.57" width="3.20" height="2.53" fill="#cfcfcf"/>
<line x1="27.42" y1="384.17" x2="27.42" y2="387.10" stroke="#a4a4a4" stroke-width="0.8"/>
<line x1="25.42" y1="384.17" x2="29.42" y2="384.17" stroke="#3a3a3a" stroke-width="0.9"/>
<rect x="30.86" y="385.45" width="3.20" height="1.65" fill="#cfcfcf"/>
<line x1="32.46" y1="385.05" x2="32.46" y2="387.10" stroke="#a4a4a4" stroke-width="0.8"/>
<line x1="30.46" y1="385.05" x2="34.46" y2="385.05" stroke="#3a3a3a" stroke-width="0.9"/>
<rect x="36.45" y="343.74" width="2.10" height="43.36" fill="#a4a4a4"/>
<line x1="35.50" y1="343.74" x2="39.50" y2="343.74" stroke="#3a3a3a" stroke-width="0.9"/>
<rect x="41.49" y="363.66" width="2.10" height="23.44" fill="#a4a4a4"/>
<line x1="40.54" y1="363.66" x2="44.54" y2="363.66" stroke="#3a3a3a" stroke-width="0.9"/>
<rect x="46.53" y="381.24" width="2.10" height="5.86" fill="#a4a4a4"/>
<line x1="45.58" y1="381.24" x2="49.58" y2="381.24" stroke="#3a3a3a" stroke-width="0.9"/>
<rect x="51.57" y="383.58" width="2.10" height="3.52" fill="#a4a4a4"/>
<line x1="50.62" y1="383.58" x2="54.62" y2="383.58" stroke="#3a3a3a" stroke-width="0.9"/>
<rect x="56.61" y="373.04" width="2.10" height="14.06" fill="#a4a4a4"/>
<line x1="55.66" y1="373.04" x2="59.66" y2="373.04" stroke="#3a3a3a" stroke-width="0.9"/>
<rect x="61.65" y="375.67" width="2.10" height="11.43" fill="#a4a4a4"/>
<line x1="60.70" y1="375.67" x2="64.70" y2="375.67" stroke="#3a3a3a" stroke-width="0.9"/>
<rect x="66.14" y="384.57" width="3.20" height="2.53" fill="#cfcfcf"/>
<line x1="67.74" y1="384.17" x2="67.74" y2="387.10" stroke="#a4a4a4" stroke-width="0.8"/>
<line x1="65.74" y1="384.17" x2="69.74" y2="384.17" stroke="#3a3a3a" stroke-width="0.9"/>
<rect x="71.73" y="383.58" width="2.10" height="3.52" fill="#a4a4a4"/>
<line x1="70.78" y1="383.58" x2="74.78" y2="383.58" stroke="#3a3a3a" stroke-width="0.9"/>
<rect x="76.77" y="371.28" width="2.10" height="15.82" fill="#a4a4a4"/>
<line x1="75.82" y1="371.28" x2="79.82" y2="371.28" stroke="#3a3a3a" stroke-width="0.9"/>
<rect x="81.81" y="371.28" width="2.10" height="15.82" fill="#a4a4a4"/>
<line x1="80.86" y1="371.28" x2="84.86" y2="371.28" stroke="#3a3a3a" stroke-width="0.9"/>
<polyline points="37.50,342.14 37.50,329.20 77.80,329.20 77.80,363.80" fill="none" stroke="#8a8a8a" stroke-width="0.8"/>
<polyline points="38.10,333.20 58.30,333.20 58.30,365.20" fill="none" stroke="#8a8a8a" stroke-width="0.8"/>
<polyline points="38.10,339.50 42.54,339.50 42.54,362.66" fill="none" stroke="#8a8a8a" stroke-width="0.8"/>
<text x="47.34" y="339.50" font-size="5.4" text-anchor="middle" textLength="9.00" lengthAdjust="spacing" style="stroke-width:0.4px">***</text>
<text x="47.34" y="334.50" font-size="5.4" text-anchor="middle" textLength="9.00" lengthAdjust="spacing" style="stroke-width:0.4px">***</text>
<text x="60.18" y="329.40" font-size="5.4" text-anchor="middle" textLength="9.00" lengthAdjust="spacing" style="stroke-width:0.4px">***</text>
<text x="62.00" y="369.60" font-size="6.5" text-anchor="middle" fill="#1a1a1a" textLength="7.00" lengthAdjust="spacingAndGlyphs" style="stroke-width:0.24px">ns</text>
<line x1="55.86" y1="371.10" x2="64.50" y2="371.10" stroke="#555" stroke-width="0.7"/>
<text x="81.30" y="368.20" font-size="6.5" text-anchor="middle" fill="#1a1a1a" textLength="7.00" lengthAdjust="spacingAndGlyphs" style="stroke-width:0.24px">ns</text>
<line x1="76.02" y1="369.50" x2="84.66" y2="369.50" stroke="#555" stroke-width="0.7"/>
<text x="55.60" y="308.00" font-size="6.3" text-anchor="middle" fill="#1a1a1a">IL8</text>
<text x="27.10" y="317.20" font-size="6.6" fill="#111" textLength="16.92" lengthAdjust="spacingAndGlyphs" style="stroke-width:0.3px">sgCTL</text>
<line x1="27.06" y1="319.40" x2="45.15" y2="319.40" stroke="#111" stroke-width="1.25"/>
<text x="45.20" y="317.20" font-size="6.6" fill="#111" textLength="25.61" lengthAdjust="spacingAndGlyphs" style="stroke-width:0.3px">sgSTAT1</text>
<line x1="49.47" y1="319.40" x2="67.76" y2="319.40" stroke="#111" stroke-width="1.25"/>
<text x="72.37" y="317.20" font-size="6.6" fill="#111" textLength="18.53" lengthAdjust="spacingAndGlyphs" style="stroke-width:0.3px">sgCDK7</text>
<line x1="71.24" y1="319.40" x2="89.59" y2="319.40" stroke="#111" stroke-width="1.25"/>
<text x="7.00" y="356.00" font-size="6.2" text-anchor="middle" fill="#1a1a1a" textLength="57.60" lengthAdjust="spacingAndGlyphs" transform="rotate(-90 7.00 356.00)">Normalized values</text>
<text x="2.10" y="397.70" font-size="6.6" fill="#1a1a1a" textLength="18.10" lengthAdjust="spacingAndGlyphs">CAR-T</text>
<text x="30.40" y="396.35" font-size="4.8" text-anchor="middle" fill="#1a1a1a" style="stroke-width:0.5px">–</text>
<text x="34.90" y="396.35" font-size="4.8" text-anchor="middle" fill="#1a1a1a" style="stroke-width:0.5px">–</text>
<text x="39.40" y="397.15" font-size="6.5" text-anchor="middle" fill="#1a1a1a">+</text>
<text x="43.90" y="397.15" font-size="6.5" text-anchor="middle" fill="#1a1a1a">+</text>
<text x="49.60" y="396.35" font-size="4.8" text-anchor="middle" fill="#1a1a1a" style="stroke-width:0.5px">–</text>
<text x="54.10" y="396.35" font-size="4.8" text-anchor="middle" fill="#1a1a1a" style="stroke-width:0.5px">–</text>
<text x="58.60" y="397.15" font-size="6.5" text-anchor="middle" fill="#1a1a1a">+</text>
<text x="63.10" y="397.15" font-size="6.5" text-anchor="middle" fill="#1a1a1a">+</text>
<text x="69.80" y="396.35" font-size="4.8" text-anchor="middle" fill="#1a1a1a" style="stroke-width:0.5px">–</text>
<text x="74.30" y="396.35" font-size="4.8" text-anchor="middle" fill="#1a1a1a" style="stroke-width:0.5px">–</text>
<text x="78.80" y="397.15" font-size="6.5" text-anchor="middle" fill="#1a1a1a">+</text>
<text x="83.30" y="397.15" font-size="6.5" text-anchor="middle" fill="#1a1a1a">+</text>
<text x="2.10" y="407.70" font-size="6.6" fill="#1a1a1a" textLength="15.00" lengthAdjust="spacingAndGlyphs">THZ1</text>
<text x="30.40" y="406.35" font-size="4.8" text-anchor="middle" fill="#1a1a1a" style="stroke-width:0.5px">–</text>
<text x="34.90" y="407.15" font-size="6.5" text-anchor="middle" fill="#1a1a1a">+</text>
<text x="39.40" y="406.35" font-size="4.8" text-anchor="middle" fill="#1a1a1a" style="stroke-width:0.5px">–</text>
<text x="43.90" y="407.15" font-size="6.5" text-anchor="middle" fill="#1a1a1a">+</text>
<text x="49.60" y="406.35" font-size="4.8" text-anchor="middle" fill="#1a1a1a" style="stroke-width:0.5px">–</text>
<text x="54.10" y="407.15" font-size="6.5" text-anchor="middle" fill="#1a1a1a">+</text>
<text x="58.60" y="406.35" font-size="4.8" text-anchor="middle" fill="#1a1a1a" style="stroke-width:0.5px">–</text>
<text x="63.10" y="407.15" font-size="6.5" text-anchor="middle" fill="#1a1a1a">+</text>
<text x="69.80" y="406.35" font-size="4.8" text-anchor="middle" fill="#1a1a1a" style="stroke-width:0.5px">–</text>
<text x="74.30" y="407.15" font-size="6.5" text-anchor="middle" fill="#1a1a1a">+</text>
<text x="78.80" y="406.35" font-size="4.8" text-anchor="middle" fill="#1a1a1a" style="stroke-width:0.5px">–</text>
<text x="83.30" y="407.15" font-size="6.5" text-anchor="middle" fill="#1a1a1a">+</text>
<text x="2.10" y="417.90" font-size="6.6" fill="#1a1a1a" textLength="16.10" lengthAdjust="spacingAndGlyphs">sgCTL</text>
<text x="30.40" y="417.35" font-size="6.5" text-anchor="middle" fill="#1a1a1a">+</text>
<text x="34.90" y="417.35" font-size="6.5" text-anchor="middle" fill="#1a1a1a">+</text>
<text x="39.40" y="417.35" font-size="6.5" text-anchor="middle" fill="#1a1a1a">+</text>
<text x="43.90" y="417.35" font-size="6.5" text-anchor="middle" fill="#1a1a1a">+</text>
<text x="49.60" y="416.55" font-size="4.8" text-anchor="middle" fill="#1a1a1a" style="stroke-width:0.5px">–</text>
<text x="54.10" y="416.55" font-size="4.8" text-anchor="middle" fill="#1a1a1a" style="stroke-width:0.5px">–</text>
<text x="58.60" y="416.55" font-size="4.8" text-anchor="middle" fill="#1a1a1a" style="stroke-width:0.5px">–</text>
<text x="63.10" y="416.55" font-size="4.8" text-anchor="middle" fill="#1a1a1a" style="stroke-width:0.5px">–</text>
<text x="69.80" y="416.55" font-size="4.8" text-anchor="middle" fill="#1a1a1a" style="stroke-width:0.5px">–</text>
<text x="74.30" y="416.55" font-size="4.8" text-anchor="middle" fill="#1a1a1a" style="stroke-width:0.5px">–</text>
<text x="78.80" y="416.55" font-size="4.8" text-anchor="middle" fill="#1a1a1a" style="stroke-width:0.5px">–</text>
<text x="83.30" y="416.55" font-size="4.8" text-anchor="middle" fill="#1a1a1a" style="stroke-width:0.5px">–</text>
<text x="2.10" y="428.30" font-size="6.6" fill="#1a1a1a" textLength="24.20" lengthAdjust="spacingAndGlyphs">sgSTAT1</text>
<text x="30.40" y="426.95" font-size="4.8" text-anchor="middle" fill="#1a1a1a" style="stroke-width:0.5px">–</text>
<text x="34.90" y="426.95" font-size="4.8" text-anchor="middle" fill="#1a1a1a" style="stroke-width:0.5px">–</text>
<text x="39.40" y="426.95" font-size="4.8" text-anchor="middle" fill="#1a1a1a" style="stroke-width:0.5px">–</text>
<text x="43.90" y="426.95" font-size="4.8" text-anchor="middle" fill="#1a1a1a" style="stroke-width:0.5px">–</text>
<text x="49.60" y="427.75" font-size="6.5" text-anchor="middle" fill="#1a1a1a">+</text>
<text x="54.10" y="427.75" font-size="6.5" text-anchor="middle" fill="#1a1a1a">+</text>
<text x="58.60" y="427.75" font-size="6.5" text-anchor="middle" fill="#1a1a1a">+</text>
<text x="63.10" y="427.75" font-size="6.5" text-anchor="middle" fill="#1a1a1a">+</text>
<text x="69.80" y="426.95" font-size="4.8" text-anchor="middle" fill="#1a1a1a" style="stroke-width:0.5px">–</text>
<text x="74.30" y="426.95" font-size="4.8" text-anchor="middle" fill="#1a1a1a" style="stroke-width:0.5px">–</text>
<text x="78.80" y="426.95" font-size="4.8" text-anchor="middle" fill="#1a1a1a" style="stroke-width:0.5px">–</text>
<text x="83.30" y="426.95" font-size="4.8" text-anchor="middle" fill="#1a1a1a" style="stroke-width:0.5px">–</text>
<text x="2.10" y="438.10" font-size="6.6" fill="#1a1a1a" textLength="21.70" lengthAdjust="spacingAndGlyphs">sgCDK7</text>
<text x="30.40" y="436.75" font-size="4.8" text-anchor="middle" fill="#1a1a1a" style="stroke-width:0.5px">–</text>
<text x="34.90" y="436.75" font-size="4.8" text-anchor="middle" fill="#1a1a1a" style="stroke-width:0.5px">–</text>
<text x="39.40" y="436.75" font-size="4.8" text-anchor="middle" fill="#1a1a1a" style="stroke-width:0.5px">–</text>
<text x="43.90" y="436.75" font-size="4.8" text-anchor="middle" fill="#1a1a1a" style="stroke-width:0.5px">–</text>
<text x="49.60" y="436.75" font-size="4.8" text-anchor="middle" fill="#1a1a1a" style="stroke-width:0.5px">–</text>
<text x="54.10" y="436.75" font-size="4.8" text-anchor="middle" fill="#1a1a1a" style="stroke-width:0.5px">–</text>
<text x="58.60" y="436.75" font-size="4.8" text-anchor="middle" fill="#1a1a1a" style="stroke-width:0.5px">–</text>
<text x="63.10" y="436.75" font-size="4.8" text-anchor="middle" fill="#1a1a1a" style="stroke-width:0.5px">–</text>
<text x="69.80" y="437.55" font-size="6.5" text-anchor="middle" fill="#1a1a1a">+</text>
<text x="74.30" y="437.55" font-size="6.5" text-anchor="middle" fill="#1a1a1a">+</text>
<text x="78.80" y="437.55" font-size="6.5" text-anchor="middle" fill="#1a1a1a">+</text>
<text x="83.30" y="437.55" font-size="6.5" text-anchor="middle" fill="#1a1a1a">+</text>
<line x1="122.80" y1="328.00" x2="122.80" y2="386.30" stroke="#9a9a9a" stroke-width="0.8"/>
<line x1="120.20" y1="386.30" x2="122.80" y2="386.30" stroke="#9a9a9a" stroke-width="0.8"/>
<text x="118.20" y="388.30" font-size="6.0" text-anchor="end" fill="#1c1c1c" style="stroke-width:0.3px">0</text>
<line x1="120.20" y1="357.15" x2="122.80" y2="357.15" stroke="#9a9a9a" stroke-width="0.8"/>
<text x="118.20" y="359.15" font-size="6.0" text-anchor="end" fill="#1c1c1c" style="stroke-width:0.3px">5</text>
<line x1="120.20" y1="328.00" x2="122.80" y2="328.00" stroke="#9a9a9a" stroke-width="0.8"/>
<text x="118.20" y="330.00" font-size="6.0" text-anchor="end" fill="#1c1c1c" style="stroke-width:0.3px">10</text>
<line x1="122.80" y1="386.30" x2="183.54" y2="386.30" stroke="#9a9a9a" stroke-width="0.8"/>
<line x1="122.04" y1="386.30" x2="122.04" y2="388.70" stroke="#9a9a9a" stroke-width="0.7"/>
<line x1="127.16" y1="386.30" x2="127.16" y2="388.70" stroke="#9a9a9a" stroke-width="0.7"/>
<line x1="132.29" y1="386.30" x2="132.29" y2="388.70" stroke="#9a9a9a" stroke-width="0.7"/>
<line x1="137.41" y1="386.30" x2="137.41" y2="388.70" stroke="#9a9a9a" stroke-width="0.7"/>
<line x1="142.54" y1="386.30" x2="142.54" y2="388.70" stroke="#9a9a9a" stroke-width="0.7"/>
<line x1="147.66" y1="386.30" x2="147.66" y2="388.70" stroke="#9a9a9a" stroke-width="0.7"/>
<line x1="152.79" y1="386.30" x2="152.79" y2="388.70" stroke="#9a9a9a" stroke-width="0.7"/>
<line x1="157.91" y1="386.30" x2="157.91" y2="388.70" stroke="#9a9a9a" stroke-width="0.7"/>
<line x1="163.04" y1="386.30" x2="163.04" y2="388.70" stroke="#9a9a9a" stroke-width="0.7"/>
<line x1="168.16" y1="386.30" x2="168.16" y2="388.70" stroke="#9a9a9a" stroke-width="0.7"/>
<line x1="173.29" y1="386.30" x2="173.29" y2="388.70" stroke="#9a9a9a" stroke-width="0.7"/>
<line x1="178.41" y1="386.30" x2="178.41" y2="388.70" stroke="#9a9a9a" stroke-width="0.7"/>
<line x1="183.54" y1="386.30" x2="183.54" y2="388.70" stroke="#9a9a9a" stroke-width="0.7"/>
<rect x="123.55" y="379.89" width="2.10" height="6.41" fill="#a4a4a4"/>
<line x1="122.60" y1="379.89" x2="126.60" y2="379.89" stroke="#3a3a3a" stroke-width="0.9"/>
<rect x="128.67" y="382.22" width="2.10" height="4.08" fill="#a4a4a4"/>
<line x1="127.72" y1="382.22" x2="131.72" y2="382.22" stroke="#3a3a3a" stroke-width="0.9"/>
<rect x="133.80" y="340.83" width="2.10" height="45.47" fill="#a4a4a4"/>
<line x1="132.85" y1="340.83" x2="136.85" y2="340.83" stroke="#3a3a3a" stroke-width="0.9"/>
<rect x="138.92" y="350.15" width="2.10" height="36.15" fill="#a4a4a4"/>
<line x1="137.97" y1="350.15" x2="141.97" y2="350.15" stroke="#3a3a3a" stroke-width="0.9"/>
<rect x="143.50" y="384.37" width="3.20" height="1.93" fill="#cfcfcf"/>
<line x1="145.10" y1="383.97" x2="145.10" y2="386.30" stroke="#a4a4a4" stroke-width="0.8"/>
<line x1="143.10" y1="383.97" x2="147.10" y2="383.97" stroke="#3a3a3a" stroke-width="0.9"/>
<rect x="148.62" y="384.37" width="3.20" height="1.93" fill="#cfcfcf"/>
<line x1="150.22" y1="383.97" x2="150.22" y2="386.30" stroke="#a4a4a4" stroke-width="0.8"/>
<line x1="148.22" y1="383.97" x2="152.22" y2="383.97" stroke="#3a3a3a" stroke-width="0.9"/>
<rect x="154.30" y="359.48" width="2.10" height="26.82" fill="#a4a4a4"/>
<line x1="153.35" y1="359.48" x2="157.35" y2="359.48" stroke="#3a3a3a" stroke-width="0.9"/>
<rect x="159.42" y="359.48" width="2.10" height="26.82" fill="#a4a4a4"/>
<line x1="158.47" y1="359.48" x2="162.47" y2="359.48" stroke="#3a3a3a" stroke-width="0.9"/>
<rect x="164.00" y="384.95" width="3.20" height="1.35" fill="#cfcfcf"/>
<line x1="165.60" y1="384.55" x2="165.60" y2="386.30" stroke="#a4a4a4" stroke-width="0.8"/>
<line x1="163.60" y1="384.55" x2="167.60" y2="384.55" stroke="#3a3a3a" stroke-width="0.9"/>
<rect x="169.12" y="384.95" width="3.20" height="1.35" fill="#cfcfcf"/>
<line x1="170.72" y1="384.55" x2="170.72" y2="386.30" stroke="#a4a4a4" stroke-width="0.8"/>
<line x1="168.72" y1="384.55" x2="172.72" y2="384.55" stroke="#3a3a3a" stroke-width="0.9"/>
<rect x="174.80" y="353.65" width="2.10" height="32.65" fill="#a4a4a4"/>
<line x1="173.85" y1="353.65" x2="177.85" y2="353.65" stroke="#3a3a3a" stroke-width="0.9"/>
<rect x="179.92" y="355.40" width="2.10" height="30.90" fill="#a4a4a4"/>
<line x1="178.97" y1="355.40" x2="182.97" y2="355.40" stroke="#3a3a3a" stroke-width="0.9"/>
<polyline points="134.85,339.23 134.85,325.70 175.80,325.70 175.80,346.10" fill="none" stroke="#8a8a8a" stroke-width="0.8"/>
<polyline points="135.45,330.20 154.90,330.20 154.90,352.00" fill="none" stroke="#8a8a8a" stroke-width="0.8"/>
<polyline points="135.45,334.20 139.97,334.20 139.97,349.15" fill="none" stroke="#8a8a8a" stroke-width="0.8"/>
<text x="144.88" y="334.80" font-size="5.4" text-anchor="middle" textLength="9.00" lengthAdjust="spacing" style="stroke-width:0.4px">***</text>
<text x="144.88" y="330.70" font-size="5.4" text-anchor="middle" textLength="9.00" lengthAdjust="spacing" style="stroke-width:0.4px">***</text>
<text x="160.99" y="325.40" font-size="5.4" text-anchor="middle" textLength="9.00" lengthAdjust="spacing" style="stroke-width:0.4px">***</text>
<text x="158.60" y="356.40" font-size="6.5" text-anchor="middle" fill="#1a1a1a" textLength="7.00" lengthAdjust="spacingAndGlyphs" style="stroke-width:0.24px">ns</text>
<line x1="153.55" y1="358.10" x2="162.28" y2="358.10" stroke="#555" stroke-width="0.7"/>
<text x="179.30" y="350.50" font-size="6.5" text-anchor="middle" fill="#1a1a1a" textLength="7.00" lengthAdjust="spacingAndGlyphs" style="stroke-width:0.24px">ns</text>
<line x1="174.05" y1="352.30" x2="182.78" y2="352.30" stroke="#555" stroke-width="0.7"/>
<text x="157.00" y="307.70" font-size="6.3" text-anchor="middle" fill="#1a1a1a">HVEM</text>
<text x="124.50" y="316.60" font-size="6.6" fill="#111" textLength="16.92" lengthAdjust="spacingAndGlyphs" style="stroke-width:0.3px">sgCTL</text>
<line x1="124.46" y1="318.80" x2="142.55" y2="318.80" stroke="#111" stroke-width="1.25"/>
<text x="142.60" y="316.60" font-size="6.6" fill="#111" textLength="25.61" lengthAdjust="spacingAndGlyphs" style="stroke-width:0.3px">sgSTAT1</text>
<line x1="146.87" y1="318.80" x2="165.16" y2="318.80" stroke="#111" stroke-width="1.25"/>
<text x="169.77" y="316.60" font-size="6.6" fill="#111" textLength="18.53" lengthAdjust="spacingAndGlyphs" style="stroke-width:0.3px">sgCDK7</text>
<line x1="168.64" y1="318.80" x2="186.99" y2="318.80" stroke="#111" stroke-width="1.25"/>
<text x="107.00" y="357.80" font-size="6.2" text-anchor="middle" fill="#1a1a1a" textLength="57.60" lengthAdjust="spacingAndGlyphs" transform="rotate(-90 107.00 357.80)">Normalized values</text>
<text x="99.50" y="397.30" font-size="6.6" fill="#1a1a1a" textLength="18.10" lengthAdjust="spacingAndGlyphs">CAR-T</text>
<text x="127.40" y="395.95" font-size="4.8" text-anchor="middle" fill="#1a1a1a" style="stroke-width:0.5px">–</text>
<text x="131.90" y="395.95" font-size="4.8" text-anchor="middle" fill="#1a1a1a" style="stroke-width:0.5px">–</text>
<text x="136.40" y="396.75" font-size="6.5" text-anchor="middle" fill="#1a1a1a">+</text>
<text x="140.90" y="396.75" font-size="6.5" text-anchor="middle" fill="#1a1a1a">+</text>
<text x="147.20" y="395.95" font-size="4.8" text-anchor="middle" fill="#1a1a1a" style="stroke-width:0.5px">–</text>
<text x="151.70" y="395.95" font-size="4.8" text-anchor="middle" fill="#1a1a1a" style="stroke-width:0.5px">–</text>
<text x="156.20" y="396.75" font-size="6.5" text-anchor="middle" fill="#1a1a1a">+</text>
<text x="160.70" y="396.75" font-size="6.5" text-anchor="middle" fill="#1a1a1a">+</text>
<text x="167.60" y="395.95" font-size="4.8" text-anchor="middle" fill="#1a1a1a" style="stroke-width:0.5px">–</text>
<text x="172.10" y="395.95" font-size="4.8" text-anchor="middle" fill="#1a1a1a" style="stroke-width:0.5px">–</text>
<text x="176.60" y="396.75" font-size="6.5" text-anchor="middle" fill="#1a1a1a">+</text>
<text x="181.10" y="396.75" font-size="6.5" text-anchor="middle" fill="#1a1a1a">+</text>
<text x="99.50" y="407.10" font-size="6.6" fill="#1a1a1a" textLength="15.00" lengthAdjust="spacingAndGlyphs">THZ1</text>
<text x="127.40" y="405.75" font-size="4.8" text-anchor="middle" fill="#1a1a1a" style="stroke-width:0.5px">–</text>
<text x="131.90" y="406.55" font-size="6.5" text-anchor="middle" fill="#1a1a1a">+</text>
<text x="136.40" y="405.75" font-size="4.8" text-anchor="middle" fill="#1a1a1a" style="stroke-width:0.5px">–</text>
<text x="140.90" y="406.55" font-size="6.5" text-anchor="middle" fill="#1a1a1a">+</text>
<text x="147.20" y="405.75" font-size="4.8" text-anchor="middle" fill="#1a1a1a" style="stroke-width:0.5px">–</text>
<text x="151.70" y="406.55" font-size="6.5" text-anchor="middle" fill="#1a1a1a">+</text>
<text x="156.20" y="405.75" font-size="4.8" text-anchor="middle" fill="#1a1a1a" style="stroke-width:0.5px">–</text>
<text x="160.70" y="406.55" font-size="6.5" text-anchor="middle" fill="#1a1a1a">+</text>
<text x="167.60" y="405.75" font-size="4.8" text-anchor="middle" fill="#1a1a1a" style="stroke-width:0.5px">–</text>
<text x="172.10" y="406.55" font-size="6.5" text-anchor="middle" fill="#1a1a1a">+</text>
<text x="176.60" y="405.75" font-size="4.8" text-anchor="middle" fill="#1a1a1a" style="stroke-width:0.5px">–</text>
<text x="181.10" y="406.55" font-size="6.5" text-anchor="middle" fill="#1a1a1a">+</text>
<text x="99.50" y="416.20" font-size="6.6" fill="#1a1a1a" textLength="16.10" lengthAdjust="spacingAndGlyphs">sgCTL</text>
<text x="127.40" y="415.65" font-size="6.5" text-anchor="middle" fill="#1a1a1a">+</text>
<text x="131.90" y="415.65" font-size="6.5" text-anchor="middle" fill="#1a1a1a">+</text>
<text x="136.40" y="415.65" font-size="6.5" text-anchor="middle" fill="#1a1a1a">+</text>
<text x="140.90" y="415.65" font-size="6.5" text-anchor="middle" fill="#1a1a1a">+</text>
<text x="147.20" y="414.85" font-size="4.8" text-anchor="middle" fill="#1a1a1a" style="stroke-width:0.5px">–</text>
<text x="151.70" y="414.85" font-size="4.8" text-anchor="middle" fill="#1a1a1a" style="stroke-width:0.5px">–</text>
<text x="156.20" y="414.85" font-size="4.8" text-anchor="middle" fill="#1a1a1a" style="stroke-width:0.5px">–</text>
<text x="160.70" y="414.85" font-size="4.8" text-anchor="middle" fill="#1a1a1a" style="stroke-width:0.5px">–</text>
<text x="167.60" y="414.85" font-size="4.8" text-anchor="middle" fill="#1a1a1a" style="stroke-width:0.5px">–</text>
<text x="172.10" y="414.85" font-size="4.8" text-anchor="middle" fill="#1a1a1a" style="stroke-width:0.5px">–</text>
<text x="176.60" y="414.85" font-size="4.8" text-anchor="middle" fill="#1a1a1a" style="stroke-width:0.5px">–</text>
<text x="181.10" y="414.85" font-size="4.8" text-anchor="middle" fill="#1a1a1a" style="stroke-width:0.5px">–</text>
<text x="99.50" y="426.10" font-size="6.6" fill="#1a1a1a" textLength="24.20" lengthAdjust="spacingAndGlyphs">sgSTAT1</text>
<text x="127.40" y="424.75" font-size="4.8" text-anchor="middle" fill="#1a1a1a" style="stroke-width:0.5px">–</text>
<text x="131.90" y="424.75" font-size="4.8" text-anchor="middle" fill="#1a1a1a" style="stroke-width:0.5px">–</text>
<text x="136.40" y="424.75" font-size="4.8" text-anchor="middle" fill="#1a1a1a" style="stroke-width:0.5px">–</text>
<text x="140.90" y="424.75" font-size="4.8" text-anchor="middle" fill="#1a1a1a" style="stroke-width:0.5px">–</text>
<text x="147.20" y="425.55" font-size="6.5" text-anchor="middle" fill="#1a1a1a">+</text>
<text x="151.70" y="425.55" font-size="6.5" text-anchor="middle" fill="#1a1a1a">+</text>
<text x="156.20" y="425.55" font-size="6.5" text-anchor="middle" fill="#1a1a1a">+</text>
<text x="160.70" y="425.55" font-size="6.5" text-anchor="middle" fill="#1a1a1a">+</text>
<text x="167.60" y="424.75" font-size="4.8" text-anchor="middle" fill="#1a1a1a" style="stroke-width:0.5px">–</text>
<text x="172.10" y="424.75" font-size="4.8" text-anchor="middle" fill="#1a1a1a" style="stroke-width:0.5px">–</text>
<text x="176.60" y="424.75" font-size="4.8" text-anchor="middle" fill="#1a1a1a" style="stroke-width:0.5px">–</text>
<text x="181.10" y="424.75" font-size="4.8" text-anchor="middle" fill="#1a1a1a" style="stroke-width:0.5px">–</text>
<text x="99.50" y="435.90" font-size="6.6" fill="#1a1a1a" textLength="21.70" lengthAdjust="spacingAndGlyphs">sgCDK7</text>
<text x="127.40" y="434.55" font-size="4.8" text-anchor="middle" fill="#1a1a1a" style="stroke-width:0.5px">–</text>
<text x="131.90" y="434.55" font-size="4.8" text-anchor="middle" fill="#1a1a1a" style="stroke-width:0.5px">–</text>
<text x="136.40" y="434.55" font-size="4.8" text-anchor="middle" fill="#1a1a1a" style="stroke-width:0.5px">–</text>
<text x="140.90" y="434.55" font-size="4.8" text-anchor="middle" fill="#1a1a1a" style="stroke-width:0.5px">–</text>
<text x="147.20" y="434.55" font-size="4.8" text-anchor="middle" fill="#1a1a1a" style="stroke-width:0.5px">–</text>
<text x="151.70" y="434.55" font-size="4.8" text-anchor="middle" fill="#1a1a1a" style="stroke-width:0.5px">–</text>
<text x="156.20" y="434.55" font-size="4.8" text-anchor="middle" fill="#1a1a1a" style="stroke-width:0.5px">–</text>
<text x="160.70" y="434.55" font-size="4.8" text-anchor="middle" fill="#1a1a1a" style="stroke-width:0.5px">–</text>
<text x="167.60" y="435.35" font-size="6.5" text-anchor="middle" fill="#1a1a1a">+</text>
<text x="172.10" y="435.35" font-size="6.5" text-anchor="middle" fill="#1a1a1a">+</text>
<text x="176.60" y="435.35" font-size="6.5" text-anchor="middle" fill="#1a1a1a">+</text>
<text x="181.10" y="435.35" font-size="6.5" text-anchor="middle" fill="#1a1a1a">+</text>
<line x1="227.00" y1="327.40" x2="227.00" y2="386.30" stroke="#9a9a9a" stroke-width="0.8"/>
<line x1="224.40" y1="386.30" x2="227.00" y2="386.30" stroke="#9a9a9a" stroke-width="0.8"/>
<text x="222.40" y="388.30" font-size="6.0" text-anchor="end" fill="#1c1c1c" style="stroke-width:0.3px">0</text>
<line x1="224.40" y1="371.57" x2="227.00" y2="371.57" stroke="#9a9a9a" stroke-width="0.8"/>
<text x="222.40" y="373.57" font-size="6.0" text-anchor="end" fill="#1c1c1c" style="stroke-width:0.3px">10</text>
<line x1="224.40" y1="356.85" x2="227.00" y2="356.85" stroke="#9a9a9a" stroke-width="0.8"/>
<text x="222.40" y="358.85" font-size="6.0" text-anchor="end" fill="#1c1c1c" style="stroke-width:0.3px">20</text>
<line x1="224.40" y1="342.12" x2="227.00" y2="342.12" stroke="#9a9a9a" stroke-width="0.8"/>
<text x="222.40" y="344.12" font-size="6.0" text-anchor="end" fill="#1c1c1c" style="stroke-width:0.3px">30</text>
<line x1="224.40" y1="327.40" x2="227.00" y2="327.40" stroke="#9a9a9a" stroke-width="0.8"/>
<text x="222.40" y="329.40" font-size="6.0" text-anchor="end" fill="#1c1c1c" style="stroke-width:0.3px">40</text>
<line x1="227.00" y1="386.30" x2="288.19" y2="386.30" stroke="#9a9a9a" stroke-width="0.8"/>
<line x1="226.69" y1="386.30" x2="226.69" y2="388.70" stroke="#9a9a9a" stroke-width="0.7"/>
<line x1="231.81" y1="386.30" x2="231.81" y2="388.70" stroke="#9a9a9a" stroke-width="0.7"/>
<line x1="236.94" y1="386.30" x2="236.94" y2="388.70" stroke="#9a9a9a" stroke-width="0.7"/>
<line x1="242.06" y1="386.30" x2="242.06" y2="388.70" stroke="#9a9a9a" stroke-width="0.7"/>
<line x1="247.19" y1="386.30" x2="247.19" y2="388.70" stroke="#9a9a9a" stroke-width="0.7"/>
<line x1="252.31" y1="386.30" x2="252.31" y2="388.70" stroke="#9a9a9a" stroke-width="0.7"/>
<line x1="257.44" y1="386.30" x2="257.44" y2="388.70" stroke="#9a9a9a" stroke-width="0.7"/>
<line x1="262.56" y1="386.30" x2="262.56" y2="388.70" stroke="#9a9a9a" stroke-width="0.7"/>
<line x1="267.69" y1="386.30" x2="267.69" y2="388.70" stroke="#9a9a9a" stroke-width="0.7"/>
<line x1="272.81" y1="386.30" x2="272.81" y2="388.70" stroke="#9a9a9a" stroke-width="0.7"/>
<line x1="277.94" y1="386.30" x2="277.94" y2="388.70" stroke="#9a9a9a" stroke-width="0.7"/>
<line x1="283.06" y1="386.30" x2="283.06" y2="388.70" stroke="#9a9a9a" stroke-width="0.7"/>
<line x1="288.19" y1="386.30" x2="288.19" y2="388.70" stroke="#9a9a9a" stroke-width="0.7"/>
<rect x="227.65" y="385.23" width="3.20" height="1.07" fill="#cfcfcf"/>
<line x1="229.25" y1="384.83" x2="229.25" y2="386.30" stroke="#a4a4a4" stroke-width="0.8"/>
<line x1="227.25" y1="384.83" x2="231.25" y2="384.83" stroke="#3a3a3a" stroke-width="0.9"/>
<rect x="232.78" y="385.96" width="3.20" height="0.34" fill="#cfcfcf"/>
<line x1="234.38" y1="385.56" x2="234.38" y2="386.30" stroke="#a4a4a4" stroke-width="0.8"/>
<line x1="232.38" y1="385.56" x2="236.38" y2="385.56" stroke="#3a3a3a" stroke-width="0.9"/>
<rect x="238.45" y="338.44" width="2.10" height="47.86" fill="#a4a4a4"/>
<line x1="237.50" y1="338.44" x2="241.50" y2="338.44" stroke="#3a3a3a" stroke-width="0.9"/>
<rect x="243.57" y="350.22" width="2.10" height="36.08" fill="#a4a4a4"/>
<line x1="242.62" y1="350.22" x2="246.62" y2="350.22" stroke="#3a3a3a" stroke-width="0.9"/>
<rect x="248.15" y="385.96" width="3.20" height="0.34" fill="#cfcfcf"/>
<line x1="249.75" y1="385.56" x2="249.75" y2="386.30" stroke="#a4a4a4" stroke-width="0.8"/>
<line x1="247.75" y1="385.56" x2="251.75" y2="385.56" stroke="#3a3a3a" stroke-width="0.9"/>
<rect x="253.28" y="385.96" width="3.20" height="0.34" fill="#cfcfcf"/>
<line x1="254.88" y1="385.56" x2="254.88" y2="386.30" stroke="#a4a4a4" stroke-width="0.8"/>
<line x1="252.88" y1="385.56" x2="256.88" y2="385.56" stroke="#3a3a3a" stroke-width="0.9"/>
<rect x="258.95" y="359.80" width="2.10" height="26.50" fill="#a4a4a4"/>
<line x1="258.00" y1="359.80" x2="262.00" y2="359.80" stroke="#3a3a3a" stroke-width="0.9"/>
<rect x="264.07" y="360.53" width="2.10" height="25.77" fill="#a4a4a4"/>
<line x1="263.12" y1="360.53" x2="267.12" y2="360.53" stroke="#3a3a3a" stroke-width="0.9"/>
<rect x="268.65" y="385.96" width="3.20" height="0.34" fill="#cfcfcf"/>
<line x1="270.25" y1="385.56" x2="270.25" y2="386.30" stroke="#a4a4a4" stroke-width="0.8"/>
<line x1="268.25" y1="385.56" x2="272.25" y2="385.56" stroke="#3a3a3a" stroke-width="0.9"/>
<rect x="273.77" y="385.96" width="3.20" height="0.34" fill="#cfcfcf"/>
<line x1="275.38" y1="385.56" x2="275.38" y2="386.30" stroke="#a4a4a4" stroke-width="0.8"/>
<line x1="273.38" y1="385.56" x2="277.38" y2="385.56" stroke="#3a3a3a" stroke-width="0.9"/>
<rect x="279.45" y="361.27" width="2.10" height="25.03" fill="#a4a4a4"/>
<line x1="278.50" y1="361.27" x2="282.50" y2="361.27" stroke="#3a3a3a" stroke-width="0.9"/>
<rect x="284.57" y="361.27" width="2.10" height="25.03" fill="#a4a4a4"/>
<line x1="283.62" y1="361.27" x2="287.62" y2="361.27" stroke="#3a3a3a" stroke-width="0.9"/>
<polyline points="239.50,336.84 239.50,325.70 279.70,325.70 279.70,352.00" fill="none" stroke="#8a8a8a" stroke-width="0.8"/>
<polyline points="240.10,329.70 261.70,329.70 261.70,351.70" fill="none" stroke="#8a8a8a" stroke-width="0.8"/>
<polyline points="240.10,333.00 244.62,333.00 244.62,349.22" fill="none" stroke="#8a8a8a" stroke-width="0.8"/>
<text x="250.03" y="334.90" font-size="5.4" text-anchor="middle" textLength="9.00" lengthAdjust="spacing" style="stroke-width:0.4px">***</text>
<text x="250.03" y="331.10" font-size="5.4" text-anchor="middle" textLength="9.00" lengthAdjust="spacing" style="stroke-width:0.4px">***</text>
<text x="260.51" y="326.50" font-size="5.4" text-anchor="middle" textLength="9.00" lengthAdjust="spacing" style="stroke-width:0.4px">***</text>
<text x="265.40" y="356.10" font-size="6.5" text-anchor="middle" fill="#1a1a1a" textLength="7.00" lengthAdjust="spacingAndGlyphs" style="stroke-width:0.24px">ns</text>
<line x1="258.20" y1="357.80" x2="266.93" y2="357.80" stroke="#555" stroke-width="0.7"/>
<text x="283.20" y="356.40" font-size="6.5" text-anchor="middle" fill="#1a1a1a" textLength="7.00" lengthAdjust="spacingAndGlyphs" style="stroke-width:0.24px">ns</text>
<line x1="278.70" y1="357.80" x2="287.43" y2="357.80" stroke="#555" stroke-width="0.7"/>
<text x="261.00" y="307.70" font-size="6.3" text-anchor="middle" fill="#1a1a1a">CSF1</text>
<text x="228.00" y="316.60" font-size="6.6" fill="#111" textLength="17.41" lengthAdjust="spacingAndGlyphs" style="stroke-width:0.3px">sgCTL</text>
<line x1="227.96" y1="318.80" x2="246.57" y2="318.80" stroke="#111" stroke-width="1.25"/>
<text x="246.60" y="316.60" font-size="6.6" fill="#111" textLength="26.34" lengthAdjust="spacingAndGlyphs" style="stroke-width:0.3px">sgSTAT1</text>
<line x1="251.00" y1="318.80" x2="269.80" y2="318.80" stroke="#111" stroke-width="1.25"/>
<text x="274.54" y="316.60" font-size="6.6" fill="#111" textLength="19.06" lengthAdjust="spacingAndGlyphs" style="stroke-width:0.3px">sgCDK7</text>
<line x1="273.38" y1="318.80" x2="292.25" y2="318.80" stroke="#111" stroke-width="1.25"/>
<text x="209.00" y="355.00" font-size="6.2" text-anchor="middle" fill="#1a1a1a" textLength="57.60" lengthAdjust="spacingAndGlyphs" transform="rotate(-90 209.00 355.00)">Normalized values</text>
<text x="204.60" y="395.40" font-size="6.6" fill="#1a1a1a" textLength="18.10" lengthAdjust="spacingAndGlyphs">CAR-T</text>
<text x="232.90" y="394.05" font-size="4.8" text-anchor="middle" fill="#1a1a1a" style="stroke-width:0.5px">–</text>
<text x="237.30" y="394.05" font-size="4.8" text-anchor="middle" fill="#1a1a1a" style="stroke-width:0.5px">–</text>
<text x="241.70" y="394.85" font-size="6.5" text-anchor="middle" fill="#1a1a1a">+</text>
<text x="246.10" y="394.85" font-size="6.5" text-anchor="middle" fill="#1a1a1a">+</text>
<text x="252.60" y="394.05" font-size="4.8" text-anchor="middle" fill="#1a1a1a" style="stroke-width:0.5px">–</text>
<text x="257.00" y="394.05" font-size="4.8" text-anchor="middle" fill="#1a1a1a" style="stroke-width:0.5px">–</text>
<text x="261.40" y="394.85" font-size="6.5" text-anchor="middle" fill="#1a1a1a">+</text>
<text x="265.80" y="394.85" font-size="6.5" text-anchor="middle" fill="#1a1a1a">+</text>
<text x="272.70" y="394.05" font-size="4.8" text-anchor="middle" fill="#1a1a1a" style="stroke-width:0.5px">–</text>
<text x="277.10" y="394.05" font-size="4.8" text-anchor="middle" fill="#1a1a1a" style="stroke-width:0.5px">–</text>
<text x="281.50" y="394.85" font-size="6.5" text-anchor="middle" fill="#1a1a1a">+</text>
<text x="285.90" y="394.85" font-size="6.5" text-anchor="middle" fill="#1a1a1a">+</text>
<text x="204.60" y="405.60" font-size="6.6" fill="#1a1a1a" textLength="15.00" lengthAdjust="spacingAndGlyphs">THZ1</text>
<text x="232.90" y="404.25" font-size="4.8" text-anchor="middle" fill="#1a1a1a" style="stroke-width:0.5px">–</text>
<text x="237.30" y="405.05" font-size="6.5" text-anchor="middle" fill="#1a1a1a">+</text>
<text x="241.70" y="404.25" font-size="4.8" text-anchor="middle" fill="#1a1a1a" style="stroke-width:0.5px">–</text>
<text x="246.10" y="405.05" font-size="6.5" text-anchor="middle" fill="#1a1a1a">+</text>
<text x="252.60" y="404.25" font-size="4.8" text-anchor="middle" fill="#1a1a1a" style="stroke-width:0.5px">–</text>
<text x="257.00" y="405.05" font-size="6.5" text-anchor="middle" fill="#1a1a1a">+</text>
<text x="261.40" y="404.25" font-size="4.8" text-anchor="middle" fill="#1a1a1a" style="stroke-width:0.5px">–</text>
<text x="265.80" y="405.05" font-size="6.5" text-anchor="middle" fill="#1a1a1a">+</text>
<text x="272.70" y="404.25" font-size="4.8" text-anchor="middle" fill="#1a1a1a" style="stroke-width:0.5px">–</text>
<text x="277.10" y="405.05" font-size="6.5" text-anchor="middle" fill="#1a1a1a">+</text>
<text x="281.50" y="404.25" font-size="4.8" text-anchor="middle" fill="#1a1a1a" style="stroke-width:0.5px">–</text>
<text x="285.90" y="405.05" font-size="6.5" text-anchor="middle" fill="#1a1a1a">+</text>
<text x="204.60" y="415.20" font-size="6.6" fill="#1a1a1a" textLength="16.10" lengthAdjust="spacingAndGlyphs">sgCTL</text>
<text x="232.90" y="414.65" font-size="6.5" text-anchor="middle" fill="#1a1a1a">+</text>
<text x="237.30" y="414.65" font-size="6.5" text-anchor="middle" fill="#1a1a1a">+</text>
<text x="241.70" y="414.65" font-size="6.5" text-anchor="middle" fill="#1a1a1a">+</text>
<text x="246.10" y="414.65" font-size="6.5" text-anchor="middle" fill="#1a1a1a">+</text>
<text x="252.60" y="413.85" font-size="4.8" text-anchor="middle" fill="#1a1a1a" style="stroke-width:0.5px">–</text>
<text x="257.00" y="413.85" font-size="4.8" text-anchor="middle" fill="#1a1a1a" style="stroke-width:0.5px">–</text>
<text x="261.40" y="413.85" font-size="4.8" text-anchor="middle" fill="#1a1a1a" style="stroke-width:0.5px">–</text>
<text x="265.80" y="413.85" font-size="4.8" text-anchor="middle" fill="#1a1a1a" style="stroke-width:0.5px">–</text>
<text x="272.70" y="413.85" font-size="4.8" text-anchor="middle" fill="#1a1a1a" style="stroke-width:0.5px">–</text>
<text x="277.10" y="413.85" font-size="4.8" text-anchor="middle" fill="#1a1a1a" style="stroke-width:0.5px">–</text>
<text x="281.50" y="413.85" font-size="4.8" text-anchor="middle" fill="#1a1a1a" style="stroke-width:0.5px">–</text>
<text x="285.90" y="413.85" font-size="4.8" text-anchor="middle" fill="#1a1a1a" style="stroke-width:0.5px">–</text>
<text x="204.60" y="425.40" font-size="6.6" fill="#1a1a1a" textLength="24.20" lengthAdjust="spacingAndGlyphs">sgSTAT1</text>
<text x="232.90" y="424.05" font-size="4.8" text-anchor="middle" fill="#1a1a1a" style="stroke-width:0.5px">–</text>
<text x="237.30" y="424.05" font-size="4.8" text-anchor="middle" fill="#1a1a1a" style="stroke-width:0.5px">–</text>
<text x="241.70" y="424.05" font-size="4.8" text-anchor="middle" fill="#1a1a1a" style="stroke-width:0.5px">–</text>
<text x="246.10" y="424.05" font-size="4.8" text-anchor="middle" fill="#1a1a1a" style="stroke-width:0.5px">–</text>
<text x="252.60" y="424.85" font-size="6.5" text-anchor="middle" fill="#1a1a1a">+</text>
<text x="257.00" y="424.85" font-size="6.5" text-anchor="middle" fill="#1a1a1a">+</text>
<text x="261.40" y="424.85" font-size="6.5" text-anchor="middle" fill="#1a1a1a">+</text>
<text x="265.80" y="424.85" font-size="6.5" text-anchor="middle" fill="#1a1a1a">+</text>
<text x="272.70" y="424.05" font-size="4.8" text-anchor="middle" fill="#1a1a1a" style="stroke-width:0.5px">–</text>
<text x="277.10" y="424.05" font-size="4.8" text-anchor="middle" fill="#1a1a1a" style="stroke-width:0.5px">–</text>
<text x="281.50" y="424.05" font-size="4.8" text-anchor="middle" fill="#1a1a1a" style="stroke-width:0.5px">–</text>
<text x="285.90" y="424.05" font-size="4.8" text-anchor="middle" fill="#1a1a1a" style="stroke-width:0.5px">–</text>
<text x="204.60" y="435.00" font-size="6.6" fill="#1a1a1a" textLength="21.70" lengthAdjust="spacingAndGlyphs">sgCDK7</text>
<text x="232.90" y="433.65" font-size="4.8" text-anchor="middle" fill="#1a1a1a" style="stroke-width:0.5px">–</text>
<text x="237.30" y="433.65" font-size="4.8" text-anchor="middle" fill="#1a1a1a" style="stroke-width:0.5px">–</text>
<text x="241.70" y="433.65" font-size="4.8" text-anchor="middle" fill="#1a1a1a" style="stroke-width:0.5px">–</text>
<text x="246.10" y="433.65" font-size="4.8" text-anchor="middle" fill="#1a1a1a" style="stroke-width:0.5px">–</text>
<text x="252.60" y="433.65" font-size="4.8" text-anchor="middle" fill="#1a1a1a" style="stroke-width:0.5px">–</text>
<text x="257.00" y="433.65" font-size="4.8" text-anchor="middle" fill="#1a1a1a" style="stroke-width:0.5px">–</text>
<text x="261.40" y="433.65" font-size="4.8" text-anchor="middle" fill="#1a1a1a" style="stroke-width:0.5px">–</text>
<text x="265.80" y="433.65" font-size="4.8" text-anchor="middle" fill="#1a1a1a" style="stroke-width:0.5px">–</text>
<text x="272.70" y="434.45" font-size="6.5" text-anchor="middle" fill="#1a1a1a">+</text>
<text x="277.10" y="434.45" font-size="6.5" text-anchor="middle" fill="#1a1a1a">+</text>
<text x="281.50" y="434.45" font-size="6.5" text-anchor="middle" fill="#1a1a1a">+</text>
<text x="285.90" y="434.45" font-size="6.5" text-anchor="middle" fill="#1a1a1a">+</text>
<line x1="24.00" y1="473.30" x2="24.00" y2="530.90" stroke="#9a9a9a" stroke-width="0.8"/>
<line x1="21.40" y1="530.90" x2="24.00" y2="530.90" stroke="#9a9a9a" stroke-width="0.8"/>
<text x="19.40" y="532.90" font-size="6.0" text-anchor="end" fill="#1c1c1c" style="stroke-width:0.3px">0</text>
<line x1="21.40" y1="516.50" x2="24.00" y2="516.50" stroke="#9a9a9a" stroke-width="0.8"/>
<text x="19.40" y="518.50" font-size="6.0" text-anchor="end" fill="#1c1c1c" style="stroke-width:0.3px">20</text>
<line x1="21.40" y1="502.10" x2="24.00" y2="502.10" stroke="#9a9a9a" stroke-width="0.8"/>
<text x="19.40" y="504.10" font-size="6.0" text-anchor="end" fill="#1c1c1c" style="stroke-width:0.3px">40</text>
<line x1="21.40" y1="487.70" x2="24.00" y2="487.70" stroke="#9a9a9a" stroke-width="0.8"/>
<text x="19.40" y="489.70" font-size="6.0" text-anchor="end" fill="#1c1c1c" style="stroke-width:0.3px">60</text>
<line x1="21.40" y1="473.30" x2="24.00" y2="473.30" stroke="#9a9a9a" stroke-width="0.8"/>
<text x="19.40" y="475.30" font-size="6.0" text-anchor="end" fill="#1c1c1c" style="stroke-width:0.3px">80</text>
<line x1="24.00" y1="530.90" x2="86.94" y2="530.90" stroke="#9a9a9a" stroke-width="0.8"/>
<line x1="25.02" y1="530.90" x2="25.02" y2="533.30" stroke="#9a9a9a" stroke-width="0.7"/>
<line x1="30.18" y1="530.90" x2="30.18" y2="533.30" stroke="#9a9a9a" stroke-width="0.7"/>
<line x1="35.34" y1="530.90" x2="35.34" y2="533.30" stroke="#9a9a9a" stroke-width="0.7"/>
<line x1="40.50" y1="530.90" x2="40.50" y2="533.30" stroke="#9a9a9a" stroke-width="0.7"/>
<line x1="45.66" y1="530.90" x2="45.66" y2="533.30" stroke="#9a9a9a" stroke-width="0.7"/>
<line x1="50.82" y1="530.90" x2="50.82" y2="533.30" stroke="#9a9a9a" stroke-width="0.7"/>
<line x1="55.98" y1="530.90" x2="55.98" y2="533.30" stroke="#9a9a9a" stroke-width="0.7"/>
<line x1="61.14" y1="530.90" x2="61.14" y2="533.30" stroke="#9a9a9a" stroke-width="0.7"/>
<line x1="66.30" y1="530.90" x2="66.30" y2="533.30" stroke="#9a9a9a" stroke-width="0.7"/>
<line x1="71.46" y1="530.90" x2="71.46" y2="533.30" stroke="#9a9a9a" stroke-width="0.7"/>
<line x1="76.62" y1="530.90" x2="76.62" y2="533.30" stroke="#9a9a9a" stroke-width="0.7"/>
<line x1="81.78" y1="530.90" x2="81.78" y2="533.30" stroke="#9a9a9a" stroke-width="0.7"/>
<line x1="86.94" y1="530.90" x2="86.94" y2="533.30" stroke="#9a9a9a" stroke-width="0.7"/>
<rect x="26.00" y="530.22" width="3.20" height="0.68" fill="#cfcfcf"/>
<line x1="27.60" y1="529.82" x2="27.60" y2="530.90" stroke="#a4a4a4" stroke-width="0.8"/>
<line x1="25.60" y1="529.82" x2="29.60" y2="529.82" stroke="#3a3a3a" stroke-width="0.9"/>
<rect x="31.16" y="530.44" width="3.20" height="0.46" fill="#cfcfcf"/>
<line x1="32.76" y1="530.04" x2="32.76" y2="530.90" stroke="#a4a4a4" stroke-width="0.8"/>
<line x1="30.76" y1="530.04" x2="34.76" y2="530.04" stroke="#3a3a3a" stroke-width="0.9"/>
<rect x="36.87" y="485.32" width="2.10" height="45.58" fill="#a4a4a4"/>
<line x1="35.92" y1="485.32" x2="39.92" y2="485.32" stroke="#3a3a3a" stroke-width="0.9"/>
<rect x="42.03" y="512.68" width="2.10" height="18.22" fill="#a4a4a4"/>
<line x1="41.08" y1="512.68" x2="45.08" y2="512.68" stroke="#3a3a3a" stroke-width="0.9"/>
<rect x="46.64" y="529.86" width="3.20" height="1.04" fill="#cfcfcf"/>
<line x1="48.24" y1="529.46" x2="48.24" y2="530.90" stroke="#a4a4a4" stroke-width="0.8"/>
<line x1="46.24" y1="529.46" x2="50.24" y2="529.46" stroke="#3a3a3a" stroke-width="0.9"/>
<rect x="51.80" y="529.86" width="3.20" height="1.04" fill="#cfcfcf"/>
<line x1="53.40" y1="529.46" x2="53.40" y2="530.90" stroke="#a4a4a4" stroke-width="0.8"/>
<line x1="51.40" y1="529.46" x2="55.40" y2="529.46" stroke="#3a3a3a" stroke-width="0.9"/>
<rect x="57.51" y="513.48" width="2.10" height="17.42" fill="#a4a4a4"/>
<line x1="56.56" y1="513.48" x2="60.56" y2="513.48" stroke="#3a3a3a" stroke-width="0.9"/>
<rect x="62.67" y="513.48" width="2.10" height="17.42" fill="#a4a4a4"/>
<line x1="61.72" y1="513.48" x2="65.72" y2="513.48" stroke="#3a3a3a" stroke-width="0.9"/>
<rect x="67.28" y="529.86" width="3.20" height="1.04" fill="#cfcfcf"/>
<line x1="68.88" y1="529.46" x2="68.88" y2="530.90" stroke="#a4a4a4" stroke-width="0.8"/>
<line x1="66.88" y1="529.46" x2="70.88" y2="529.46" stroke="#3a3a3a" stroke-width="0.9"/>
<rect x="72.44" y="529.86" width="3.20" height="1.04" fill="#cfcfcf"/>
<line x1="74.04" y1="529.46" x2="74.04" y2="530.90" stroke="#a4a4a4" stroke-width="0.8"/>
<line x1="72.04" y1="529.46" x2="76.04" y2="529.46" stroke="#3a3a3a" stroke-width="0.9"/>
<rect x="78.15" y="513.33" width="2.10" height="17.57" fill="#a4a4a4"/>
<line x1="77.20" y1="513.33" x2="81.20" y2="513.33" stroke="#3a3a3a" stroke-width="0.9"/>
<rect x="83.31" y="513.33" width="2.10" height="17.57" fill="#a4a4a4"/>
<line x1="82.36" y1="513.33" x2="86.36" y2="513.33" stroke="#3a3a3a" stroke-width="0.9"/>
<polyline points="37.92,483.72 37.92,472.30 78.50,472.30 78.50,504.70" fill="none" stroke="#8a8a8a" stroke-width="0.8"/>
<polyline points="38.52,477.20 57.00,477.20 57.00,504.70" fill="none" stroke="#8a8a8a" stroke-width="0.8"/>
<polyline points="38.52,479.90 43.08,479.90 43.08,511.68" fill="none" stroke="#8a8a8a" stroke-width="0.8"/>
<text x="47.48" y="482.90" font-size="5.4" text-anchor="middle" textLength="9.00" lengthAdjust="spacing" style="stroke-width:0.4px">***</text>
<text x="47.48" y="478.50" font-size="5.4" text-anchor="middle" textLength="9.00" lengthAdjust="spacing" style="stroke-width:0.4px">***</text>
<text x="60.62" y="472.80" font-size="5.4" text-anchor="middle" textLength="9.00" lengthAdjust="spacing" style="stroke-width:0.4px">***</text>
<text x="60.70" y="509.10" font-size="6.5" text-anchor="middle" fill="#1a1a1a" textLength="7.00" lengthAdjust="spacingAndGlyphs" style="stroke-width:0.24px">ns</text>
<line x1="56.76" y1="510.40" x2="65.52" y2="510.40" stroke="#555" stroke-width="0.7"/>
<text x="82.00" y="509.10" font-size="6.5" text-anchor="middle" fill="#1a1a1a" textLength="7.00" lengthAdjust="spacingAndGlyphs" style="stroke-width:0.24px">ns</text>
<line x1="77.40" y1="510.40" x2="86.16" y2="510.40" stroke="#555" stroke-width="0.7"/>
<text x="56.70" y="455.70" font-size="6.3" text-anchor="middle" fill="#1a1a1a">IL1B</text>
<text x="26.20" y="464.60" font-size="6.6" fill="#111" textLength="17.00" lengthAdjust="spacingAndGlyphs" style="stroke-width:0.3px">sgCTL</text>
<line x1="26.16" y1="466.80" x2="44.34" y2="466.80" stroke="#111" stroke-width="1.25"/>
<text x="44.38" y="464.60" font-size="6.6" fill="#111" textLength="25.73" lengthAdjust="spacingAndGlyphs" style="stroke-width:0.3px">sgSTAT1</text>
<line x1="48.67" y1="466.80" x2="67.05" y2="466.80" stroke="#111" stroke-width="1.25"/>
<text x="71.68" y="464.60" font-size="6.6" fill="#111" textLength="18.62" lengthAdjust="spacingAndGlyphs" style="stroke-width:0.3px">sgCDK7</text>
<line x1="70.54" y1="466.80" x2="88.98" y2="466.80" stroke="#111" stroke-width="1.25"/>
<text x="7.00" y="498.50" font-size="6.2" text-anchor="middle" fill="#1a1a1a" textLength="57.60" lengthAdjust="spacingAndGlyphs" transform="rotate(-90 7.00 498.50)">Normalized values</text>
<text x="2.30" y="540.00" font-size="6.6" fill="#1a1a1a" textLength="18.10" lengthAdjust="spacingAndGlyphs">CAR-T</text>
<text x="30.40" y="538.65" font-size="4.8" text-anchor="middle" fill="#1a1a1a" style="stroke-width:0.5px">–</text>
<text x="34.70" y="538.65" font-size="4.8" text-anchor="middle" fill="#1a1a1a" style="stroke-width:0.5px">–</text>
<text x="39.00" y="539.45" font-size="6.5" text-anchor="middle" fill="#1a1a1a">+</text>
<text x="43.30" y="539.45" font-size="6.5" text-anchor="middle" fill="#1a1a1a">+</text>
<text x="50.20" y="538.65" font-size="4.8" text-anchor="middle" fill="#1a1a1a" style="stroke-width:0.5px">–</text>
<text x="54.50" y="538.65" font-size="4.8" text-anchor="middle" fill="#1a1a1a" style="stroke-width:0.5px">–</text>
<text x="58.80" y="539.45" font-size="6.5" text-anchor="middle" fill="#1a1a1a">+</text>
<text x="63.10" y="539.45" font-size="6.5" text-anchor="middle" fill="#1a1a1a">+</text>
<text x="70.20" y="538.65" font-size="4.8" text-anchor="middle" fill="#1a1a1a" style="stroke-width:0.5px">–</text>
<text x="74.50" y="538.65" font-size="4.8" text-anchor="middle" fill="#1a1a1a" style="stroke-width:0.5px">–</text>
<text x="78.80" y="539.45" font-size="6.5" text-anchor="middle" fill="#1a1a1a">+</text>
<text x="83.10" y="539.45" font-size="6.5" text-anchor="middle" fill="#1a1a1a">+</text>
<text x="2.30" y="550.20" font-size="6.6" fill="#1a1a1a" textLength="15.00" lengthAdjust="spacingAndGlyphs">THZ1</text>
<text x="30.40" y="548.85" font-size="4.8" text-anchor="middle" fill="#1a1a1a" style="stroke-width:0.5px">–</text>
<text x="34.70" y="549.65" font-size="6.5" text-anchor="middle" fill="#1a1a1a">+</text>
<text x="39.00" y="548.85" font-size="4.8" text-anchor="middle" fill="#1a1a1a" style="stroke-width:0.5px">–</text>
<text x="43.30" y="549.65" font-size="6.5" text-anchor="middle" fill="#1a1a1a">+</text>
<text x="50.20" y="548.85" font-size="4.8" text-anchor="middle" fill="#1a1a1a" style="stroke-width:0.5px">–</text>
<text x="54.50" y="549.65" font-size="6.5" text-anchor="middle" fill="#1a1a1a">+</text>
<text x="58.80" y="548.85" font-size="4.8" text-anchor="middle" fill="#1a1a1a" style="stroke-width:0.5px">–</text>
<text x="63.10" y="549.65" font-size="6.5" text-anchor="middle" fill="#1a1a1a">+</text>
<text x="70.20" y="548.85" font-size="4.8" text-anchor="middle" fill="#1a1a1a" style="stroke-width:0.5px">–</text>
<text x="74.50" y="549.65" font-size="6.5" text-anchor="middle" fill="#1a1a1a">+</text>
<text x="78.80" y="548.85" font-size="4.8" text-anchor="middle" fill="#1a1a1a" style="stroke-width:0.5px">–</text>
<text x="83.10" y="549.65" font-size="6.5" text-anchor="middle" fill="#1a1a1a">+</text>
<text x="2.30" y="560.20" font-size="6.6" fill="#1a1a1a" textLength="16.10" lengthAdjust="spacingAndGlyphs">sgCTL</text>
<text x="30.40" y="559.65" font-size="6.5" text-anchor="middle" fill="#1a1a1a">+</text>
<text x="34.70" y="559.65" font-size="6.5" text-anchor="middle" fill="#1a1a1a">+</text>
<text x="39.00" y="559.65" font-size="6.5" text-anchor="middle" fill="#1a1a1a">+</text>
<text x="43.30" y="559.65" font-size="6.5" text-anchor="middle" fill="#1a1a1a">+</text>
<text x="50.20" y="558.85" font-size="4.8" text-anchor="middle" fill="#1a1a1a" style="stroke-width:0.5px">–</text>
<text x="54.50" y="558.85" font-size="4.8" text-anchor="middle" fill="#1a1a1a" style="stroke-width:0.5px">–</text>
<text x="58.80" y="558.85" font-size="4.8" text-anchor="middle" fill="#1a1a1a" style="stroke-width:0.5px">–</text>
<text x="63.10" y="558.85" font-size="4.8" text-anchor="middle" fill="#1a1a1a" style="stroke-width:0.5px">–</text>
<text x="70.20" y="558.85" font-size="4.8" text-anchor="middle" fill="#1a1a1a" style="stroke-width:0.5px">–</text>
<text x="74.50" y="558.85" font-size="4.8" text-anchor="middle" fill="#1a1a1a" style="stroke-width:0.5px">–</text>
<text x="78.80" y="558.85" font-size="4.8" text-anchor="middle" fill="#1a1a1a" style="stroke-width:0.5px">–</text>
<text x="83.10" y="558.85" font-size="4.8" text-anchor="middle" fill="#1a1a1a" style="stroke-width:0.5px">–</text>
<text x="2.30" y="570.00" font-size="6.6" fill="#1a1a1a" textLength="24.20" lengthAdjust="spacingAndGlyphs">sgSTAT1</text>
<text x="30.40" y="568.65" font-size="4.8" text-anchor="middle" fill="#1a1a1a" style="stroke-width:0.5px">–</text>
<text x="34.70" y="568.65" font-size="4.8" text-anchor="middle" fill="#1a1a1a" style="stroke-width:0.5px">–</text>
<text x="39.00" y="568.65" font-size="4.8" text-anchor="middle" fill="#1a1a1a" style="stroke-width:0.5px">–</text>
<text x="43.30" y="568.65" font-size="4.8" text-anchor="middle" fill="#1a1a1a" style="stroke-width:0.5px">–</text>
<text x="50.20" y="569.45" font-size="6.5" text-anchor="middle" fill="#1a1a1a">+</text>
<text x="54.50" y="569.45" font-size="6.5" text-anchor="middle" fill="#1a1a1a">+</text>
<text x="58.80" y="569.45" font-size="6.5" text-anchor="middle" fill="#1a1a1a">+</text>
<text x="63.10" y="569.45" font-size="6.5" text-anchor="middle" fill="#1a1a1a">+</text>
<text x="70.20" y="568.65" font-size="4.8" text-anchor="middle" fill="#1a1a1a" style="stroke-width:0.5px">–</text>
<text x="74.50" y="568.65" font-size="4.8" text-anchor="middle" fill="#1a1a1a" style="stroke-width:0.5px">–</text>
<text x="78.80" y="568.65" font-size="4.8" text-anchor="middle" fill="#1a1a1a" style="stroke-width:0.5px">–</text>
<text x="83.10" y="568.65" font-size="4.8" text-anchor="middle" fill="#1a1a1a" style="stroke-width:0.5px">–</text>
<text x="2.30" y="580.00" font-size="6.6" fill="#1a1a1a" textLength="21.70" lengthAdjust="spacingAndGlyphs">sgCDK7</text>
<text x="30.40" y="578.65" font-size="4.8" text-anchor="middle" fill="#1a1a1a" style="stroke-width:0.5px">–</text>
<text x="34.70" y="578.65" font-size="4.8" text-anchor="middle" fill="#1a1a1a" style="stroke-width:0.5px">–</text>
<text x="39.00" y="578.65" font-size="4.8" text-anchor="middle" fill="#1a1a1a" style="stroke-width:0.5px">–</text>
<text x="43.30" y="578.65" font-size="4.8" text-anchor="middle" fill="#1a1a1a" style="stroke-width:0.5px">–</text>
<text x="50.20" y="578.65" font-size="4.8" text-anchor="middle" fill="#1a1a1a" style="stroke-width:0.5px">–</text>
<text x="54.50" y="578.65" font-size="4.8" text-anchor="middle" fill="#1a1a1a" style="stroke-width:0.5px">–</text>
<text x="58.80" y="578.65" font-size="4.8" text-anchor="middle" fill="#1a1a1a" style="stroke-width:0.5px">–</text>
<text x="63.10" y="578.65" font-size="4.8" text-anchor="middle" fill="#1a1a1a" style="stroke-width:0.5px">–</text>
<text x="70.20" y="579.45" font-size="6.5" text-anchor="middle" fill="#1a1a1a">+</text>
<text x="74.50" y="579.45" font-size="6.5" text-anchor="middle" fill="#1a1a1a">+</text>
<text x="78.80" y="579.45" font-size="6.5" text-anchor="middle" fill="#1a1a1a">+</text>
<text x="83.10" y="579.45" font-size="6.5" text-anchor="middle" fill="#1a1a1a">+</text>
<line x1="122.80" y1="471.90" x2="122.80" y2="530.60" stroke="#9a9a9a" stroke-width="0.8"/>
<line x1="120.20" y1="530.60" x2="122.80" y2="530.60" stroke="#9a9a9a" stroke-width="0.8"/>
<text x="118.20" y="532.60" font-size="6.0" text-anchor="end" fill="#1c1c1c" style="stroke-width:0.3px">0</text>
<line x1="120.20" y1="511.03" x2="122.80" y2="511.03" stroke="#9a9a9a" stroke-width="0.8"/>
<text x="118.20" y="513.03" font-size="6.0" text-anchor="end" fill="#1c1c1c" style="stroke-width:0.3px">10</text>
<line x1="120.20" y1="491.47" x2="122.80" y2="491.47" stroke="#9a9a9a" stroke-width="0.8"/>
<text x="118.20" y="493.47" font-size="6.0" text-anchor="end" fill="#1c1c1c" style="stroke-width:0.3px">20</text>
<line x1="120.20" y1="471.90" x2="122.80" y2="471.90" stroke="#9a9a9a" stroke-width="0.8"/>
<text x="118.20" y="473.90" font-size="6.0" text-anchor="end" fill="#1c1c1c" style="stroke-width:0.3px">30</text>
<line x1="122.80" y1="530.60" x2="186.19" y2="530.60" stroke="#9a9a9a" stroke-width="0.8"/>
<line x1="123.44" y1="530.60" x2="123.44" y2="533.00" stroke="#9a9a9a" stroke-width="0.7"/>
<line x1="128.66" y1="530.60" x2="128.66" y2="533.00" stroke="#9a9a9a" stroke-width="0.7"/>
<line x1="133.90" y1="530.60" x2="133.90" y2="533.00" stroke="#9a9a9a" stroke-width="0.7"/>
<line x1="139.12" y1="530.60" x2="139.12" y2="533.00" stroke="#9a9a9a" stroke-width="0.7"/>
<line x1="144.36" y1="530.60" x2="144.36" y2="533.00" stroke="#9a9a9a" stroke-width="0.7"/>
<line x1="149.59" y1="530.60" x2="149.59" y2="533.00" stroke="#9a9a9a" stroke-width="0.7"/>
<line x1="154.81" y1="530.60" x2="154.81" y2="533.00" stroke="#9a9a9a" stroke-width="0.7"/>
<line x1="160.05" y1="530.60" x2="160.05" y2="533.00" stroke="#9a9a9a" stroke-width="0.7"/>
<line x1="165.28" y1="530.60" x2="165.28" y2="533.00" stroke="#9a9a9a" stroke-width="0.7"/>
<line x1="170.50" y1="530.60" x2="170.50" y2="533.00" stroke="#9a9a9a" stroke-width="0.7"/>
<line x1="175.74" y1="530.60" x2="175.74" y2="533.00" stroke="#9a9a9a" stroke-width="0.7"/>
<line x1="180.97" y1="530.60" x2="180.97" y2="533.00" stroke="#9a9a9a" stroke-width="0.7"/>
<line x1="186.19" y1="530.60" x2="186.19" y2="533.00" stroke="#9a9a9a" stroke-width="0.7"/>
<rect x="124.45" y="528.06" width="3.20" height="2.54" fill="#cfcfcf"/>
<line x1="126.05" y1="527.66" x2="126.05" y2="530.60" stroke="#a4a4a4" stroke-width="0.8"/>
<line x1="124.05" y1="527.66" x2="128.05" y2="527.66" stroke="#3a3a3a" stroke-width="0.9"/>
<rect x="129.68" y="528.65" width="3.20" height="1.95" fill="#cfcfcf"/>
<line x1="131.28" y1="528.25" x2="131.28" y2="530.60" stroke="#a4a4a4" stroke-width="0.8"/>
<line x1="129.28" y1="528.25" x2="133.28" y2="528.25" stroke="#3a3a3a" stroke-width="0.9"/>
<rect x="135.46" y="479.53" width="2.10" height="51.07" fill="#a4a4a4"/>
<line x1="134.51" y1="479.53" x2="138.51" y2="479.53" stroke="#3a3a3a" stroke-width="0.9"/>
<rect x="140.69" y="495.18" width="2.10" height="35.42" fill="#a4a4a4"/>
<line x1="139.74" y1="495.18" x2="143.74" y2="495.18" stroke="#3a3a3a" stroke-width="0.9"/>
<rect x="145.37" y="528.06" width="3.20" height="2.54" fill="#cfcfcf"/>
<line x1="146.97" y1="527.66" x2="146.97" y2="530.60" stroke="#a4a4a4" stroke-width="0.8"/>
<line x1="144.97" y1="527.66" x2="148.97" y2="527.66" stroke="#3a3a3a" stroke-width="0.9"/>
<rect x="150.60" y="528.65" width="3.20" height="1.95" fill="#cfcfcf"/>
<line x1="152.20" y1="528.25" x2="152.20" y2="530.60" stroke="#a4a4a4" stroke-width="0.8"/>
<line x1="150.20" y1="528.25" x2="154.20" y2="528.25" stroke="#3a3a3a" stroke-width="0.9"/>
<rect x="156.38" y="505.16" width="2.10" height="25.44" fill="#a4a4a4"/>
<line x1="155.43" y1="505.16" x2="159.43" y2="505.16" stroke="#3a3a3a" stroke-width="0.9"/>
<rect x="161.61" y="504.19" width="2.10" height="26.42" fill="#a4a4a4"/>
<line x1="160.66" y1="504.19" x2="164.66" y2="504.19" stroke="#3a3a3a" stroke-width="0.9"/>
<rect x="166.29" y="528.06" width="3.20" height="2.54" fill="#cfcfcf"/>
<line x1="167.89" y1="527.66" x2="167.89" y2="530.60" stroke="#a4a4a4" stroke-width="0.8"/>
<line x1="165.89" y1="527.66" x2="169.89" y2="527.66" stroke="#3a3a3a" stroke-width="0.9"/>
<rect x="171.52" y="528.65" width="3.20" height="1.95" fill="#cfcfcf"/>
<line x1="173.12" y1="528.25" x2="173.12" y2="530.60" stroke="#a4a4a4" stroke-width="0.8"/>
<line x1="171.12" y1="528.25" x2="175.12" y2="528.25" stroke="#3a3a3a" stroke-width="0.9"/>
<rect x="177.30" y="500.27" width="2.10" height="30.33" fill="#a4a4a4"/>
<line x1="176.35" y1="500.27" x2="180.35" y2="500.27" stroke="#3a3a3a" stroke-width="0.9"/>
<rect x="182.53" y="499.68" width="2.10" height="30.92" fill="#a4a4a4"/>
<line x1="181.58" y1="499.68" x2="185.58" y2="499.68" stroke="#3a3a3a" stroke-width="0.9"/>
<polyline points="136.51,477.93 136.51,470.70 176.00,470.70 176.00,491.70" fill="none" stroke="#8a8a8a" stroke-width="0.8"/>
<polyline points="137.11,474.50 156.00,474.50 156.00,495.70" fill="none" stroke="#8a8a8a" stroke-width="0.8"/>
<polyline points="137.11,477.50 141.74,477.50 141.74,494.18" fill="none" stroke="#8a8a8a" stroke-width="0.8"/>
<text x="146.44" y="479.90" font-size="5.4" text-anchor="middle" textLength="9.00" lengthAdjust="spacing" style="stroke-width:0.4px">***</text>
<text x="146.44" y="475.90" font-size="5.4" text-anchor="middle" textLength="9.00" lengthAdjust="spacing" style="stroke-width:0.4px">***</text>
<text x="158.48" y="472.40" font-size="5.4" text-anchor="middle" textLength="9.00" lengthAdjust="spacing" style="stroke-width:0.4px">***</text>
<text x="159.70" y="500.10" font-size="6.5" text-anchor="middle" fill="#1a1a1a" textLength="7.00" lengthAdjust="spacingAndGlyphs" style="stroke-width:0.24px">ns</text>
<line x1="155.63" y1="501.70" x2="164.46" y2="501.70" stroke="#555" stroke-width="0.7"/>
<text x="179.50" y="496.10" font-size="6.5" text-anchor="middle" fill="#1a1a1a" textLength="7.00" lengthAdjust="spacingAndGlyphs" style="stroke-width:0.24px">ns</text>
<line x1="176.55" y1="497.00" x2="185.38" y2="497.00" stroke="#555" stroke-width="0.7"/>
<text x="155.00" y="456.00" font-size="6.3" text-anchor="middle" fill="#1a1a1a">CXCL2</text>
<text x="125.10" y="465.20" font-size="6.6" fill="#111" textLength="16.92" lengthAdjust="spacingAndGlyphs" style="stroke-width:0.3px">sgCTL</text>
<line x1="125.06" y1="467.40" x2="143.15" y2="467.40" stroke="#111" stroke-width="1.25"/>
<text x="143.20" y="465.20" font-size="6.6" fill="#111" textLength="25.61" lengthAdjust="spacingAndGlyphs" style="stroke-width:0.3px">sgSTAT1</text>
<line x1="147.47" y1="467.40" x2="165.76" y2="467.40" stroke="#111" stroke-width="1.25"/>
<text x="170.37" y="465.20" font-size="6.6" fill="#111" textLength="18.53" lengthAdjust="spacingAndGlyphs" style="stroke-width:0.3px">sgCDK7</text>
<line x1="169.24" y1="467.40" x2="187.59" y2="467.40" stroke="#111" stroke-width="1.25"/>
<text x="105.50" y="500.30" font-size="6.2" text-anchor="middle" fill="#1a1a1a" textLength="57.60" lengthAdjust="spacingAndGlyphs" transform="rotate(-90 105.50 500.30)">Normalized values</text>
<text x="100.80" y="539.90" font-size="6.6" fill="#1a1a1a" textLength="18.10" lengthAdjust="spacingAndGlyphs">CAR-T</text>
<text x="129.50" y="538.55" font-size="4.8" text-anchor="middle" fill="#1a1a1a" style="stroke-width:0.5px">–</text>
<text x="133.95" y="538.55" font-size="4.8" text-anchor="middle" fill="#1a1a1a" style="stroke-width:0.5px">–</text>
<text x="138.40" y="539.35" font-size="6.5" text-anchor="middle" fill="#1a1a1a">+</text>
<text x="142.85" y="539.35" font-size="6.5" text-anchor="middle" fill="#1a1a1a">+</text>
<text x="148.50" y="538.55" font-size="4.8" text-anchor="middle" fill="#1a1a1a" style="stroke-width:0.5px">–</text>
<text x="152.95" y="538.55" font-size="4.8" text-anchor="middle" fill="#1a1a1a" style="stroke-width:0.5px">–</text>
<text x="157.40" y="539.35" font-size="6.5" text-anchor="middle" fill="#1a1a1a">+</text>
<text x="161.85" y="539.35" font-size="6.5" text-anchor="middle" fill="#1a1a1a">+</text>
<text x="169.30" y="538.55" font-size="4.8" text-anchor="middle" fill="#1a1a1a" style="stroke-width:0.5px">–</text>
<text x="173.75" y="538.55" font-size="4.8" text-anchor="middle" fill="#1a1a1a" style="stroke-width:0.5px">–</text>
<text x="178.20" y="539.35" font-size="6.5" text-anchor="middle" fill="#1a1a1a">+</text>
<text x="182.65" y="539.35" font-size="6.5" text-anchor="middle" fill="#1a1a1a">+</text>
<text x="100.80" y="550.00" font-size="6.6" fill="#1a1a1a" textLength="15.00" lengthAdjust="spacingAndGlyphs">THZ1</text>
<text x="129.50" y="548.65" font-size="4.8" text-anchor="middle" fill="#1a1a1a" style="stroke-width:0.5px">–</text>
<text x="133.95" y="549.45" font-size="6.5" text-anchor="middle" fill="#1a1a1a">+</text>
<text x="138.40" y="548.65" font-size="4.8" text-anchor="middle" fill="#1a1a1a" style="stroke-width:0.5px">–</text>
<text x="142.85" y="549.45" font-size="6.5" text-anchor="middle" fill="#1a1a1a">+</text>
<text x="148.50" y="548.65" font-size="4.8" text-anchor="middle" fill="#1a1a1a" style="stroke-width:0.5px">–</text>
<text x="152.95" y="549.45" font-size="6.5" text-anchor="middle" fill="#1a1a1a">+</text>
<text x="157.40" y="548.65" font-size="4.8" text-anchor="middle" fill="#1a1a1a" style="stroke-width:0.5px">–</text>
<text x="161.85" y="549.45" font-size="6.5" text-anchor="middle" fill="#1a1a1a">+</text>
<text x="169.30" y="548.65" font-size="4.8" text-anchor="middle" fill="#1a1a1a" style="stroke-width:0.5px">–</text>
<text x="173.75" y="549.45" font-size="6.5" text-anchor="middle" fill="#1a1a1a">+</text>
<text x="178.20" y="548.65" font-size="4.8" text-anchor="middle" fill="#1a1a1a" style="stroke-width:0.5px">–</text>
<text x="182.65" y="549.45" font-size="6.5" text-anchor="middle" fill="#1a1a1a">+</text>
<text x="100.80" y="560.50" font-size="6.6" fill="#1a1a1a" textLength="16.10" lengthAdjust="spacingAndGlyphs">sgCTL</text>
<text x="129.50" y="559.95" font-size="6.5" text-anchor="middle" fill="#1a1a1a">+</text>
<text x="133.95" y="559.95" font-size="6.5" text-anchor="middle" fill="#1a1a1a">+</text>
<text x="138.40" y="559.95" font-size="6.5" text-anchor="middle" fill="#1a1a1a">+</text>
<text x="142.85" y="559.95" font-size="6.5" text-anchor="middle" fill="#1a1a1a">+</text>
<text x="148.50" y="559.15" font-size="4.8" text-anchor="middle" fill="#1a1a1a" style="stroke-width:0.5px">–</text>
<text x="152.95" y="559.15" font-size="4.8" text-anchor="middle" fill="#1a1a1a" style="stroke-width:0.5px">–</text>
<text x="157.40" y="559.15" font-size="4.8" text-anchor="middle" fill="#1a1a1a" style="stroke-width:0.5px">–</text>
<text x="161.85" y="559.15" font-size="4.8" text-anchor="middle" fill="#1a1a1a" style="stroke-width:0.5px">–</text>
<text x="169.30" y="559.15" font-size="4.8" text-anchor="middle" fill="#1a1a1a" style="stroke-width:0.5px">–</text>
<text x="173.75" y="559.15" font-size="4.8" text-anchor="middle" fill="#1a1a1a" style="stroke-width:0.5px">–</text>
<text x="178.20" y="559.15" font-size="4.8" text-anchor="middle" fill="#1a1a1a" style="stroke-width:0.5px">–</text>
<text x="182.65" y="559.15" font-size="4.8" text-anchor="middle" fill="#1a1a1a" style="stroke-width:0.5px">–</text>
<text x="100.80" y="570.60" font-size="6.6" fill="#1a1a1a" textLength="24.20" lengthAdjust="spacingAndGlyphs">sgSTAT1</text>
<text x="129.50" y="569.25" font-size="4.8" text-anchor="middle" fill="#1a1a1a" style="stroke-width:0.5px">–</text>
<text x="133.95" y="569.25" font-size="4.8" text-anchor="middle" fill="#1a1a1a" style="stroke-width:0.5px">–</text>
<text x="138.40" y="569.25" font-size="4.8" text-anchor="middle" fill="#1a1a1a" style="stroke-width:0.5px">–</text>
<text x="142.85" y="569.25" font-size="4.8" text-anchor="middle" fill="#1a1a1a" style="stroke-width:0.5px">–</text>
<text x="148.50" y="570.05" font-size="6.5" text-anchor="middle" fill="#1a1a1a">+</text>
<text x="152.95" y="570.05" font-size="6.5" text-anchor="middle" fill="#1a1a1a">+</text>
<text x="157.40" y="570.05" font-size="6.5" text-anchor="middle" fill="#1a1a1a">+</text>
<text x="161.85" y="570.05" font-size="6.5" text-anchor="middle" fill="#1a1a1a">+</text>
<text x="169.30" y="569.25" font-size="4.8" text-anchor="middle" fill="#1a1a1a" style="stroke-width:0.5px">–</text>
<text x="173.75" y="569.25" font-size="4.8" text-anchor="middle" fill="#1a1a1a" style="stroke-width:0.5px">–</text>
<text x="178.20" y="569.25" font-size="4.8" text-anchor="middle" fill="#1a1a1a" style="stroke-width:0.5px">–</text>
<text x="182.65" y="569.25" font-size="4.8" text-anchor="middle" fill="#1a1a1a" style="stroke-width:0.5px">–</text>
<text x="100.80" y="580.70" font-size="6.6" fill="#1a1a1a" textLength="21.70" lengthAdjust="spacingAndGlyphs">sgCDK7</text>
<text x="129.50" y="579.35" font-size="4.8" text-anchor="middle" fill="#1a1a1a" style="stroke-width:0.5px">–</text>
<text x="133.95" y="579.35" font-size="4.8" text-anchor="middle" fill="#1a1a1a" style="stroke-width:0.5px">–</text>
<text x="138.40" y="579.35" font-size="4.8" text-anchor="middle" fill="#1a1a1a" style="stroke-width:0.5px">–</text>
<text x="142.85" y="579.35" font-size="4.8" text-anchor="middle" fill="#1a1a1a" style="stroke-width:0.5px">–</text>
<text x="148.50" y="579.35" font-size="4.8" text-anchor="middle" fill="#1a1a1a" style="stroke-width:0.5px">–</text>
<text x="152.95" y="579.35" font-size="4.8" text-anchor="middle" fill="#1a1a1a" style="stroke-width:0.5px">–</text>
<text x="157.40" y="579.35" font-size="4.8" text-anchor="middle" fill="#1a1a1a" style="stroke-width:0.5px">–</text>
<text x="161.85" y="579.35" font-size="4.8" text-anchor="middle" fill="#1a1a1a" style="stroke-width:0.5px">–</text>
<text x="169.30" y="580.15" font-size="6.5" text-anchor="middle" fill="#1a1a1a">+</text>
<text x="173.75" y="580.15" font-size="6.5" text-anchor="middle" fill="#1a1a1a">+</text>
<text x="178.20" y="580.15" font-size="6.5" text-anchor="middle" fill="#1a1a1a">+</text>
<text x="182.65" y="580.15" font-size="6.5" text-anchor="middle" fill="#1a1a1a">+</text>
<line x1="230.60" y1="474.40" x2="230.60" y2="532.60" stroke="#9a9a9a" stroke-width="0.8"/>
<line x1="228.00" y1="532.60" x2="230.60" y2="532.60" stroke="#9a9a9a" stroke-width="0.8"/>
<text x="226.00" y="534.60" font-size="6.0" text-anchor="end" fill="#1c1c1c" style="stroke-width:0.3px">0</text>
<line x1="228.00" y1="518.05" x2="230.60" y2="518.05" stroke="#9a9a9a" stroke-width="0.8"/>
<text x="226.00" y="520.05" font-size="6.0" text-anchor="end" fill="#1c1c1c" style="stroke-width:0.3px">500</text>
<line x1="228.00" y1="503.50" x2="230.60" y2="503.50" stroke="#9a9a9a" stroke-width="0.8"/>
<text x="226.00" y="505.50" font-size="6.0" text-anchor="end" fill="#1c1c1c" style="stroke-width:0.3px">1,000</text>
<line x1="228.00" y1="488.95" x2="230.60" y2="488.95" stroke="#9a9a9a" stroke-width="0.8"/>
<text x="226.00" y="490.95" font-size="6.0" text-anchor="end" fill="#1c1c1c" style="stroke-width:0.3px">1,500</text>
<line x1="228.00" y1="474.40" x2="230.60" y2="474.40" stroke="#9a9a9a" stroke-width="0.8"/>
<text x="226.00" y="476.40" font-size="6.0" text-anchor="end" fill="#1c1c1c" style="stroke-width:0.3px">2,000</text>
<line x1="230.60" y1="532.60" x2="292.19" y2="532.60" stroke="#9a9a9a" stroke-width="0.8"/>
<line x1="230.69" y1="532.60" x2="230.69" y2="535.00" stroke="#9a9a9a" stroke-width="0.7"/>
<line x1="235.81" y1="532.60" x2="235.81" y2="535.00" stroke="#9a9a9a" stroke-width="0.7"/>
<line x1="240.94" y1="532.60" x2="240.94" y2="535.00" stroke="#9a9a9a" stroke-width="0.7"/>
<line x1="246.06" y1="532.60" x2="246.06" y2="535.00" stroke="#9a9a9a" stroke-width="0.7"/>
<line x1="251.19" y1="532.60" x2="251.19" y2="535.00" stroke="#9a9a9a" stroke-width="0.7"/>
<line x1="256.31" y1="532.60" x2="256.31" y2="535.00" stroke="#9a9a9a" stroke-width="0.7"/>
<line x1="261.44" y1="532.60" x2="261.44" y2="535.00" stroke="#9a9a9a" stroke-width="0.7"/>
<line x1="266.56" y1="532.60" x2="266.56" y2="535.00" stroke="#9a9a9a" stroke-width="0.7"/>
<line x1="271.69" y1="532.60" x2="271.69" y2="535.00" stroke="#9a9a9a" stroke-width="0.7"/>
<line x1="276.81" y1="532.60" x2="276.81" y2="535.00" stroke="#9a9a9a" stroke-width="0.7"/>
<line x1="281.94" y1="532.60" x2="281.94" y2="535.00" stroke="#9a9a9a" stroke-width="0.7"/>
<line x1="287.06" y1="532.60" x2="287.06" y2="535.00" stroke="#9a9a9a" stroke-width="0.7"/>
<line x1="292.19" y1="532.60" x2="292.19" y2="535.00" stroke="#9a9a9a" stroke-width="0.7"/>
<rect x="231.65" y="532.13" width="3.20" height="0.47" fill="#cfcfcf"/>
<line x1="233.25" y1="531.73" x2="233.25" y2="532.60" stroke="#a4a4a4" stroke-width="0.8"/>
<line x1="231.25" y1="531.73" x2="235.25" y2="531.73" stroke="#3a3a3a" stroke-width="0.9"/>
<rect x="236.78" y="532.27" width="3.20" height="0.33" fill="#cfcfcf"/>
<line x1="238.38" y1="531.87" x2="238.38" y2="532.60" stroke="#a4a4a4" stroke-width="0.8"/>
<line x1="236.38" y1="531.87" x2="240.38" y2="531.87" stroke="#3a3a3a" stroke-width="0.9"/>
<rect x="242.45" y="487.44" width="2.10" height="45.16" fill="#a4a4a4"/>
<line x1="241.50" y1="487.44" x2="245.50" y2="487.44" stroke="#3a3a3a" stroke-width="0.9"/>
<rect x="247.57" y="501.26" width="2.10" height="31.34" fill="#a4a4a4"/>
<line x1="246.62" y1="501.26" x2="250.62" y2="501.26" stroke="#3a3a3a" stroke-width="0.9"/>
<rect x="252.15" y="532.13" width="3.20" height="0.47" fill="#cfcfcf"/>
<line x1="253.75" y1="531.73" x2="253.75" y2="532.60" stroke="#a4a4a4" stroke-width="0.8"/>
<line x1="251.75" y1="531.73" x2="255.75" y2="531.73" stroke="#3a3a3a" stroke-width="0.9"/>
<rect x="257.27" y="532.27" width="3.20" height="0.33" fill="#cfcfcf"/>
<line x1="258.88" y1="531.87" x2="258.88" y2="532.60" stroke="#a4a4a4" stroke-width="0.8"/>
<line x1="256.88" y1="531.87" x2="260.88" y2="531.87" stroke="#3a3a3a" stroke-width="0.9"/>
<rect x="262.95" y="510.37" width="2.10" height="22.23" fill="#a4a4a4"/>
<line x1="262.00" y1="510.37" x2="266.00" y2="510.37" stroke="#3a3a3a" stroke-width="0.9"/>
<rect x="268.07" y="510.37" width="2.10" height="22.23" fill="#a4a4a4"/>
<line x1="267.12" y1="510.37" x2="271.12" y2="510.37" stroke="#3a3a3a" stroke-width="0.9"/>
<rect x="272.65" y="532.13" width="3.20" height="0.47" fill="#cfcfcf"/>
<line x1="274.25" y1="531.73" x2="274.25" y2="532.60" stroke="#a4a4a4" stroke-width="0.8"/>
<line x1="272.25" y1="531.73" x2="276.25" y2="531.73" stroke="#3a3a3a" stroke-width="0.9"/>
<rect x="277.77" y="532.27" width="3.20" height="0.33" fill="#cfcfcf"/>
<line x1="279.38" y1="531.87" x2="279.38" y2="532.60" stroke="#a4a4a4" stroke-width="0.8"/>
<line x1="277.38" y1="531.87" x2="281.38" y2="531.87" stroke="#3a3a3a" stroke-width="0.9"/>
<rect x="283.45" y="509.67" width="2.10" height="22.93" fill="#a4a4a4"/>
<line x1="282.50" y1="509.67" x2="286.50" y2="509.67" stroke="#3a3a3a" stroke-width="0.9"/>
<rect x="288.57" y="509.26" width="2.10" height="23.34" fill="#a4a4a4"/>
<line x1="287.62" y1="509.26" x2="291.62" y2="509.26" stroke="#3a3a3a" stroke-width="0.9"/>
<polyline points="243.50,485.84 243.50,474.30 283.40,474.30 283.40,501.10" fill="none" stroke="#8a8a8a" stroke-width="0.8"/>
<polyline points="244.10,478.40 263.00,478.40 263.00,502.40" fill="none" stroke="#8a8a8a" stroke-width="0.8"/>
<polyline points="244.10,481.50 248.62,481.50 248.62,500.26" fill="none" stroke="#8a8a8a" stroke-width="0.8"/>
<text x="250.22" y="483.20" font-size="5.4" text-anchor="middle" textLength="9.00" lengthAdjust="spacing" style="stroke-width:0.4px">***</text>
<text x="250.22" y="479.70" font-size="5.4" text-anchor="middle" textLength="9.00" lengthAdjust="spacing" style="stroke-width:0.4px">***</text>
<text x="264.51" y="475.40" font-size="5.4" text-anchor="middle" textLength="9.00" lengthAdjust="spacing" style="stroke-width:0.4px">***</text>
<text x="266.70" y="506.80" font-size="6.5" text-anchor="middle" fill="#1a1a1a" textLength="7.00" lengthAdjust="spacingAndGlyphs" style="stroke-width:0.24px">ns</text>
<line x1="262.20" y1="508.00" x2="270.93" y2="508.00" stroke="#555" stroke-width="0.7"/>
<text x="286.90" y="505.50" font-size="6.5" text-anchor="middle" fill="#1a1a1a" textLength="7.00" lengthAdjust="spacingAndGlyphs" style="stroke-width:0.24px">ns</text>
<line x1="282.70" y1="507.00" x2="291.43" y2="507.00" stroke="#555" stroke-width="0.7"/>
<text x="260.20" y="456.80" font-size="6.3" text-anchor="middle" fill="#1a1a1a">IDO1</text>
<text x="232.50" y="466.00" font-size="6.6" fill="#111" textLength="17.08" lengthAdjust="spacingAndGlyphs" style="stroke-width:0.3px">sgCTL</text>
<line x1="232.46" y1="468.20" x2="250.72" y2="468.20" stroke="#111" stroke-width="1.25"/>
<text x="250.76" y="466.00" font-size="6.6" fill="#111" textLength="25.85" lengthAdjust="spacingAndGlyphs" style="stroke-width:0.3px">sgSTAT1</text>
<line x1="255.08" y1="468.20" x2="273.54" y2="468.20" stroke="#111" stroke-width="1.25"/>
<text x="278.19" y="466.00" font-size="6.6" fill="#111" textLength="18.71" lengthAdjust="spacingAndGlyphs" style="stroke-width:0.3px">sgCDK7</text>
<line x1="277.05" y1="468.20" x2="295.57" y2="468.20" stroke="#111" stroke-width="1.25"/>
<text x="206.60" y="501.80" font-size="6.2" text-anchor="middle" fill="#1a1a1a" textLength="57.60" lengthAdjust="spacingAndGlyphs" transform="rotate(-90 206.60 501.80)">Normalized values</text>
<text x="205.40" y="540.80" font-size="6.6" fill="#1a1a1a" textLength="18.10" lengthAdjust="spacingAndGlyphs">CAR-T</text>
<text x="234.70" y="539.45" font-size="4.8" text-anchor="middle" fill="#1a1a1a" style="stroke-width:0.5px">–</text>
<text x="238.95" y="539.45" font-size="4.8" text-anchor="middle" fill="#1a1a1a" style="stroke-width:0.5px">–</text>
<text x="243.20" y="540.25" font-size="6.5" text-anchor="middle" fill="#1a1a1a">+</text>
<text x="247.45" y="540.25" font-size="6.5" text-anchor="middle" fill="#1a1a1a">+</text>
<text x="256.90" y="539.45" font-size="4.8" text-anchor="middle" fill="#1a1a1a" style="stroke-width:0.5px">–</text>
<text x="261.15" y="539.45" font-size="4.8" text-anchor="middle" fill="#1a1a1a" style="stroke-width:0.5px">–</text>
<text x="265.40" y="540.25" font-size="6.5" text-anchor="middle" fill="#1a1a1a">+</text>
<text x="269.65" y="540.25" font-size="6.5" text-anchor="middle" fill="#1a1a1a">+</text>
<text x="279.20" y="539.45" font-size="4.8" text-anchor="middle" fill="#1a1a1a" style="stroke-width:0.5px">–</text>
<text x="283.45" y="539.45" font-size="4.8" text-anchor="middle" fill="#1a1a1a" style="stroke-width:0.5px">–</text>
<text x="287.70" y="540.25" font-size="6.5" text-anchor="middle" fill="#1a1a1a">+</text>
<text x="291.95" y="540.25" font-size="6.5" text-anchor="middle" fill="#1a1a1a">+</text>
<text x="205.40" y="551.40" font-size="6.6" fill="#1a1a1a" textLength="15.00" lengthAdjust="spacingAndGlyphs">THZ1</text>
<text x="234.70" y="550.05" font-size="4.8" text-anchor="middle" fill="#1a1a1a" style="stroke-width:0.5px">–</text>
<text x="238.95" y="550.85" font-size="6.5" text-anchor="middle" fill="#1a1a1a">+</text>
<text x="243.20" y="550.05" font-size="4.8" text-anchor="middle" fill="#1a1a1a" style="stroke-width:0.5px">–</text>
<text x="247.45" y="550.85" font-size="6.5" text-anchor="middle" fill="#1a1a1a">+</text>
<text x="256.90" y="550.05" font-size="4.8" text-anchor="middle" fill="#1a1a1a" style="stroke-width:0.5px">–</text>
<text x="261.15" y="550.85" font-size="6.5" text-anchor="middle" fill="#1a1a1a">+</text>
<text x="265.40" y="550.05" font-size="4.8" text-anchor="middle" fill="#1a1a1a" style="stroke-width:0.5px">–</text>
<text x="269.65" y="550.85" font-size="6.5" text-anchor="middle" fill="#1a1a1a">+</text>
<text x="279.20" y="550.05" font-size="4.8" text-anchor="middle" fill="#1a1a1a" style="stroke-width:0.5px">–</text>
<text x="283.45" y="550.85" font-size="6.5" text-anchor="middle" fill="#1a1a1a">+</text>
<text x="287.70" y="550.05" font-size="4.8" text-anchor="middle" fill="#1a1a1a" style="stroke-width:0.5px">–</text>
<text x="291.95" y="550.85" font-size="6.5" text-anchor="middle" fill="#1a1a1a">+</text>
<text x="205.40" y="561.70" font-size="6.6" fill="#1a1a1a" textLength="14.60" lengthAdjust="spacingAndGlyphs">siCTL</text>
<text x="234.70" y="561.15" font-size="6.5" text-anchor="middle" fill="#1a1a1a">+</text>
<text x="238.95" y="561.15" font-size="6.5" text-anchor="middle" fill="#1a1a1a">+</text>
<text x="243.20" y="561.15" font-size="6.5" text-anchor="middle" fill="#1a1a1a">+</text>
<text x="247.45" y="561.15" font-size="6.5" text-anchor="middle" fill="#1a1a1a">+</text>
<text x="256.90" y="560.35" font-size="4.8" text-anchor="middle" fill="#1a1a1a" style="stroke-width:0.5px">–</text>
<text x="261.15" y="560.35" font-size="4.8" text-anchor="middle" fill="#1a1a1a" style="stroke-width:0.5px">–</text>
<text x="265.40" y="560.35" font-size="4.8" text-anchor="middle" fill="#1a1a1a" style="stroke-width:0.5px">–</text>
<text x="269.65" y="560.35" font-size="4.8" text-anchor="middle" fill="#1a1a1a" style="stroke-width:0.5px">–</text>
<text x="279.20" y="560.35" font-size="4.8" text-anchor="middle" fill="#1a1a1a" style="stroke-width:0.5px">–</text>
<text x="283.45" y="560.35" font-size="4.8" text-anchor="middle" fill="#1a1a1a" style="stroke-width:0.5px">–</text>
<text x="287.70" y="560.35" font-size="4.8" text-anchor="middle" fill="#1a1a1a" style="stroke-width:0.5px">–</text>
<text x="291.95" y="560.35" font-size="4.8" text-anchor="middle" fill="#1a1a1a" style="stroke-width:0.5px">–</text>
<text x="205.40" y="570.90" font-size="6.6" fill="#1a1a1a" textLength="22.60" lengthAdjust="spacingAndGlyphs">siSTAT1</text>
<text x="234.70" y="569.55" font-size="4.8" text-anchor="middle" fill="#1a1a1a" style="stroke-width:0.5px">–</text>
<text x="238.95" y="569.55" font-size="4.8" text-anchor="middle" fill="#1a1a1a" style="stroke-width:0.5px">–</text>
<text x="243.20" y="569.55" font-size="4.8" text-anchor="middle" fill="#1a1a1a" style="stroke-width:0.5px">–</text>
<text x="247.45" y="569.55" font-size="4.8" text-anchor="middle" fill="#1a1a1a" style="stroke-width:0.5px">–</text>
<text x="256.90" y="570.35" font-size="6.5" text-anchor="middle" fill="#1a1a1a">+</text>
<text x="261.15" y="570.35" font-size="6.5" text-anchor="middle" fill="#1a1a1a">+</text>
<text x="265.40" y="570.35" font-size="6.5" text-anchor="middle" fill="#1a1a1a">+</text>
<text x="269.65" y="570.35" font-size="6.5" text-anchor="middle" fill="#1a1a1a">+</text>
<text x="279.20" y="569.55" font-size="4.8" text-anchor="middle" fill="#1a1a1a" style="stroke-width:0.5px">–</text>
<text x="283.45" y="569.55" font-size="4.8" text-anchor="middle" fill="#1a1a1a" style="stroke-width:0.5px">–</text>
<text x="287.70" y="569.55" font-size="4.8" text-anchor="middle" fill="#1a1a1a" style="stroke-width:0.5px">–</text>
<text x="291.95" y="569.55" font-size="4.8" text-anchor="middle" fill="#1a1a1a" style="stroke-width:0.5px">–</text>
<text x="205.40" y="581.50" font-size="6.6" fill="#1a1a1a" textLength="20.20" lengthAdjust="spacingAndGlyphs">siCDK7</text>
<text x="234.70" y="580.15" font-size="4.8" text-anchor="middle" fill="#1a1a1a" style="stroke-width:0.5px">–</text>
<text x="238.95" y="580.15" font-size="4.8" text-anchor="middle" fill="#1a1a1a" style="stroke-width:0.5px">–</text>
<text x="243.20" y="580.15" font-size="4.8" text-anchor="middle" fill="#1a1a1a" style="stroke-width:0.5px">–</text>
<text x="247.45" y="580.15" font-size="4.8" text-anchor="middle" fill="#1a1a1a" style="stroke-width:0.5px">–</text>
<text x="256.90" y="580.15" font-size="4.8" text-anchor="middle" fill="#1a1a1a" style="stroke-width:0.5px">–</text>
<text x="261.15" y="580.15" font-size="4.8" text-anchor="middle" fill="#1a1a1a" style="stroke-width:0.5px">–</text>
<text x="265.40" y="580.15" font-size="4.8" text-anchor="middle" fill="#1a1a1a" style="stroke-width:0.5px">–</text>
<text x="269.65" y="580.15" font-size="4.8" text-anchor="middle" fill="#1a1a1a" style="stroke-width:0.5px">–</text>
<text x="279.20" y="580.95" font-size="6.5" text-anchor="middle" fill="#1a1a1a">+</text>
<text x="283.45" y="580.95" font-size="6.5" text-anchor="middle" fill="#1a1a1a">+</text>
<text x="287.70" y="580.95" font-size="6.5" text-anchor="middle" fill="#1a1a1a">+</text>
<text x="291.95" y="580.95" font-size="6.5" text-anchor="middle" fill="#1a1a1a">+</text>
</svg>
</body></html>
